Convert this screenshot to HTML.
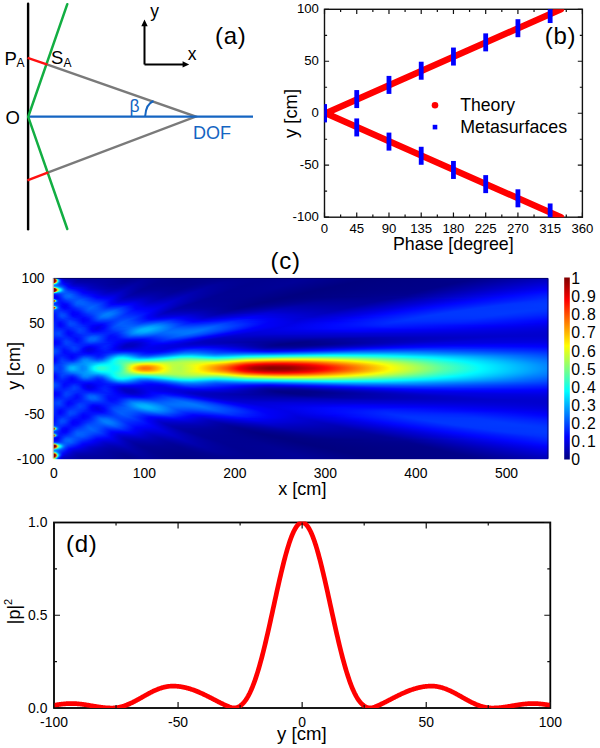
<!DOCTYPE html>
<html><head><meta charset="utf-8"><style>
html,body{margin:0;padding:0;background:#fff;}
body{width:600px;height:748px;overflow:hidden;}
svg{display:block;font-family:"Liberation Sans", sans-serif;}
</style></head><body>
<svg width="600" height="748" viewBox="0 0 600 748">
<rect width="600" height="748" fill="#fff"/>
<path d="M28.1,3.8 V229.2" stroke="#000" stroke-width="2.4" fill="none" stroke-linecap="round"/>
<path d="M47.5,64.6 L195.8,116.6 L48.3,172.3" stroke="#7a7a7a" stroke-width="2.4" fill="none" stroke-linejoin="miter"/>
<path d="M28,116.6 H253" stroke="#1565c2" stroke-width="2.2" fill="none"/>
<path d="M67.3,4.2 L28.2,116.8 L67.3,229" stroke="#12ae42" stroke-width="2.5" fill="none" stroke-linecap="round"/>
<path d="M27.6,57.8 L47.5,64.6" stroke="#ff1010" stroke-width="2.4" fill="none"/>
<path d="M27.4,180.4 L48.3,172.3" stroke="#ff1010" stroke-width="2.4" fill="none"/>
<path d="M145.2,116 Q146,104 153.5,101" stroke="#1565c2" stroke-width="2" fill="none"/>
<path d="M144.5,64.4 V25 M144.5,64.4 H183" stroke="#000" stroke-width="2" fill="none"/>
<path d="M144.5,19.6 L141.3,26.2 L147.7,26.2 Z M189.2,64.4 L182.6,61.2 L182.6,67.6 Z" fill="#000"/>
<text x="150.3" y="17" font-size="17.5">y</text>
<text x="187.8" y="59.5" font-size="17.5">x</text>
<text x="215.0" y="43.6" font-size="24" letter-spacing="0.7">(a)</text>
<text x="4.6" y="64.7" font-size="18.5">P</text>
<text x="16.4" y="66.9" font-size="12">A</text>
<text x="50.9" y="64" font-size="18.5">S</text>
<text x="63.6" y="66.7" font-size="12">A</text>
<text x="5.6" y="123.8" font-size="18.5">O</text>
<text x="129.5" y="112" font-size="17.5" fill="#1565c2">β</text>
<text x="192.9" y="139.2" font-size="18" fill="#1565c2">DOF</text>
<clipPath id="cb"><rect x="324.5" y="9.3" width="257.9" height="207.89999999999998"/></clipPath>
<path d="M324.50,217.2 v-4.6 M324.50,9.3 v4.6 M340.62,217.2 v-2.6 M340.62,9.3 v2.6 M356.74,217.2 v-4.6 M356.74,9.3 v4.6 M372.86,217.2 v-2.6 M372.86,9.3 v2.6 M388.98,217.2 v-4.6 M388.98,9.3 v4.6 M405.09,217.2 v-2.6 M405.09,9.3 v2.6 M421.21,217.2 v-4.6 M421.21,9.3 v4.6 M437.33,217.2 v-2.6 M437.33,9.3 v2.6 M453.45,217.2 v-4.6 M453.45,9.3 v4.6 M469.57,217.2 v-2.6 M469.57,9.3 v2.6 M485.69,217.2 v-4.6 M485.69,9.3 v4.6 M501.81,217.2 v-2.6 M501.81,9.3 v2.6 M517.92,217.2 v-4.6 M517.92,9.3 v4.6 M534.04,217.2 v-2.6 M534.04,9.3 v2.6 M550.16,217.2 v-4.6 M550.16,9.3 v4.6 M566.28,217.2 v-2.6 M566.28,9.3 v2.6 M582.40,217.2 v-4.6 M582.40,9.3 v4.6 M324.5,9.30 h4.6 M582.4,9.30 h-4.6 M324.5,35.29 h2.6 M582.4,35.29 h-2.6 M324.5,61.27 h4.6 M582.4,61.27 h-4.6 M324.5,87.26 h2.6 M582.4,87.26 h-2.6 M324.5,113.25 h4.6 M582.4,113.25 h-4.6 M324.5,139.24 h2.6 M582.4,139.24 h-2.6 M324.5,165.22 h4.6 M582.4,165.22 h-4.6 M324.5,191.21 h2.6 M582.4,191.21 h-2.6 M324.5,217.20 h4.6 M582.4,217.20 h-4.6" stroke="#111" stroke-width="1.2" fill="none"/>
<rect x="324.5" y="9.3" width="257.90" height="207.90" fill="none" stroke="#111" stroke-width="1.4"/>
<g clip-path="url(#cb)"><path d="M560.91,9.30 L325.70,113.25 L560.91,217.20" stroke="#ff0000" stroke-width="6.4" fill="none" stroke-linejoin="miter" stroke-miterlimit="10" stroke-linecap="round"/><rect x="322.10" y="104.25" width="4.8" height="18" fill="#0000ff"/><rect x="322.10" y="104.25" width="4.8" height="18" fill="#0000ff"/><rect x="354.34" y="90.07" width="4.8" height="18" fill="#0000ff"/><rect x="354.34" y="118.42" width="4.8" height="18" fill="#0000ff"/><rect x="386.58" y="75.90" width="4.8" height="18" fill="#0000ff"/><rect x="386.58" y="132.60" width="4.8" height="18" fill="#0000ff"/><rect x="418.81" y="61.72" width="4.8" height="18" fill="#0000ff"/><rect x="418.81" y="146.78" width="4.8" height="18" fill="#0000ff"/><rect x="451.05" y="47.55" width="4.8" height="18" fill="#0000ff"/><rect x="451.05" y="160.95" width="4.8" height="18" fill="#0000ff"/><rect x="483.29" y="33.37" width="4.8" height="18" fill="#0000ff"/><rect x="483.29" y="175.12" width="4.8" height="18" fill="#0000ff"/><rect x="515.52" y="19.20" width="4.8" height="18" fill="#0000ff"/><rect x="515.52" y="189.30" width="4.8" height="18" fill="#0000ff"/><rect x="547.76" y="5.03" width="4.8" height="18" fill="#0000ff"/><rect x="547.76" y="203.47" width="4.8" height="18" fill="#0000ff"/></g>
<text x="324.50" y="232.7" font-size="13.2" text-anchor="middle">0</text>
<text x="356.74" y="232.7" font-size="13.2" text-anchor="middle">45</text>
<text x="388.98" y="232.7" font-size="13.2" text-anchor="middle">90</text>
<text x="421.21" y="232.7" font-size="13.2" text-anchor="middle">135</text>
<text x="453.45" y="232.7" font-size="13.2" text-anchor="middle">180</text>
<text x="485.69" y="232.7" font-size="13.2" text-anchor="middle">225</text>
<text x="517.92" y="232.7" font-size="13.2" text-anchor="middle">270</text>
<text x="550.16" y="232.7" font-size="13.2" text-anchor="middle">315</text>
<text x="582.40" y="232.7" font-size="13.2" text-anchor="middle">360</text>
<text x="318.9" y="13.30" font-size="13.2" text-anchor="end">100</text>
<text x="318.9" y="65.27" font-size="13.2" text-anchor="end">50</text>
<text x="318.9" y="117.25" font-size="13.2" text-anchor="end">0</text>
<text x="318.9" y="169.22" font-size="13.2" text-anchor="end">-50</text>
<text x="318.9" y="221.20" font-size="13.2" text-anchor="end">-100</text>
<text x="393.0" y="249.6" font-size="17.8">Phase [degree]</text>
<text transform="translate(297,113.5) rotate(-90)" font-size="18.4" text-anchor="middle">y [cm]</text>
<circle cx="435" cy="105.2" r="3.3" fill="#ff0000"/>
<rect x="432.7" y="124.8" width="4.6" height="4.6" fill="#0000ff"/>
<text x="460.3" y="111.3" font-size="17.6">Theory</text>
<text x="460.3" y="132.5" font-size="17.8">Metasurfaces</text>
<text x="544.8" y="43.5" font-size="24" letter-spacing="0.7">(b)</text>
<defs><linearGradient id="h0"><stop offset="0.0010" stop-color="#ff5900"/><stop offset="0.0030" stop-color="#fff200"/><stop offset="0.0051" stop-color="#47ffb8"/><stop offset="0.0071" stop-color="#00b1ff"/><stop offset="0.0091" stop-color="#0057ff"/><stop offset="0.0111" stop-color="#0020ff"/><stop offset="0.0131" stop-color="#0000fa"/><stop offset="0.0172" stop-color="#0000ce"/><stop offset="0.0232" stop-color="#0000b9"/><stop offset="0.0576" stop-color="#00009d"/><stop offset="0.1101" stop-color="#00009b"/><stop offset="0.1505" stop-color="#00008c"/><stop offset="0.1828" stop-color="#000099"/><stop offset="0.2232" stop-color="#00008c"/><stop offset="0.2697" stop-color="#000086"/><stop offset="0.3141" stop-color="#00008b"/><stop offset="0.3667" stop-color="#000090"/><stop offset="0.4313" stop-color="#000091"/><stop offset="0.5061" stop-color="#000097"/><stop offset="0.6354" stop-color="#000080"/><stop offset="0.8535" stop-color="#00008a"/><stop offset="0.9990" stop-color="#0000bd"/></linearGradient>
<linearGradient id="h1"><stop offset="0.0010" stop-color="#800000"/><stop offset="0.0030" stop-color="#800000"/><stop offset="0.0051" stop-color="#ffaa00"/><stop offset="0.0071" stop-color="#4dffb2"/><stop offset="0.0091" stop-color="#00b5ff"/><stop offset="0.0111" stop-color="#005fff"/><stop offset="0.0131" stop-color="#0026ff"/><stop offset="0.0152" stop-color="#0000fd"/><stop offset="0.0192" stop-color="#0000d0"/><stop offset="0.0273" stop-color="#0000bb"/><stop offset="0.0556" stop-color="#00009f"/><stop offset="0.1101" stop-color="#00009c"/><stop offset="0.1485" stop-color="#00008d"/><stop offset="0.1808" stop-color="#00009a"/><stop offset="0.2212" stop-color="#00008c"/><stop offset="0.2677" stop-color="#000086"/><stop offset="0.3121" stop-color="#00008c"/><stop offset="0.3626" stop-color="#000091"/><stop offset="0.4273" stop-color="#000091"/><stop offset="0.5020" stop-color="#000097"/><stop offset="0.6313" stop-color="#000080"/><stop offset="0.8455" stop-color="#00008a"/><stop offset="0.9990" stop-color="#0000c1"/></linearGradient>
<linearGradient id="h2"><stop offset="0.0010" stop-color="#800000"/><stop offset="0.0030" stop-color="#800000"/><stop offset="0.0051" stop-color="#fb0000"/><stop offset="0.0071" stop-color="#b3ff4c"/><stop offset="0.0091" stop-color="#00f5ff"/><stop offset="0.0111" stop-color="#008cff"/><stop offset="0.0131" stop-color="#0047ff"/><stop offset="0.0152" stop-color="#0017ff"/><stop offset="0.0172" stop-color="#0000f5"/><stop offset="0.0212" stop-color="#0000d2"/><stop offset="0.0495" stop-color="#0000a3"/><stop offset="0.1061" stop-color="#00009d"/><stop offset="0.1465" stop-color="#00008e"/><stop offset="0.1788" stop-color="#00009b"/><stop offset="0.2172" stop-color="#00008c"/><stop offset="0.2636" stop-color="#000087"/><stop offset="0.3061" stop-color="#00008c"/><stop offset="0.3545" stop-color="#000093"/><stop offset="0.4192" stop-color="#000090"/><stop offset="0.4939" stop-color="#000097"/><stop offset="0.6212" stop-color="#000080"/><stop offset="0.8374" stop-color="#00008a"/><stop offset="0.9990" stop-color="#0000c6"/></linearGradient>
<linearGradient id="h3"><stop offset="0.0010" stop-color="#800000"/><stop offset="0.0030" stop-color="#800000"/><stop offset="0.0051" stop-color="#ff3600"/><stop offset="0.0071" stop-color="#9aff65"/><stop offset="0.0091" stop-color="#00efff"/><stop offset="0.0111" stop-color="#008eff"/><stop offset="0.0131" stop-color="#004fff"/><stop offset="0.0152" stop-color="#0021ff"/><stop offset="0.0172" stop-color="#0002ff"/><stop offset="0.0232" stop-color="#0000d7"/><stop offset="0.0475" stop-color="#0000aa"/><stop offset="0.1020" stop-color="#00009f"/><stop offset="0.1444" stop-color="#000090"/><stop offset="0.1747" stop-color="#00009d"/><stop offset="0.2131" stop-color="#00008d"/><stop offset="0.2596" stop-color="#000088"/><stop offset="0.3000" stop-color="#00008d"/><stop offset="0.3485" stop-color="#000095"/><stop offset="0.4131" stop-color="#000090"/><stop offset="0.4879" stop-color="#000097"/><stop offset="0.6131" stop-color="#000080"/><stop offset="0.8273" stop-color="#000089"/><stop offset="0.9990" stop-color="#0000cb"/></linearGradient>
<linearGradient id="h4"><stop offset="0.0010" stop-color="#800000"/><stop offset="0.0030" stop-color="#ff1700"/><stop offset="0.0051" stop-color="#e5ff1a"/><stop offset="0.0071" stop-color="#24ffdb"/><stop offset="0.0091" stop-color="#00b2ff"/><stop offset="0.0111" stop-color="#006fff"/><stop offset="0.0131" stop-color="#0042ff"/><stop offset="0.0172" stop-color="#0009ff"/><stop offset="0.0232" stop-color="#0000e4"/><stop offset="0.0455" stop-color="#0000b1"/><stop offset="0.0980" stop-color="#0000a1"/><stop offset="0.1424" stop-color="#000093"/><stop offset="0.1707" stop-color="#00009f"/><stop offset="0.2091" stop-color="#00008e"/><stop offset="0.2535" stop-color="#000089"/><stop offset="0.2919" stop-color="#00008c"/><stop offset="0.3384" stop-color="#000098"/><stop offset="0.4051" stop-color="#000090"/><stop offset="0.4818" stop-color="#000097"/><stop offset="0.6051" stop-color="#000080"/><stop offset="0.8172" stop-color="#000089"/><stop offset="0.9990" stop-color="#0000d1"/></linearGradient>
<linearGradient id="h5"><stop offset="0.0010" stop-color="#d3ff2c"/><stop offset="0.0030" stop-color="#7aff85"/><stop offset="0.0051" stop-color="#07fff8"/><stop offset="0.0071" stop-color="#00adff"/><stop offset="0.0091" stop-color="#0075ff"/><stop offset="0.0131" stop-color="#0035ff"/><stop offset="0.0192" stop-color="#0005ff"/><stop offset="0.0414" stop-color="#0000bd"/><stop offset="0.0939" stop-color="#0000a5"/><stop offset="0.1384" stop-color="#000095"/><stop offset="0.1667" stop-color="#0000a2"/><stop offset="0.2051" stop-color="#00008e"/><stop offset="0.2495" stop-color="#00008a"/><stop offset="0.2879" stop-color="#00008d"/><stop offset="0.3343" stop-color="#000099"/><stop offset="0.3990" stop-color="#000090"/><stop offset="0.4758" stop-color="#000097"/><stop offset="0.5949" stop-color="#000080"/><stop offset="0.8071" stop-color="#000089"/><stop offset="0.9990" stop-color="#0000d7"/></linearGradient>
<linearGradient id="h6"><stop offset="0.0010" stop-color="#00d1ff"/><stop offset="0.0071" stop-color="#006eff"/><stop offset="0.0131" stop-color="#0036ff"/><stop offset="0.0232" stop-color="#0001ff"/><stop offset="0.0394" stop-color="#0000c9"/><stop offset="0.0899" stop-color="#0000a9"/><stop offset="0.1182" stop-color="#00009b"/><stop offset="0.1404" stop-color="#00009b"/><stop offset="0.1646" stop-color="#0000a4"/><stop offset="0.2010" stop-color="#00008f"/><stop offset="0.2434" stop-color="#00008c"/><stop offset="0.2798" stop-color="#00008c"/><stop offset="0.3263" stop-color="#00009c"/><stop offset="0.3929" stop-color="#000090"/><stop offset="0.4697" stop-color="#000096"/><stop offset="0.5869" stop-color="#000080"/><stop offset="0.7990" stop-color="#000089"/><stop offset="0.9990" stop-color="#0000dd"/></linearGradient>
<linearGradient id="h7"><stop offset="0.0010" stop-color="#0084ff"/><stop offset="0.0273" stop-color="#0000fb"/><stop offset="0.0394" stop-color="#0000d4"/><stop offset="0.0859" stop-color="#0000ae"/><stop offset="0.1141" stop-color="#0000a0"/><stop offset="0.1364" stop-color="#00009e"/><stop offset="0.1606" stop-color="#0000a7"/><stop offset="0.1970" stop-color="#000090"/><stop offset="0.2394" stop-color="#00008d"/><stop offset="0.2758" stop-color="#00008e"/><stop offset="0.3202" stop-color="#00009e"/><stop offset="0.3869" stop-color="#000090"/><stop offset="0.4636" stop-color="#000096"/><stop offset="0.5768" stop-color="#000080"/><stop offset="0.7889" stop-color="#000089"/><stop offset="0.9707" stop-color="#0000d6"/><stop offset="0.9990" stop-color="#0000e3"/></linearGradient>
<linearGradient id="h8"><stop offset="0.0010" stop-color="#00b5ff"/><stop offset="0.0152" stop-color="#0052ff"/><stop offset="0.0293" stop-color="#0000fd"/><stop offset="0.0414" stop-color="#0000dd"/><stop offset="0.0838" stop-color="#0000b4"/><stop offset="0.1121" stop-color="#0000a3"/><stop offset="0.1323" stop-color="#0000a1"/><stop offset="0.1566" stop-color="#0000aa"/><stop offset="0.1929" stop-color="#000091"/><stop offset="0.2354" stop-color="#00008f"/><stop offset="0.2697" stop-color="#00008e"/><stop offset="0.3141" stop-color="#0000a0"/><stop offset="0.3808" stop-color="#000090"/><stop offset="0.4576" stop-color="#000096"/><stop offset="0.5687" stop-color="#000080"/><stop offset="0.7808" stop-color="#000089"/><stop offset="0.9606" stop-color="#0000d8"/><stop offset="0.9990" stop-color="#0000e9"/></linearGradient>
<linearGradient id="h9"><stop offset="0.0010" stop-color="#b9ff46"/><stop offset="0.0030" stop-color="#79ff86"/><stop offset="0.0051" stop-color="#29ffd6"/><stop offset="0.0071" stop-color="#00ebff"/><stop offset="0.0111" stop-color="#00a9ff"/><stop offset="0.0212" stop-color="#003dff"/><stop offset="0.0313" stop-color="#0002ff"/><stop offset="0.0778" stop-color="#0000bc"/><stop offset="0.1061" stop-color="#0000ab"/><stop offset="0.1263" stop-color="#0000a3"/><stop offset="0.1525" stop-color="#0000ae"/><stop offset="0.1889" stop-color="#000093"/><stop offset="0.2293" stop-color="#000092"/><stop offset="0.2636" stop-color="#00008f"/><stop offset="0.3101" stop-color="#0000a2"/><stop offset="0.3768" stop-color="#000091"/><stop offset="0.4515" stop-color="#000095"/><stop offset="0.5586" stop-color="#000080"/><stop offset="0.7727" stop-color="#00008a"/><stop offset="0.9505" stop-color="#0000d9"/><stop offset="0.9990" stop-color="#0000ef"/></linearGradient>
<linearGradient id="h10"><stop offset="0.0010" stop-color="#800000"/><stop offset="0.0030" stop-color="#bd0000"/><stop offset="0.0051" stop-color="#ffab00"/><stop offset="0.0071" stop-color="#a7ff58"/><stop offset="0.0091" stop-color="#46ffb9"/><stop offset="0.0111" stop-color="#0afff5"/><stop offset="0.0152" stop-color="#00b1ff"/><stop offset="0.0212" stop-color="#0054ff"/><stop offset="0.0273" stop-color="#0022ff"/><stop offset="0.0374" stop-color="#0002ff"/><stop offset="0.0758" stop-color="#0000c4"/><stop offset="0.1061" stop-color="#0000ad"/><stop offset="0.1263" stop-color="#0000a9"/><stop offset="0.1505" stop-color="#0000b1"/><stop offset="0.1828" stop-color="#000094"/><stop offset="0.2253" stop-color="#000094"/><stop offset="0.2596" stop-color="#000091"/><stop offset="0.3040" stop-color="#0000a4"/><stop offset="0.3707" stop-color="#000091"/><stop offset="0.4455" stop-color="#000095"/><stop offset="0.5485" stop-color="#000080"/><stop offset="0.7626" stop-color="#00008a"/><stop offset="0.9283" stop-color="#0000d4"/><stop offset="0.9990" stop-color="#0000f5"/></linearGradient>
<linearGradient id="h11"><stop offset="0.0010" stop-color="#800000"/><stop offset="0.0051" stop-color="#840000"/><stop offset="0.0071" stop-color="#ffa800"/><stop offset="0.0091" stop-color="#b8ff47"/><stop offset="0.0111" stop-color="#5dffa2"/><stop offset="0.0131" stop-color="#19ffe6"/><stop offset="0.0152" stop-color="#00dfff"/><stop offset="0.0192" stop-color="#0087ff"/><stop offset="0.0232" stop-color="#0050ff"/><stop offset="0.0293" stop-color="#0027ff"/><stop offset="0.0495" stop-color="#0000fc"/><stop offset="0.0717" stop-color="#0000cf"/><stop offset="0.1020" stop-color="#0000b5"/><stop offset="0.1222" stop-color="#0000ae"/><stop offset="0.1465" stop-color="#0000b6"/><stop offset="0.1788" stop-color="#000096"/><stop offset="0.2212" stop-color="#000096"/><stop offset="0.2535" stop-color="#000091"/><stop offset="0.2980" stop-color="#0000a7"/><stop offset="0.3646" stop-color="#000091"/><stop offset="0.4394" stop-color="#000094"/><stop offset="0.5404" stop-color="#000080"/><stop offset="0.7545" stop-color="#00008a"/><stop offset="0.9202" stop-color="#0000d7"/><stop offset="0.9990" stop-color="#0000fb"/></linearGradient>
<linearGradient id="h12"><stop offset="0.0010" stop-color="#800000"/><stop offset="0.0030" stop-color="#800000"/><stop offset="0.0051" stop-color="#8f0000"/><stop offset="0.0071" stop-color="#ffb100"/><stop offset="0.0091" stop-color="#b0ff4f"/><stop offset="0.0111" stop-color="#57ffa8"/><stop offset="0.0131" stop-color="#16ffe9"/><stop offset="0.0152" stop-color="#00ddff"/><stop offset="0.0192" stop-color="#008aff"/><stop offset="0.0232" stop-color="#0058ff"/><stop offset="0.0293" stop-color="#0036ff"/><stop offset="0.0535" stop-color="#0000fb"/><stop offset="0.0717" stop-color="#0000d8"/><stop offset="0.1141" stop-color="#0000b2"/><stop offset="0.1424" stop-color="#0000bb"/><stop offset="0.1747" stop-color="#000098"/><stop offset="0.2172" stop-color="#000098"/><stop offset="0.2495" stop-color="#000094"/><stop offset="0.2939" stop-color="#0000a9"/><stop offset="0.3586" stop-color="#000092"/><stop offset="0.4333" stop-color="#000094"/><stop offset="0.5303" stop-color="#000080"/><stop offset="0.7465" stop-color="#00008b"/><stop offset="0.9101" stop-color="#0000d8"/><stop offset="0.9990" stop-color="#0002ff"/></linearGradient>
<linearGradient id="h13"><stop offset="0.0010" stop-color="#800000"/><stop offset="0.0030" stop-color="#de0000"/><stop offset="0.0051" stop-color="#ffca00"/><stop offset="0.0071" stop-color="#8dff72"/><stop offset="0.0091" stop-color="#30ffcf"/><stop offset="0.0111" stop-color="#00f9ff"/><stop offset="0.0172" stop-color="#0090ff"/><stop offset="0.0232" stop-color="#0059ff"/><stop offset="0.0374" stop-color="#0035ff"/><stop offset="0.0576" stop-color="#0000f8"/><stop offset="0.0798" stop-color="#0000dc"/><stop offset="0.1101" stop-color="#0000b9"/><stop offset="0.1384" stop-color="#0000c0"/><stop offset="0.1707" stop-color="#00009b"/><stop offset="0.2111" stop-color="#00009c"/><stop offset="0.2434" stop-color="#000095"/><stop offset="0.2879" stop-color="#0000ac"/><stop offset="0.3525" stop-color="#000092"/><stop offset="0.4273" stop-color="#000093"/><stop offset="0.5202" stop-color="#000080"/><stop offset="0.7384" stop-color="#00008c"/><stop offset="0.9000" stop-color="#0000da"/><stop offset="0.9909" stop-color="#0006ff"/><stop offset="0.9990" stop-color="#0008ff"/></linearGradient>
<linearGradient id="h14"><stop offset="0.0010" stop-color="#83ff7c"/><stop offset="0.0051" stop-color="#00f8ff"/><stop offset="0.0071" stop-color="#00c1ff"/><stop offset="0.0091" stop-color="#00a3ff"/><stop offset="0.0172" stop-color="#006cff"/><stop offset="0.0293" stop-color="#0051ff"/><stop offset="0.0434" stop-color="#0032ff"/><stop offset="0.0596" stop-color="#0000fd"/><stop offset="0.1061" stop-color="#0000c1"/><stop offset="0.1343" stop-color="#0000c7"/><stop offset="0.1667" stop-color="#00009e"/><stop offset="0.2071" stop-color="#0000a0"/><stop offset="0.2394" stop-color="#000098"/><stop offset="0.2818" stop-color="#0000ae"/><stop offset="0.3485" stop-color="#000092"/><stop offset="0.4232" stop-color="#000092"/><stop offset="0.5121" stop-color="#000080"/><stop offset="0.7323" stop-color="#00008d"/><stop offset="0.9061" stop-color="#0000e4"/><stop offset="0.9768" stop-color="#0006ff"/><stop offset="0.9990" stop-color="#000eff"/></linearGradient>
<linearGradient id="h15"><stop offset="0.0010" stop-color="#006cff"/><stop offset="0.0071" stop-color="#0051ff"/><stop offset="0.0313" stop-color="#005bff"/><stop offset="0.0455" stop-color="#0034ff"/><stop offset="0.0616" stop-color="#0005ff"/><stop offset="0.0859" stop-color="#0000e2"/><stop offset="0.1040" stop-color="#0000ca"/><stop offset="0.1323" stop-color="#0000cc"/><stop offset="0.1626" stop-color="#0000a2"/><stop offset="0.2030" stop-color="#0000a4"/><stop offset="0.2354" stop-color="#00009b"/><stop offset="0.2778" stop-color="#0000b1"/><stop offset="0.3424" stop-color="#000093"/><stop offset="0.4172" stop-color="#000092"/><stop offset="0.5040" stop-color="#000080"/><stop offset="0.7242" stop-color="#00008e"/><stop offset="0.9000" stop-color="#0000e8"/><stop offset="0.9626" stop-color="#0007ff"/><stop offset="0.9990" stop-color="#0014ff"/></linearGradient>
<linearGradient id="h16"><stop offset="0.0010" stop-color="#0019ff"/><stop offset="0.0111" stop-color="#0032ff"/><stop offset="0.0253" stop-color="#0063ff"/><stop offset="0.0354" stop-color="#005eff"/><stop offset="0.0576" stop-color="#0018ff"/><stop offset="0.0778" stop-color="#0000fa"/><stop offset="0.1000" stop-color="#0000d4"/><stop offset="0.1283" stop-color="#0000d3"/><stop offset="0.1586" stop-color="#0000a6"/><stop offset="0.1990" stop-color="#0000a8"/><stop offset="0.2313" stop-color="#00009e"/><stop offset="0.2717" stop-color="#0000b4"/><stop offset="0.3364" stop-color="#000093"/><stop offset="0.4111" stop-color="#000091"/><stop offset="0.4939" stop-color="#000080"/><stop offset="0.7162" stop-color="#000090"/><stop offset="0.8939" stop-color="#0000ec"/><stop offset="0.9485" stop-color="#0008ff"/><stop offset="0.9990" stop-color="#0019ff"/></linearGradient>
<linearGradient id="h17"><stop offset="0.0010" stop-color="#0001ff"/><stop offset="0.0091" stop-color="#0018ff"/><stop offset="0.0232" stop-color="#0060ff"/><stop offset="0.0313" stop-color="#006aff"/><stop offset="0.0576" stop-color="#0024ff"/><stop offset="0.0818" stop-color="#0000f9"/><stop offset="0.1000" stop-color="#0000df"/><stop offset="0.1242" stop-color="#0000dc"/><stop offset="0.1545" stop-color="#0000aa"/><stop offset="0.1949" stop-color="#0000ad"/><stop offset="0.2253" stop-color="#0000a1"/><stop offset="0.2677" stop-color="#0000b7"/><stop offset="0.3303" stop-color="#000093"/><stop offset="0.4051" stop-color="#000091"/><stop offset="0.4859" stop-color="#000081"/><stop offset="0.7101" stop-color="#000091"/><stop offset="0.9263" stop-color="#0005ff"/><stop offset="0.9990" stop-color="#001eff"/></linearGradient>
<linearGradient id="h18"><stop offset="0.0010" stop-color="#0000f6"/><stop offset="0.0071" stop-color="#0003ff"/><stop offset="0.0232" stop-color="#005eff"/><stop offset="0.0313" stop-color="#006aff"/><stop offset="0.0576" stop-color="#0031ff"/><stop offset="0.0838" stop-color="#0000fc"/><stop offset="0.1000" stop-color="#0000eb"/><stop offset="0.1222" stop-color="#0000e3"/><stop offset="0.1485" stop-color="#0000b1"/><stop offset="0.1909" stop-color="#0000b2"/><stop offset="0.2212" stop-color="#0000a5"/><stop offset="0.2636" stop-color="#0000ba"/><stop offset="0.3242" stop-color="#000094"/><stop offset="0.3990" stop-color="#000091"/><stop offset="0.4758" stop-color="#000081"/><stop offset="0.6152" stop-color="#000089"/><stop offset="0.7162" stop-color="#000098"/><stop offset="0.9121" stop-color="#0005ff"/><stop offset="0.9990" stop-color="#0023ff"/></linearGradient>
<linearGradient id="h19"><stop offset="0.0010" stop-color="#0000f2"/><stop offset="0.0091" stop-color="#0005ff"/><stop offset="0.0232" stop-color="#0058ff"/><stop offset="0.0313" stop-color="#0065ff"/><stop offset="0.0717" stop-color="#0024ff"/><stop offset="0.0879" stop-color="#0000fe"/><stop offset="0.1182" stop-color="#0000ed"/><stop offset="0.1444" stop-color="#0000b7"/><stop offset="0.1869" stop-color="#0000b9"/><stop offset="0.2172" stop-color="#0000a9"/><stop offset="0.2576" stop-color="#0000be"/><stop offset="0.3182" stop-color="#000095"/><stop offset="0.3929" stop-color="#000090"/><stop offset="0.4677" stop-color="#000081"/><stop offset="0.5949" stop-color="#00008b"/><stop offset="0.6980" stop-color="#000096"/><stop offset="0.8980" stop-color="#0005ff"/><stop offset="0.9990" stop-color="#0027ff"/></linearGradient>
<linearGradient id="h20"><stop offset="0.0010" stop-color="#0002ff"/><stop offset="0.0091" stop-color="#0003ff"/><stop offset="0.0253" stop-color="#0055ff"/><stop offset="0.0374" stop-color="#0059ff"/><stop offset="0.0657" stop-color="#003cff"/><stop offset="0.0879" stop-color="#000aff"/><stop offset="0.1141" stop-color="#0000f8"/><stop offset="0.1404" stop-color="#0000bf"/><stop offset="0.1808" stop-color="#0000c1"/><stop offset="0.2131" stop-color="#0000ae"/><stop offset="0.2535" stop-color="#0000c1"/><stop offset="0.3121" stop-color="#000095"/><stop offset="0.3869" stop-color="#000090"/><stop offset="0.4576" stop-color="#000081"/><stop offset="0.5788" stop-color="#00008e"/><stop offset="0.6838" stop-color="#000095"/><stop offset="0.8838" stop-color="#0006ff"/><stop offset="0.9990" stop-color="#002bff"/></linearGradient>
<linearGradient id="h21"><stop offset="0.0010" stop-color="#00dfff"/><stop offset="0.0030" stop-color="#007cff"/><stop offset="0.0051" stop-color="#0038ff"/><stop offset="0.0071" stop-color="#001aff"/><stop offset="0.0111" stop-color="#000dff"/><stop offset="0.0273" stop-color="#004cff"/><stop offset="0.0576" stop-color="#0054ff"/><stop offset="0.0859" stop-color="#0018ff"/><stop offset="0.1101" stop-color="#0006ff"/><stop offset="0.1263" stop-color="#0000db"/><stop offset="0.1424" stop-color="#0000c3"/><stop offset="0.1747" stop-color="#0000cb"/><stop offset="0.2071" stop-color="#0000b3"/><stop offset="0.2495" stop-color="#0000c4"/><stop offset="0.3061" stop-color="#000096"/><stop offset="0.3808" stop-color="#000090"/><stop offset="0.4495" stop-color="#000082"/><stop offset="0.5646" stop-color="#000091"/><stop offset="0.6717" stop-color="#000096"/><stop offset="0.8091" stop-color="#0000e2"/><stop offset="0.8697" stop-color="#0006ff"/><stop offset="0.9949" stop-color="#002eff"/><stop offset="0.9990" stop-color="#002fff"/></linearGradient>
<linearGradient id="h22"><stop offset="0.0010" stop-color="#800000"/><stop offset="0.0030" stop-color="#fff700"/><stop offset="0.0051" stop-color="#00c7ff"/><stop offset="0.0071" stop-color="#0058ff"/><stop offset="0.0091" stop-color="#0027ff"/><stop offset="0.0111" stop-color="#0014ff"/><stop offset="0.0172" stop-color="#001eff"/><stop offset="0.0333" stop-color="#0048ff"/><stop offset="0.0535" stop-color="#005fff"/><stop offset="0.0717" stop-color="#003bff"/><stop offset="0.0899" stop-color="#0023ff"/><stop offset="0.1081" stop-color="#000fff"/><stop offset="0.1162" stop-color="#0000f8"/><stop offset="0.1343" stop-color="#0000ce"/><stop offset="0.1727" stop-color="#0000d2"/><stop offset="0.2030" stop-color="#0000b9"/><stop offset="0.2434" stop-color="#0000c9"/><stop offset="0.3000" stop-color="#000097"/><stop offset="0.3747" stop-color="#000090"/><stop offset="0.4414" stop-color="#000082"/><stop offset="0.5525" stop-color="#000094"/><stop offset="0.6616" stop-color="#000097"/><stop offset="0.7889" stop-color="#0000dd"/><stop offset="0.8556" stop-color="#0006ff"/><stop offset="0.9808" stop-color="#002fff"/><stop offset="0.9990" stop-color="#0032ff"/></linearGradient>
<linearGradient id="h23"><stop offset="0.0010" stop-color="#800000"/><stop offset="0.0030" stop-color="#c8ff37"/><stop offset="0.0051" stop-color="#00baff"/><stop offset="0.0071" stop-color="#0057ff"/><stop offset="0.0091" stop-color="#0029ff"/><stop offset="0.0111" stop-color="#0015ff"/><stop offset="0.0172" stop-color="#0015ff"/><stop offset="0.0495" stop-color="#0063ff"/><stop offset="0.0616" stop-color="#005aff"/><stop offset="0.0818" stop-color="#0034ff"/><stop offset="0.1040" stop-color="#001dff"/><stop offset="0.1162" stop-color="#0000f8"/><stop offset="0.1323" stop-color="#0000d7"/><stop offset="0.1667" stop-color="#0000dd"/><stop offset="0.1990" stop-color="#0000bf"/><stop offset="0.2394" stop-color="#0000cd"/><stop offset="0.2939" stop-color="#000098"/><stop offset="0.3687" stop-color="#000090"/><stop offset="0.4313" stop-color="#000082"/><stop offset="0.5404" stop-color="#000097"/><stop offset="0.6515" stop-color="#000099"/><stop offset="0.7727" stop-color="#0000db"/><stop offset="0.8414" stop-color="#0006ff"/><stop offset="0.9646" stop-color="#0030ff"/><stop offset="0.9990" stop-color="#0034ff"/></linearGradient>
<linearGradient id="h24"><stop offset="0.0010" stop-color="#00b0ff"/><stop offset="0.0030" stop-color="#0074ff"/><stop offset="0.0051" stop-color="#0046ff"/><stop offset="0.0091" stop-color="#001bff"/><stop offset="0.0172" stop-color="#000dff"/><stop offset="0.0313" stop-color="#002cff"/><stop offset="0.0475" stop-color="#0062ff"/><stop offset="0.0596" stop-color="#0060ff"/><stop offset="0.0818" stop-color="#0040ff"/><stop offset="0.1000" stop-color="#002bff"/><stop offset="0.1162" stop-color="#0000f9"/><stop offset="0.1303" stop-color="#0000e1"/><stop offset="0.1626" stop-color="#0000e8"/><stop offset="0.1949" stop-color="#0000c6"/><stop offset="0.2354" stop-color="#0000d0"/><stop offset="0.2879" stop-color="#000099"/><stop offset="0.3606" stop-color="#000092"/><stop offset="0.4232" stop-color="#000083"/><stop offset="0.5283" stop-color="#00009b"/><stop offset="0.6414" stop-color="#00009b"/><stop offset="0.7566" stop-color="#0000d9"/><stop offset="0.8273" stop-color="#0006ff"/><stop offset="0.9485" stop-color="#0031ff"/><stop offset="0.9990" stop-color="#0036ff"/></linearGradient>
<linearGradient id="h25"><stop offset="0.0010" stop-color="#0039ff"/><stop offset="0.0172" stop-color="#0007ff"/><stop offset="0.0273" stop-color="#0012ff"/><stop offset="0.0475" stop-color="#0061ff"/><stop offset="0.0596" stop-color="#0060ff"/><stop offset="0.0960" stop-color="#003aff"/><stop offset="0.1162" stop-color="#0000fc"/><stop offset="0.1303" stop-color="#0000ed"/><stop offset="0.1566" stop-color="#0000f6"/><stop offset="0.1909" stop-color="#0000cd"/><stop offset="0.2293" stop-color="#0000d5"/><stop offset="0.2818" stop-color="#00009b"/><stop offset="0.3545" stop-color="#000093"/><stop offset="0.4131" stop-color="#000084"/><stop offset="0.5182" stop-color="#00009e"/><stop offset="0.6313" stop-color="#00009d"/><stop offset="0.7404" stop-color="#0000d7"/><stop offset="0.8111" stop-color="#0005ff"/><stop offset="0.9303" stop-color="#0032ff"/><stop offset="0.9990" stop-color="#0038ff"/></linearGradient>
<linearGradient id="h26"><stop offset="0.0010" stop-color="#0042ff"/><stop offset="0.0192" stop-color="#0000fe"/><stop offset="0.0273" stop-color="#0008ff"/><stop offset="0.0455" stop-color="#0057ff"/><stop offset="0.0576" stop-color="#0060ff"/><stop offset="0.0899" stop-color="#004cff"/><stop offset="0.1182" stop-color="#0000fe"/><stop offset="0.1545" stop-color="#0001ff"/><stop offset="0.1869" stop-color="#0000d5"/><stop offset="0.2253" stop-color="#0000da"/><stop offset="0.2737" stop-color="#00009d"/><stop offset="0.3485" stop-color="#000094"/><stop offset="0.4051" stop-color="#000085"/><stop offset="0.5081" stop-color="#0000a2"/><stop offset="0.6232" stop-color="#00009f"/><stop offset="0.7303" stop-color="#0000d9"/><stop offset="0.7990" stop-color="#0006ff"/><stop offset="0.9162" stop-color="#0033ff"/><stop offset="0.9990" stop-color="#0039ff"/></linearGradient>
<linearGradient id="h27"><stop offset="0.0010" stop-color="#0067ff"/><stop offset="0.0152" stop-color="#000aff"/><stop offset="0.0232" stop-color="#0000f8"/><stop offset="0.0293" stop-color="#0009ff"/><stop offset="0.0455" stop-color="#004fff"/><stop offset="0.0636" stop-color="#005bff"/><stop offset="0.0859" stop-color="#0058ff"/><stop offset="0.1141" stop-color="#000dff"/><stop offset="0.1343" stop-color="#0012ff"/><stop offset="0.1525" stop-color="#000cff"/><stop offset="0.1646" stop-color="#0000f4"/><stop offset="0.1869" stop-color="#0000dc"/><stop offset="0.2212" stop-color="#0000de"/><stop offset="0.2677" stop-color="#00009f"/><stop offset="0.3424" stop-color="#000095"/><stop offset="0.3970" stop-color="#000087"/><stop offset="0.4980" stop-color="#0000a7"/><stop offset="0.6152" stop-color="#0000a2"/><stop offset="0.7202" stop-color="#0000db"/><stop offset="0.7848" stop-color="#0006ff"/><stop offset="0.9000" stop-color="#0034ff"/><stop offset="0.9990" stop-color="#0039ff"/></linearGradient>
<linearGradient id="h28"><stop offset="0.0010" stop-color="#b2ff4d"/><stop offset="0.0030" stop-color="#0ffff0"/><stop offset="0.0051" stop-color="#009dff"/><stop offset="0.0071" stop-color="#0065ff"/><stop offset="0.0111" stop-color="#002aff"/><stop offset="0.0172" stop-color="#0003ff"/><stop offset="0.0253" stop-color="#0000f9"/><stop offset="0.0333" stop-color="#0017ff"/><stop offset="0.0475" stop-color="#0048ff"/><stop offset="0.0798" stop-color="#0063ff"/><stop offset="0.0960" stop-color="#0040ff"/><stop offset="0.1121" stop-color="#0019ff"/><stop offset="0.1444" stop-color="#0020ff"/><stop offset="0.1646" stop-color="#0000f8"/><stop offset="0.1848" stop-color="#0000e4"/><stop offset="0.2172" stop-color="#0000e2"/><stop offset="0.2616" stop-color="#0000a2"/><stop offset="0.3364" stop-color="#000097"/><stop offset="0.3889" stop-color="#000088"/><stop offset="0.4879" stop-color="#0000ac"/><stop offset="0.6071" stop-color="#0000a5"/><stop offset="0.7101" stop-color="#0000dd"/><stop offset="0.7707" stop-color="#0006ff"/><stop offset="0.8859" stop-color="#0034ff"/><stop offset="0.9990" stop-color="#0039ff"/></linearGradient>
<linearGradient id="h29"><stop offset="0.0010" stop-color="#800000"/><stop offset="0.0030" stop-color="#ff7500"/><stop offset="0.0051" stop-color="#20ffdf"/><stop offset="0.0071" stop-color="#009cff"/><stop offset="0.0091" stop-color="#005aff"/><stop offset="0.0111" stop-color="#0035ff"/><stop offset="0.0152" stop-color="#0012ff"/><stop offset="0.0212" stop-color="#0000fb"/><stop offset="0.0293" stop-color="#0005ff"/><stop offset="0.0495" stop-color="#003fff"/><stop offset="0.0758" stop-color="#0066ff"/><stop offset="0.0899" stop-color="#0051ff"/><stop offset="0.1081" stop-color="#0028ff"/><stop offset="0.1384" stop-color="#0031ff"/><stop offset="0.1646" stop-color="#0000fb"/><stop offset="0.1848" stop-color="#0000ec"/><stop offset="0.2131" stop-color="#0000e6"/><stop offset="0.2556" stop-color="#0000a5"/><stop offset="0.3283" stop-color="#00009b"/><stop offset="0.3808" stop-color="#00008b"/><stop offset="0.4778" stop-color="#0000b1"/><stop offset="0.5970" stop-color="#0000a8"/><stop offset="0.6939" stop-color="#0000da"/><stop offset="0.7566" stop-color="#0006ff"/><stop offset="0.8697" stop-color="#0035ff"/><stop offset="0.9990" stop-color="#0038ff"/></linearGradient>
<linearGradient id="h30"><stop offset="0.0010" stop-color="#fd0000"/><stop offset="0.0030" stop-color="#afff50"/><stop offset="0.0051" stop-color="#00d7ff"/><stop offset="0.0071" stop-color="#0080ff"/><stop offset="0.0091" stop-color="#0051ff"/><stop offset="0.0131" stop-color="#0024ff"/><stop offset="0.0212" stop-color="#0004ff"/><stop offset="0.0313" stop-color="#000aff"/><stop offset="0.0737" stop-color="#0065ff"/><stop offset="0.0879" stop-color="#0055ff"/><stop offset="0.1061" stop-color="#0034ff"/><stop offset="0.1343" stop-color="#0040ff"/><stop offset="0.1667" stop-color="#0000fb"/><stop offset="0.2091" stop-color="#0000eb"/><stop offset="0.2495" stop-color="#0000a8"/><stop offset="0.3222" stop-color="#00009f"/><stop offset="0.3727" stop-color="#00008d"/><stop offset="0.4697" stop-color="#0000b6"/><stop offset="0.5889" stop-color="#0000ab"/><stop offset="0.6838" stop-color="#0000dc"/><stop offset="0.7444" stop-color="#0006ff"/><stop offset="0.8556" stop-color="#0035ff"/><stop offset="0.9909" stop-color="#0038ff"/><stop offset="0.9990" stop-color="#0037ff"/></linearGradient>
<linearGradient id="h31"><stop offset="0.0010" stop-color="#009cff"/><stop offset="0.0051" stop-color="#005eff"/><stop offset="0.0111" stop-color="#0031ff"/><stop offset="0.0232" stop-color="#000bff"/><stop offset="0.0414" stop-color="#0016ff"/><stop offset="0.0717" stop-color="#0060ff"/><stop offset="0.0859" stop-color="#0056ff"/><stop offset="0.1040" stop-color="#0041ff"/><stop offset="0.1283" stop-color="#0051ff"/><stop offset="0.1465" stop-color="#002cff"/><stop offset="0.1667" stop-color="#0001ff"/><stop offset="0.2030" stop-color="#0000f2"/><stop offset="0.2434" stop-color="#0000ac"/><stop offset="0.2838" stop-color="#0000ac"/><stop offset="0.3667" stop-color="#000091"/><stop offset="0.4596" stop-color="#0000bc"/><stop offset="0.5808" stop-color="#0000af"/><stop offset="0.6737" stop-color="#0000df"/><stop offset="0.7303" stop-color="#0006ff"/><stop offset="0.8414" stop-color="#0036ff"/><stop offset="0.9747" stop-color="#0038ff"/><stop offset="0.9990" stop-color="#0035ff"/></linearGradient>
<linearGradient id="h32"><stop offset="0.0010" stop-color="#0040ff"/><stop offset="0.0192" stop-color="#001fff"/><stop offset="0.0374" stop-color="#0009ff"/><stop offset="0.0515" stop-color="#0021ff"/><stop offset="0.0697" stop-color="#0058ff"/><stop offset="0.0859" stop-color="#0053ff"/><stop offset="0.1020" stop-color="#004dff"/><stop offset="0.1242" stop-color="#0060ff"/><stop offset="0.1404" stop-color="#003fff"/><stop offset="0.1606" stop-color="#000dff"/><stop offset="0.1970" stop-color="#0000fb"/><stop offset="0.2394" stop-color="#0000af"/><stop offset="0.3061" stop-color="#0000aa"/><stop offset="0.3566" stop-color="#000095"/><stop offset="0.4515" stop-color="#0000c3"/><stop offset="0.5727" stop-color="#0000b2"/><stop offset="0.6636" stop-color="#0000e1"/><stop offset="0.7182" stop-color="#0007ff"/><stop offset="0.8273" stop-color="#0036ff"/><stop offset="0.9586" stop-color="#0039ff"/><stop offset="0.9990" stop-color="#0032ff"/></linearGradient>
<linearGradient id="h33"><stop offset="0.0010" stop-color="#0030ff"/><stop offset="0.0152" stop-color="#0033ff"/><stop offset="0.0394" stop-color="#0003ff"/><stop offset="0.0515" stop-color="#0018ff"/><stop offset="0.0697" stop-color="#0050ff"/><stop offset="0.1000" stop-color="#0057ff"/><stop offset="0.1202" stop-color="#006dff"/><stop offset="0.1364" stop-color="#004bff"/><stop offset="0.1566" stop-color="#0017ff"/><stop offset="0.1970" stop-color="#0000fa"/><stop offset="0.2313" stop-color="#0000b6"/><stop offset="0.2616" stop-color="#0000b3"/><stop offset="0.3000" stop-color="#0000b1"/><stop offset="0.3505" stop-color="#00009a"/><stop offset="0.4434" stop-color="#0000c9"/><stop offset="0.5646" stop-color="#0000b6"/><stop offset="0.6535" stop-color="#0000e3"/><stop offset="0.7040" stop-color="#0006ff"/><stop offset="0.8131" stop-color="#0037ff"/><stop offset="0.9424" stop-color="#0039ff"/><stop offset="0.9990" stop-color="#0030ff"/></linearGradient>
<linearGradient id="h34"><stop offset="0.0010" stop-color="#0024ff"/><stop offset="0.0152" stop-color="#003dff"/><stop offset="0.0273" stop-color="#0021ff"/><stop offset="0.0394" stop-color="#0000fd"/><stop offset="0.0495" stop-color="#000aff"/><stop offset="0.0677" stop-color="#0043ff"/><stop offset="0.0960" stop-color="#005bff"/><stop offset="0.1141" stop-color="#0078ff"/><stop offset="0.1283" stop-color="#0063ff"/><stop offset="0.1525" stop-color="#0020ff"/><stop offset="0.1889" stop-color="#0008ff"/><stop offset="0.2010" stop-color="#0000ee"/><stop offset="0.2273" stop-color="#0000bb"/><stop offset="0.2576" stop-color="#0000bb"/><stop offset="0.2939" stop-color="#0000b8"/><stop offset="0.3424" stop-color="#00009f"/><stop offset="0.4354" stop-color="#0000d1"/><stop offset="0.5566" stop-color="#0000ba"/><stop offset="0.6434" stop-color="#0000e5"/><stop offset="0.6919" stop-color="#0007ff"/><stop offset="0.8010" stop-color="#0037ff"/><stop offset="0.9303" stop-color="#0039ff"/><stop offset="0.9990" stop-color="#002cff"/></linearGradient>
<linearGradient id="h35"><stop offset="0.0010" stop-color="#001aff"/><stop offset="0.0152" stop-color="#0045ff"/><stop offset="0.0232" stop-color="#0039ff"/><stop offset="0.0374" stop-color="#0000ff"/><stop offset="0.0495" stop-color="#0005ff"/><stop offset="0.0697" stop-color="#003bff"/><stop offset="0.0939" stop-color="#005fff"/><stop offset="0.1101" stop-color="#007fff"/><stop offset="0.1222" stop-color="#0071ff"/><stop offset="0.1485" stop-color="#0028ff"/><stop offset="0.1848" stop-color="#000fff"/><stop offset="0.1970" stop-color="#0000f4"/><stop offset="0.2232" stop-color="#0000c0"/><stop offset="0.2556" stop-color="#0000c4"/><stop offset="0.2899" stop-color="#0000bf"/><stop offset="0.3364" stop-color="#0000a6"/><stop offset="0.4273" stop-color="#0000d9"/><stop offset="0.5485" stop-color="#0000be"/><stop offset="0.6333" stop-color="#0000e7"/><stop offset="0.6798" stop-color="#0007ff"/><stop offset="0.7869" stop-color="#0037ff"/><stop offset="0.9141" stop-color="#0039ff"/><stop offset="0.9990" stop-color="#0028ff"/></linearGradient>
<linearGradient id="h36"><stop offset="0.0010" stop-color="#0012ff"/><stop offset="0.0152" stop-color="#004bff"/><stop offset="0.0232" stop-color="#0041ff"/><stop offset="0.0374" stop-color="#0001ff"/><stop offset="0.0475" stop-color="#0000fd"/><stop offset="0.0899" stop-color="#005aff"/><stop offset="0.1061" stop-color="#0081ff"/><stop offset="0.1182" stop-color="#0078ff"/><stop offset="0.1444" stop-color="#0030ff"/><stop offset="0.1808" stop-color="#0017ff"/><stop offset="0.1929" stop-color="#0000fa"/><stop offset="0.2172" stop-color="#0000c9"/><stop offset="0.2434" stop-color="#0000ca"/><stop offset="0.2758" stop-color="#0000ce"/><stop offset="0.3283" stop-color="#0000ad"/><stop offset="0.3889" stop-color="#0000d5"/><stop offset="0.4374" stop-color="#0000e0"/><stop offset="0.5343" stop-color="#0000c2"/><stop offset="0.6111" stop-color="#0000e1"/><stop offset="0.6677" stop-color="#0007ff"/><stop offset="0.7747" stop-color="#0037ff"/><stop offset="0.9020" stop-color="#0038ff"/><stop offset="0.9990" stop-color="#0024ff"/></linearGradient>
<linearGradient id="h37"><stop offset="0.0010" stop-color="#000dff"/><stop offset="0.0152" stop-color="#004cff"/><stop offset="0.0212" stop-color="#004bff"/><stop offset="0.0394" stop-color="#0001ff"/><stop offset="0.0535" stop-color="#0008ff"/><stop offset="0.0818" stop-color="#0042ff"/><stop offset="0.1020" stop-color="#007fff"/><stop offset="0.1141" stop-color="#007aff"/><stop offset="0.1404" stop-color="#0037ff"/><stop offset="0.1747" stop-color="#0022ff"/><stop offset="0.1909" stop-color="#0000fc"/><stop offset="0.2131" stop-color="#0000d1"/><stop offset="0.2414" stop-color="#0000d7"/><stop offset="0.2717" stop-color="#0000d8"/><stop offset="0.3202" stop-color="#0000b5"/><stop offset="0.3646" stop-color="#0000d0"/><stop offset="0.4131" stop-color="#0000ea"/><stop offset="0.5303" stop-color="#0000c7"/><stop offset="0.6091" stop-color="#0000e8"/><stop offset="0.6556" stop-color="#0008ff"/><stop offset="0.7626" stop-color="#0037ff"/><stop offset="0.8899" stop-color="#0037ff"/><stop offset="0.9990" stop-color="#0020ff"/></linearGradient>
<linearGradient id="h38"><stop offset="0.0010" stop-color="#000cff"/><stop offset="0.0152" stop-color="#004aff"/><stop offset="0.0232" stop-color="#0045ff"/><stop offset="0.0394" stop-color="#0007ff"/><stop offset="0.0556" stop-color="#0007ff"/><stop offset="0.0758" stop-color="#002aff"/><stop offset="0.0980" stop-color="#0077ff"/><stop offset="0.1101" stop-color="#0078ff"/><stop offset="0.1364" stop-color="#003cff"/><stop offset="0.1687" stop-color="#002eff"/><stop offset="0.1909" stop-color="#0000fa"/><stop offset="0.2111" stop-color="#0000d9"/><stop offset="0.2616" stop-color="#0000e7"/><stop offset="0.3141" stop-color="#0000bf"/><stop offset="0.3566" stop-color="#0000d8"/><stop offset="0.4051" stop-color="#0000f4"/><stop offset="0.5202" stop-color="#0000cb"/><stop offset="0.5949" stop-color="#0000e7"/><stop offset="0.6434" stop-color="#0008ff"/><stop offset="0.7505" stop-color="#0036ff"/><stop offset="0.8778" stop-color="#0035ff"/><stop offset="0.9990" stop-color="#001bff"/></linearGradient>
<linearGradient id="h39"><stop offset="0.0010" stop-color="#000cff"/><stop offset="0.0172" stop-color="#0046ff"/><stop offset="0.0273" stop-color="#0036ff"/><stop offset="0.0434" stop-color="#000aff"/><stop offset="0.0636" stop-color="#0008ff"/><stop offset="0.0778" stop-color="#002dff"/><stop offset="0.0960" stop-color="#006eff"/><stop offset="0.1081" stop-color="#006fff"/><stop offset="0.1343" stop-color="#003eff"/><stop offset="0.1646" stop-color="#0037ff"/><stop offset="0.1909" stop-color="#0000fa"/><stop offset="0.2111" stop-color="#0000e4"/><stop offset="0.2535" stop-color="#0000f7"/><stop offset="0.3081" stop-color="#0000c9"/><stop offset="0.3485" stop-color="#0000e1"/><stop offset="0.3949" stop-color="#0000fd"/><stop offset="0.4616" stop-color="#0000e0"/><stop offset="0.5242" stop-color="#0000d0"/><stop offset="0.6131" stop-color="#0000fb"/><stop offset="0.7384" stop-color="#0035ff"/><stop offset="0.8657" stop-color="#0034ff"/><stop offset="0.9990" stop-color="#0015ff"/></linearGradient>
<linearGradient id="h40"><stop offset="0.0010" stop-color="#000fff"/><stop offset="0.0192" stop-color="#003eff"/><stop offset="0.0374" stop-color="#0020ff"/><stop offset="0.0596" stop-color="#0000ff"/><stop offset="0.0717" stop-color="#0013ff"/><stop offset="0.0939" stop-color="#0062ff"/><stop offset="0.1061" stop-color="#0063ff"/><stop offset="0.1303" stop-color="#0040ff"/><stop offset="0.1586" stop-color="#0043ff"/><stop offset="0.1909" stop-color="#0000fd"/><stop offset="0.2111" stop-color="#0000f4"/><stop offset="0.2414" stop-color="#0009ff"/><stop offset="0.2657" stop-color="#0000f6"/><stop offset="0.3020" stop-color="#0000d5"/><stop offset="0.3404" stop-color="#0000ea"/><stop offset="0.3727" stop-color="#0005ff"/><stop offset="0.4293" stop-color="#0000f7"/><stop offset="0.5000" stop-color="#0000d4"/><stop offset="0.5687" stop-color="#0000e7"/><stop offset="0.6192" stop-color="#0007ff"/><stop offset="0.7263" stop-color="#0034ff"/><stop offset="0.8535" stop-color="#0032ff"/><stop offset="0.9990" stop-color="#0010ff"/></linearGradient>
<linearGradient id="h41"><stop offset="0.0010" stop-color="#0013ff"/><stop offset="0.0253" stop-color="#0037ff"/><stop offset="0.0434" stop-color="#001eff"/><stop offset="0.0596" stop-color="#0000fc"/><stop offset="0.0697" stop-color="#0009ff"/><stop offset="0.0919" stop-color="#0052ff"/><stop offset="0.1061" stop-color="#0051ff"/><stop offset="0.1263" stop-color="#003fff"/><stop offset="0.1525" stop-color="#004dff"/><stop offset="0.1768" stop-color="#001eff"/><stop offset="0.1970" stop-color="#0002ff"/><stop offset="0.2414" stop-color="#0019ff"/><stop offset="0.2697" stop-color="#0000f9"/><stop offset="0.3000" stop-color="#0000e1"/><stop offset="0.3505" stop-color="#0006ff"/><stop offset="0.3909" stop-color="#0012ff"/><stop offset="0.4333" stop-color="#0000f7"/><stop offset="0.4960" stop-color="#0000d8"/><stop offset="0.5667" stop-color="#0000ed"/><stop offset="0.6111" stop-color="#0009ff"/><stop offset="0.7162" stop-color="#0033ff"/><stop offset="0.8475" stop-color="#002eff"/><stop offset="0.9990" stop-color="#000bff"/></linearGradient>
<linearGradient id="h42"><stop offset="0.0010" stop-color="#0018ff"/><stop offset="0.0172" stop-color="#0024ff"/><stop offset="0.0333" stop-color="#003aff"/><stop offset="0.0475" stop-color="#001bff"/><stop offset="0.0596" stop-color="#0000fd"/><stop offset="0.0697" stop-color="#0007ff"/><stop offset="0.0899" stop-color="#0041ff"/><stop offset="0.1081" stop-color="#003dff"/><stop offset="0.1263" stop-color="#0040ff"/><stop offset="0.1485" stop-color="#0054ff"/><stop offset="0.1707" stop-color="#002eff"/><stop offset="0.1909" stop-color="#0011ff"/><stop offset="0.2354" stop-color="#002cff"/><stop offset="0.2758" stop-color="#0000f9"/><stop offset="0.3040" stop-color="#0000ef"/><stop offset="0.3323" stop-color="#0008ff"/><stop offset="0.3747" stop-color="#001eff"/><stop offset="0.4333" stop-color="#0000f8"/><stop offset="0.4919" stop-color="#0000db"/><stop offset="0.5646" stop-color="#0000f3"/><stop offset="0.6071" stop-color="#000cff"/><stop offset="0.7121" stop-color="#0032ff"/><stop offset="0.8515" stop-color="#0028ff"/><stop offset="0.9990" stop-color="#0005ff"/></linearGradient>
<linearGradient id="h43"><stop offset="0.0010" stop-color="#001dff"/><stop offset="0.0152" stop-color="#0014ff"/><stop offset="0.0333" stop-color="#0041ff"/><stop offset="0.0434" stop-color="#0031ff"/><stop offset="0.0596" stop-color="#0000ff"/><stop offset="0.0717" stop-color="#000cff"/><stop offset="0.0899" stop-color="#0031ff"/><stop offset="0.1182" stop-color="#0035ff"/><stop offset="0.1424" stop-color="#005aff"/><stop offset="0.1606" stop-color="#0046ff"/><stop offset="0.1828" stop-color="#0022ff"/><stop offset="0.2091" stop-color="#0036ff"/><stop offset="0.2313" stop-color="#003fff"/><stop offset="0.2818" stop-color="#0000fe"/><stop offset="0.3141" stop-color="#0009ff"/><stop offset="0.3606" stop-color="#0029ff"/><stop offset="0.4051" stop-color="#0013ff"/><stop offset="0.4354" stop-color="#0000f7"/><stop offset="0.4899" stop-color="#0000df"/><stop offset="0.5687" stop-color="#0000fb"/><stop offset="0.6939" stop-color="#002fff"/><stop offset="0.8293" stop-color="#0027ff"/><stop offset="0.9990" stop-color="#0000fe"/></linearGradient>
<linearGradient id="h44"><stop offset="0.0010" stop-color="#0022ff"/><stop offset="0.0131" stop-color="#0009ff"/><stop offset="0.0232" stop-color="#0025ff"/><stop offset="0.0333" stop-color="#0046ff"/><stop offset="0.0434" stop-color="#0039ff"/><stop offset="0.0596" stop-color="#0005ff"/><stop offset="0.0737" stop-color="#000fff"/><stop offset="0.0939" stop-color="#0020ff"/><stop offset="0.1121" stop-color="#0028ff"/><stop offset="0.1384" stop-color="#005dff"/><stop offset="0.1545" stop-color="#0053ff"/><stop offset="0.1788" stop-color="#0032ff"/><stop offset="0.2232" stop-color="#0054ff"/><stop offset="0.2535" stop-color="#002aff"/><stop offset="0.2818" stop-color="#000bff"/><stop offset="0.3202" stop-color="#0021ff"/><stop offset="0.3586" stop-color="#0034ff"/><stop offset="0.4091" stop-color="#000fff"/><stop offset="0.4354" stop-color="#0000f6"/><stop offset="0.4879" stop-color="#0000e2"/><stop offset="0.5768" stop-color="#0006ff"/><stop offset="0.6838" stop-color="#002cff"/><stop offset="0.8232" stop-color="#0022ff"/><stop offset="0.9990" stop-color="#0000f9"/></linearGradient>
<linearGradient id="h45"><stop offset="0.0010" stop-color="#0025ff"/><stop offset="0.0131" stop-color="#0003ff"/><stop offset="0.0212" stop-color="#0018ff"/><stop offset="0.0333" stop-color="#0049ff"/><stop offset="0.0414" stop-color="#0044ff"/><stop offset="0.0596" stop-color="#000dff"/><stop offset="0.1040" stop-color="#0014ff"/><stop offset="0.1364" stop-color="#0060ff"/><stop offset="0.1545" stop-color="#0054ff"/><stop offset="0.1747" stop-color="#0040ff"/><stop offset="0.2152" stop-color="#0069ff"/><stop offset="0.2374" stop-color="#0050ff"/><stop offset="0.2697" stop-color="#001dff"/><stop offset="0.2980" stop-color="#0020ff"/><stop offset="0.3465" stop-color="#003fff"/><stop offset="0.3889" stop-color="#0024ff"/><stop offset="0.4293" stop-color="#0000f9"/><stop offset="0.4818" stop-color="#0000e4"/><stop offset="0.5687" stop-color="#0006ff"/><stop offset="0.6758" stop-color="#0029ff"/><stop offset="0.8253" stop-color="#001bff"/><stop offset="0.9768" stop-color="#0000f8"/><stop offset="0.9990" stop-color="#0000f3"/></linearGradient>
<linearGradient id="h46"><stop offset="0.0010" stop-color="#0028ff"/><stop offset="0.0131" stop-color="#0001ff"/><stop offset="0.0212" stop-color="#0015ff"/><stop offset="0.0333" stop-color="#0048ff"/><stop offset="0.0434" stop-color="#0041ff"/><stop offset="0.0616" stop-color="#0013ff"/><stop offset="0.0980" stop-color="#0002ff"/><stop offset="0.1141" stop-color="#002bff"/><stop offset="0.1323" stop-color="#005eff"/><stop offset="0.1505" stop-color="#005aff"/><stop offset="0.1727" stop-color="#004fff"/><stop offset="0.2091" stop-color="#007dff"/><stop offset="0.2293" stop-color="#0068ff"/><stop offset="0.2636" stop-color="#002cff"/><stop offset="0.2919" stop-color="#002eff"/><stop offset="0.3384" stop-color="#004aff"/><stop offset="0.3788" stop-color="#002fff"/><stop offset="0.4253" stop-color="#0000fa"/><stop offset="0.4758" stop-color="#0000e6"/><stop offset="0.5626" stop-color="#0007ff"/><stop offset="0.6717" stop-color="#0026ff"/><stop offset="0.8394" stop-color="#0011ff"/><stop offset="0.9566" stop-color="#0000f6"/><stop offset="0.9990" stop-color="#0000ee"/></linearGradient>
<linearGradient id="h47"><stop offset="0.0010" stop-color="#0029ff"/><stop offset="0.0131" stop-color="#0002ff"/><stop offset="0.0212" stop-color="#0013ff"/><stop offset="0.0333" stop-color="#0043ff"/><stop offset="0.0434" stop-color="#0041ff"/><stop offset="0.0798" stop-color="#0000fe"/><stop offset="0.0960" stop-color="#0000f6"/><stop offset="0.1040" stop-color="#0009ff"/><stop offset="0.1283" stop-color="#0059ff"/><stop offset="0.1444" stop-color="#005fff"/><stop offset="0.1667" stop-color="#005aff"/><stop offset="0.2030" stop-color="#008fff"/><stop offset="0.2232" stop-color="#007cff"/><stop offset="0.2576" stop-color="#003bff"/><stop offset="0.2838" stop-color="#0039ff"/><stop offset="0.3303" stop-color="#0054ff"/><stop offset="0.3687" stop-color="#0039ff"/><stop offset="0.4212" stop-color="#0000fb"/><stop offset="0.4717" stop-color="#0000e7"/><stop offset="0.5586" stop-color="#0007ff"/><stop offset="0.6677" stop-color="#0021ff"/><stop offset="0.8717" stop-color="#0003ff"/><stop offset="0.9990" stop-color="#0000e9"/></linearGradient>
<linearGradient id="h48"><stop offset="0.0010" stop-color="#002aff"/><stop offset="0.0131" stop-color="#0007ff"/><stop offset="0.0212" stop-color="#0013ff"/><stop offset="0.0354" stop-color="#003fff"/><stop offset="0.0515" stop-color="#0036ff"/><stop offset="0.0778" stop-color="#0000fc"/><stop offset="0.0919" stop-color="#0000ec"/><stop offset="0.1040" stop-color="#0008ff"/><stop offset="0.1242" stop-color="#0051ff"/><stop offset="0.1404" stop-color="#005eff"/><stop offset="0.1626" stop-color="#0063ff"/><stop offset="0.1970" stop-color="#009eff"/><stop offset="0.2152" stop-color="#0091ff"/><stop offset="0.2515" stop-color="#0049ff"/><stop offset="0.2778" stop-color="#0046ff"/><stop offset="0.3242" stop-color="#005eff"/><stop offset="0.3626" stop-color="#003eff"/><stop offset="0.4152" stop-color="#0000fc"/><stop offset="0.4657" stop-color="#0000e7"/><stop offset="0.5566" stop-color="#0007ff"/><stop offset="0.6677" stop-color="#001cff"/><stop offset="0.8859" stop-color="#0000f8"/><stop offset="0.9990" stop-color="#0000e4"/></linearGradient>
<linearGradient id="h49"><stop offset="0.0010" stop-color="#002bff"/><stop offset="0.0152" stop-color="#000eff"/><stop offset="0.0434" stop-color="#003dff"/><stop offset="0.0596" stop-color="#0032ff"/><stop offset="0.0778" stop-color="#0000f9"/><stop offset="0.0899" stop-color="#0000e7"/><stop offset="0.1020" stop-color="#0003ff"/><stop offset="0.1222" stop-color="#004bff"/><stop offset="0.1444" stop-color="#005bff"/><stop offset="0.1646" stop-color="#0075ff"/><stop offset="0.1909" stop-color="#00aaff"/><stop offset="0.2091" stop-color="#00a1ff"/><stop offset="0.2475" stop-color="#0054ff"/><stop offset="0.2737" stop-color="#0052ff"/><stop offset="0.3162" stop-color="#0066ff"/><stop offset="0.3545" stop-color="#0044ff"/><stop offset="0.4071" stop-color="#0000fd"/><stop offset="0.4556" stop-color="#0000e7"/><stop offset="0.5586" stop-color="#0007ff"/><stop offset="0.6758" stop-color="#0014ff"/><stop offset="0.8535" stop-color="#0000f7"/><stop offset="0.9990" stop-color="#0000df"/></linearGradient>
<linearGradient id="h50"><stop offset="0.0010" stop-color="#002dff"/><stop offset="0.0212" stop-color="#0016ff"/><stop offset="0.0515" stop-color="#0041ff"/><stop offset="0.0636" stop-color="#002dff"/><stop offset="0.0758" stop-color="#0000fe"/><stop offset="0.0879" stop-color="#0000e7"/><stop offset="0.1000" stop-color="#0000ff"/><stop offset="0.1202" stop-color="#0043ff"/><stop offset="0.1545" stop-color="#006aff"/><stop offset="0.1848" stop-color="#00b2ff"/><stop offset="0.2010" stop-color="#00b0ff"/><stop offset="0.2414" stop-color="#005fff"/><stop offset="0.2677" stop-color="#005cff"/><stop offset="0.3101" stop-color="#006dff"/><stop offset="0.3485" stop-color="#0046ff"/><stop offset="0.4010" stop-color="#0000fc"/><stop offset="0.4495" stop-color="#0000e6"/><stop offset="0.5687" stop-color="#0008ff"/><stop offset="0.7020" stop-color="#000aff"/><stop offset="0.8495" stop-color="#0000f1"/><stop offset="0.9990" stop-color="#0000db"/></linearGradient>
<linearGradient id="h51"><stop offset="0.0010" stop-color="#002fff"/><stop offset="0.0293" stop-color="#0017ff"/><stop offset="0.0535" stop-color="#0044ff"/><stop offset="0.0636" stop-color="#0030ff"/><stop offset="0.0758" stop-color="#0000ff"/><stop offset="0.0859" stop-color="#0000eb"/><stop offset="0.1000" stop-color="#0006ff"/><stop offset="0.1202" stop-color="#003eff"/><stop offset="0.1485" stop-color="#0061ff"/><stop offset="0.1788" stop-color="#00b4ff"/><stop offset="0.1949" stop-color="#00b7ff"/><stop offset="0.2374" stop-color="#0065ff"/><stop offset="0.2636" stop-color="#0065ff"/><stop offset="0.3020" stop-color="#0073ff"/><stop offset="0.3384" stop-color="#004dff"/><stop offset="0.3909" stop-color="#0000fe"/><stop offset="0.4374" stop-color="#0000e4"/><stop offset="0.5848" stop-color="#0005ff"/><stop offset="0.7687" stop-color="#0000f6"/><stop offset="0.9990" stop-color="#0000d8"/></linearGradient>
<linearGradient id="h52"><stop offset="0.0010" stop-color="#0033ff"/><stop offset="0.0131" stop-color="#0031ff"/><stop offset="0.0293" stop-color="#000fff"/><stop offset="0.0414" stop-color="#0029ff"/><stop offset="0.0535" stop-color="#0045ff"/><stop offset="0.0636" stop-color="#0032ff"/><stop offset="0.0778" stop-color="#0000fd"/><stop offset="0.0899" stop-color="#0000f6"/><stop offset="0.1000" stop-color="#000eff"/><stop offset="0.1202" stop-color="#0036ff"/><stop offset="0.1424" stop-color="#0053ff"/><stop offset="0.1747" stop-color="#00b3ff"/><stop offset="0.1909" stop-color="#00b7ff"/><stop offset="0.2333" stop-color="#0069ff"/><stop offset="0.2636" stop-color="#006fff"/><stop offset="0.2980" stop-color="#0076ff"/><stop offset="0.3364" stop-color="#0045ff"/><stop offset="0.3828" stop-color="#0000fd"/><stop offset="0.4293" stop-color="#0000e2"/><stop offset="0.6152" stop-color="#0000fd"/><stop offset="0.9990" stop-color="#0000d5"/></linearGradient>
<linearGradient id="h53"><stop offset="0.0010" stop-color="#0036ff"/><stop offset="0.0131" stop-color="#003bff"/><stop offset="0.0293" stop-color="#0009ff"/><stop offset="0.0394" stop-color="#001bff"/><stop offset="0.0515" stop-color="#0041ff"/><stop offset="0.0616" stop-color="#0038ff"/><stop offset="0.0798" stop-color="#0003ff"/><stop offset="0.0939" stop-color="#000aff"/><stop offset="0.1202" stop-color="#002dff"/><stop offset="0.1384" stop-color="#0046ff"/><stop offset="0.1707" stop-color="#00acff"/><stop offset="0.1869" stop-color="#00b2ff"/><stop offset="0.2273" stop-color="#006bff"/><stop offset="0.2576" stop-color="#0072ff"/><stop offset="0.2899" stop-color="#0078ff"/><stop offset="0.3263" stop-color="#004aff"/><stop offset="0.3727" stop-color="#0000fd"/><stop offset="0.4172" stop-color="#0000df"/><stop offset="0.6152" stop-color="#0000f4"/><stop offset="0.9990" stop-color="#0000d2"/></linearGradient>
<linearGradient id="h54"><stop offset="0.0010" stop-color="#0039ff"/><stop offset="0.0111" stop-color="#0046ff"/><stop offset="0.0293" stop-color="#0005ff"/><stop offset="0.0374" stop-color="#000fff"/><stop offset="0.0515" stop-color="#003cff"/><stop offset="0.0616" stop-color="#0036ff"/><stop offset="0.0798" stop-color="#0011ff"/><stop offset="0.1303" stop-color="#002eff"/><stop offset="0.1505" stop-color="#006eff"/><stop offset="0.1687" stop-color="#00a4ff"/><stop offset="0.1848" stop-color="#00a6ff"/><stop offset="0.2212" stop-color="#006aff"/><stop offset="0.2515" stop-color="#0072ff"/><stop offset="0.2838" stop-color="#0078ff"/><stop offset="0.3202" stop-color="#0045ff"/><stop offset="0.3626" stop-color="#0000fc"/><stop offset="0.4071" stop-color="#0000db"/><stop offset="0.6192" stop-color="#0000e9"/><stop offset="0.9990" stop-color="#0000d0"/></linearGradient>
<linearGradient id="h55"><stop offset="0.0010" stop-color="#003aff"/><stop offset="0.0111" stop-color="#0049ff"/><stop offset="0.0212" stop-color="#0022ff"/><stop offset="0.0293" stop-color="#0005ff"/><stop offset="0.0374" stop-color="#000bff"/><stop offset="0.0535" stop-color="#0037ff"/><stop offset="0.0859" stop-color="#0023ff"/><stop offset="0.1263" stop-color="#001fff"/><stop offset="0.1444" stop-color="#0054ff"/><stop offset="0.1626" stop-color="#0090ff"/><stop offset="0.1788" stop-color="#0099ff"/><stop offset="0.2172" stop-color="#0064ff"/><stop offset="0.2737" stop-color="#0077ff"/><stop offset="0.3061" stop-color="#004eff"/><stop offset="0.3505" stop-color="#0000fd"/><stop offset="0.3929" stop-color="#0000d8"/><stop offset="0.4859" stop-color="#0000dc"/><stop offset="0.8374" stop-color="#0000d6"/><stop offset="0.9990" stop-color="#0000cf"/></linearGradient>
<linearGradient id="h56"><stop offset="0.0010" stop-color="#0039ff"/><stop offset="0.0111" stop-color="#0048ff"/><stop offset="0.0212" stop-color="#0023ff"/><stop offset="0.0313" stop-color="#0004ff"/><stop offset="0.0434" stop-color="#0019ff"/><stop offset="0.0596" stop-color="#0032ff"/><stop offset="0.0960" stop-color="#0030ff"/><stop offset="0.1202" stop-color="#0013ff"/><stop offset="0.1343" stop-color="#002cff"/><stop offset="0.1586" stop-color="#007bff"/><stop offset="0.1747" stop-color="#0085ff"/><stop offset="0.2131" stop-color="#005bff"/><stop offset="0.2657" stop-color="#0072ff"/><stop offset="0.2960" stop-color="#004eff"/><stop offset="0.3404" stop-color="#0000fb"/><stop offset="0.3828" stop-color="#0000d4"/><stop offset="0.4798" stop-color="#0000d5"/><stop offset="0.9990" stop-color="#0000ce"/></linearGradient>
<linearGradient id="h57"><stop offset="0.0010" stop-color="#0035ff"/><stop offset="0.0131" stop-color="#0040ff"/><stop offset="0.0313" stop-color="#0009ff"/><stop offset="0.0455" stop-color="#0017ff"/><stop offset="0.0818" stop-color="#0048ff"/><stop offset="0.0980" stop-color="#0033ff"/><stop offset="0.1162" stop-color="#000dff"/><stop offset="0.1303" stop-color="#001cff"/><stop offset="0.1566" stop-color="#0068ff"/><stop offset="0.1727" stop-color="#006eff"/><stop offset="0.2071" stop-color="#004fff"/><stop offset="0.2576" stop-color="#006bff"/><stop offset="0.2859" stop-color="#004cff"/><stop offset="0.3283" stop-color="#0000fb"/><stop offset="0.3687" stop-color="#0000d1"/><stop offset="0.4475" stop-color="#0000ca"/><stop offset="0.9990" stop-color="#0000ce"/></linearGradient>
<linearGradient id="h58"><stop offset="0.0010" stop-color="#002eff"/><stop offset="0.0131" stop-color="#0039ff"/><stop offset="0.0354" stop-color="#000cff"/><stop offset="0.0535" stop-color="#001fff"/><stop offset="0.0778" stop-color="#0057ff"/><stop offset="0.0899" stop-color="#004fff"/><stop offset="0.1141" stop-color="#000bff"/><stop offset="0.1263" stop-color="#000fff"/><stop offset="0.1545" stop-color="#0053ff"/><stop offset="0.1747" stop-color="#0050ff"/><stop offset="0.2030" stop-color="#0040ff"/><stop offset="0.2495" stop-color="#0062ff"/><stop offset="0.2778" stop-color="#0045ff"/><stop offset="0.3162" stop-color="#0000fb"/><stop offset="0.3566" stop-color="#0000cd"/><stop offset="0.4313" stop-color="#0000c3"/><stop offset="0.7141" stop-color="#0000c5"/><stop offset="0.9990" stop-color="#0000cf"/></linearGradient>
<linearGradient id="h59"><stop offset="0.0010" stop-color="#0025ff"/><stop offset="0.0192" stop-color="#002dff"/><stop offset="0.0434" stop-color="#000cff"/><stop offset="0.0556" stop-color="#001fff"/><stop offset="0.0758" stop-color="#0062ff"/><stop offset="0.0859" stop-color="#0060ff"/><stop offset="0.1121" stop-color="#000cff"/><stop offset="0.1242" stop-color="#000aff"/><stop offset="0.1525" stop-color="#003dff"/><stop offset="0.1970" stop-color="#002eff"/><stop offset="0.2414" stop-color="#0056ff"/><stop offset="0.2677" stop-color="#0040ff"/><stop offset="0.3040" stop-color="#0000fb"/><stop offset="0.3444" stop-color="#0000c9"/><stop offset="0.4172" stop-color="#0000bc"/><stop offset="0.6394" stop-color="#0000b7"/><stop offset="0.9485" stop-color="#0000d1"/><stop offset="0.9990" stop-color="#0000d1"/></linearGradient>
<linearGradient id="h60"><stop offset="0.0010" stop-color="#001cff"/><stop offset="0.0253" stop-color="#002cff"/><stop offset="0.0455" stop-color="#0009ff"/><stop offset="0.0556" stop-color="#001cff"/><stop offset="0.0737" stop-color="#0066ff"/><stop offset="0.0838" stop-color="#0069ff"/><stop offset="0.1121" stop-color="#000bff"/><stop offset="0.1263" stop-color="#000bff"/><stop offset="0.1525" stop-color="#0027ff"/><stop offset="0.1889" stop-color="#001aff"/><stop offset="0.2354" stop-color="#0049ff"/><stop offset="0.2616" stop-color="#0034ff"/><stop offset="0.2919" stop-color="#0000fb"/><stop offset="0.3323" stop-color="#0000c6"/><stop offset="0.4051" stop-color="#0000b6"/><stop offset="0.5929" stop-color="#0000ab"/><stop offset="0.9040" stop-color="#0000d3"/><stop offset="0.9990" stop-color="#0000d3"/></linearGradient>
<linearGradient id="h61"><stop offset="0.0010" stop-color="#0012ff"/><stop offset="0.0131" stop-color="#001fff"/><stop offset="0.0253" stop-color="#0034ff"/><stop offset="0.0475" stop-color="#0008ff"/><stop offset="0.0576" stop-color="#0023ff"/><stop offset="0.0737" stop-color="#0068ff"/><stop offset="0.0838" stop-color="#0068ff"/><stop offset="0.1101" stop-color="#000fff"/><stop offset="0.1263" stop-color="#000aff"/><stop offset="0.1525" stop-color="#0011ff"/><stop offset="0.1808" stop-color="#0004ff"/><stop offset="0.2293" stop-color="#003bff"/><stop offset="0.2556" stop-color="#0027ff"/><stop offset="0.2798" stop-color="#0000fb"/><stop offset="0.3202" stop-color="#0000c4"/><stop offset="0.3909" stop-color="#0000b3"/><stop offset="0.5586" stop-color="#00009f"/><stop offset="0.8758" stop-color="#0000d4"/><stop offset="0.9990" stop-color="#0000d6"/></linearGradient>
<linearGradient id="h62"><stop offset="0.0010" stop-color="#000aff"/><stop offset="0.0111" stop-color="#0012ff"/><stop offset="0.0253" stop-color="#003cff"/><stop offset="0.0354" stop-color="#0027ff"/><stop offset="0.0475" stop-color="#000aff"/><stop offset="0.0576" stop-color="#0023ff"/><stop offset="0.0717" stop-color="#0060ff"/><stop offset="0.0818" stop-color="#0065ff"/><stop offset="0.1101" stop-color="#0011ff"/><stop offset="0.1545" stop-color="#0000f8"/><stop offset="0.1768" stop-color="#0000f1"/><stop offset="0.1929" stop-color="#0006ff"/><stop offset="0.2232" stop-color="#002dff"/><stop offset="0.2495" stop-color="#001aff"/><stop offset="0.2697" stop-color="#0000f7"/><stop offset="0.3101" stop-color="#0000c2"/><stop offset="0.5162" stop-color="#000095"/><stop offset="0.6596" stop-color="#0000b0"/><stop offset="0.8616" stop-color="#0000d7"/><stop offset="0.9990" stop-color="#0000da"/></linearGradient>
<linearGradient id="h63"><stop offset="0.0010" stop-color="#0004ff"/><stop offset="0.0111" stop-color="#000dff"/><stop offset="0.0232" stop-color="#003eff"/><stop offset="0.0313" stop-color="#003bff"/><stop offset="0.0455" stop-color="#000fff"/><stop offset="0.0556" stop-color="#001cff"/><stop offset="0.0717" stop-color="#0057ff"/><stop offset="0.0818" stop-color="#0058ff"/><stop offset="0.1101" stop-color="#0014ff"/><stop offset="0.1384" stop-color="#0000fa"/><stop offset="0.1667" stop-color="#0000dd"/><stop offset="0.1909" stop-color="#0000fb"/><stop offset="0.2212" stop-color="#0020ff"/><stop offset="0.2495" stop-color="#0006ff"/><stop offset="0.3020" stop-color="#0000c1"/><stop offset="0.5141" stop-color="#00008c"/><stop offset="0.6535" stop-color="#0000af"/><stop offset="0.8374" stop-color="#0000da"/><stop offset="0.9990" stop-color="#0000de"/></linearGradient>
<linearGradient id="h64"><stop offset="0.0010" stop-color="#0002ff"/><stop offset="0.0111" stop-color="#000bff"/><stop offset="0.0253" stop-color="#0043ff"/><stop offset="0.0333" stop-color="#003aff"/><stop offset="0.0475" stop-color="#0014ff"/><stop offset="0.0596" stop-color="#002aff"/><stop offset="0.0737" stop-color="#004bff"/><stop offset="0.0899" stop-color="#0039ff"/><stop offset="0.1283" stop-color="#0002ff"/><stop offset="0.1586" stop-color="#0000d0"/><stop offset="0.1788" stop-color="#0000e0"/><stop offset="0.1990" stop-color="#0005ff"/><stop offset="0.2212" stop-color="#0012ff"/><stop offset="0.2455" stop-color="#0000f8"/><stop offset="0.2899" stop-color="#0000c4"/><stop offset="0.4111" stop-color="#0000a1"/><stop offset="0.5000" stop-color="#000086"/><stop offset="0.6111" stop-color="#0000a2"/><stop offset="0.7929" stop-color="#0000db"/><stop offset="0.9990" stop-color="#0000e3"/></linearGradient>
<linearGradient id="h65"><stop offset="0.0010" stop-color="#0003ff"/><stop offset="0.0111" stop-color="#000cff"/><stop offset="0.0253" stop-color="#0042ff"/><stop offset="0.0354" stop-color="#0037ff"/><stop offset="0.0495" stop-color="#001cff"/><stop offset="0.0758" stop-color="#0038ff"/><stop offset="0.1222" stop-color="#000aff"/><stop offset="0.1323" stop-color="#0000f2"/><stop offset="0.1545" stop-color="#0000c7"/><stop offset="0.1727" stop-color="#0000d1"/><stop offset="0.2010" stop-color="#0003ff"/><stop offset="0.2253" stop-color="#0001ff"/><stop offset="0.2818" stop-color="#0000c7"/><stop offset="0.3808" stop-color="#0000b1"/><stop offset="0.4758" stop-color="#000084"/><stop offset="0.5626" stop-color="#000092"/><stop offset="0.7586" stop-color="#0000dd"/><stop offset="0.9424" stop-color="#0000eb"/><stop offset="0.9990" stop-color="#0000e9"/></linearGradient>
<linearGradient id="h66"><stop offset="0.0010" stop-color="#0008ff"/><stop offset="0.0111" stop-color="#000fff"/><stop offset="0.0253" stop-color="#003eff"/><stop offset="0.0374" stop-color="#0036ff"/><stop offset="0.0556" stop-color="#0022ff"/><stop offset="0.1121" stop-color="#001cff"/><stop offset="0.1263" stop-color="#0000fc"/><stop offset="0.1485" stop-color="#0000c4"/><stop offset="0.1646" stop-color="#0000c4"/><stop offset="0.2010" stop-color="#0000fc"/><stop offset="0.2293" stop-color="#0000ee"/><stop offset="0.2737" stop-color="#0000cd"/><stop offset="0.3606" stop-color="#0000c0"/><stop offset="0.4596" stop-color="#000085"/><stop offset="0.5343" stop-color="#00008b"/><stop offset="0.7404" stop-color="#0000e3"/><stop offset="0.9101" stop-color="#0000f4"/><stop offset="0.9990" stop-color="#0000ef"/></linearGradient>
<linearGradient id="h67"><stop offset="0.0010" stop-color="#0011ff"/><stop offset="0.0131" stop-color="#0019ff"/><stop offset="0.0293" stop-color="#003cff"/><stop offset="0.0535" stop-color="#0025ff"/><stop offset="0.0778" stop-color="#0010ff"/><stop offset="0.1081" stop-color="#0022ff"/><stop offset="0.1242" stop-color="#0000fd"/><stop offset="0.1465" stop-color="#0000c1"/><stop offset="0.1626" stop-color="#0000c2"/><stop offset="0.1970" stop-color="#0000f5"/><stop offset="0.2313" stop-color="#0000e2"/><stop offset="0.2737" stop-color="#0000d5"/><stop offset="0.3384" stop-color="#0000d4"/><stop offset="0.4515" stop-color="#000088"/><stop offset="0.5202" stop-color="#00008d"/><stop offset="0.7222" stop-color="#0000eb"/><stop offset="0.8798" stop-color="#0000fd"/><stop offset="0.9990" stop-color="#0000f6"/></linearGradient>
<linearGradient id="h68"><stop offset="0.0010" stop-color="#001dff"/><stop offset="0.0192" stop-color="#0024ff"/><stop offset="0.0394" stop-color="#003dff"/><stop offset="0.0556" stop-color="#0021ff"/><stop offset="0.0717" stop-color="#0000fe"/><stop offset="0.0859" stop-color="#000aff"/><stop offset="0.1040" stop-color="#0024ff"/><stop offset="0.1182" stop-color="#000dff"/><stop offset="0.1242" stop-color="#0000f9"/><stop offset="0.1424" stop-color="#0000c4"/><stop offset="0.1586" stop-color="#0000c1"/><stop offset="0.1929" stop-color="#0000f0"/><stop offset="0.2515" stop-color="#0000db"/><stop offset="0.3141" stop-color="#0000ea"/><stop offset="0.3747" stop-color="#0000c5"/><stop offset="0.4414" stop-color="#000091"/><stop offset="0.5040" stop-color="#000092"/><stop offset="0.7061" stop-color="#0000f6"/><stop offset="0.8071" stop-color="#0008ff"/><stop offset="0.9990" stop-color="#0000fd"/></linearGradient>
<linearGradient id="h69"><stop offset="0.0010" stop-color="#002aff"/><stop offset="0.0212" stop-color="#001fff"/><stop offset="0.0414" stop-color="#0040ff"/><stop offset="0.0535" stop-color="#0026ff"/><stop offset="0.0657" stop-color="#0000f9"/><stop offset="0.0758" stop-color="#0000ef"/><stop offset="0.0879" stop-color="#0008ff"/><stop offset="0.1040" stop-color="#0023ff"/><stop offset="0.1182" stop-color="#000aff"/><stop offset="0.1263" stop-color="#0000ee"/><stop offset="0.1424" stop-color="#0000c7"/><stop offset="0.1606" stop-color="#0000cc"/><stop offset="0.1889" stop-color="#0000ee"/><stop offset="0.2394" stop-color="#0000df"/><stop offset="0.3000" stop-color="#0000ff"/><stop offset="0.3646" stop-color="#0000da"/><stop offset="0.4313" stop-color="#00009e"/><stop offset="0.4899" stop-color="#00009c"/><stop offset="0.6818" stop-color="#0001ff"/><stop offset="0.8172" stop-color="#0017ff"/><stop offset="0.9990" stop-color="#0006ff"/></linearGradient>
<linearGradient id="h70"><stop offset="0.0010" stop-color="#0038ff"/><stop offset="0.0212" stop-color="#0018ff"/><stop offset="0.0414" stop-color="#0040ff"/><stop offset="0.0515" stop-color="#002cff"/><stop offset="0.0616" stop-color="#0000fe"/><stop offset="0.0717" stop-color="#0000e5"/><stop offset="0.0838" stop-color="#0000f7"/><stop offset="0.0980" stop-color="#001dff"/><stop offset="0.1101" stop-color="#001bff"/><stop offset="0.1222" stop-color="#0000fa"/><stop offset="0.1404" stop-color="#0000d0"/><stop offset="0.1606" stop-color="#0000d8"/><stop offset="0.1889" stop-color="#0000ee"/><stop offset="0.2313" stop-color="#0000e2"/><stop offset="0.2677" stop-color="#0007ff"/><stop offset="0.3020" stop-color="#0013ff"/><stop offset="0.3465" stop-color="#0000f7"/><stop offset="0.4293" stop-color="#0000ad"/><stop offset="0.4859" stop-color="#0000ae"/><stop offset="0.6333" stop-color="#0004ff"/><stop offset="0.7525" stop-color="#0025ff"/><stop offset="0.9444" stop-color="#0017ff"/><stop offset="0.9990" stop-color="#000eff"/></linearGradient>
<linearGradient id="h71"><stop offset="0.0010" stop-color="#0044ff"/><stop offset="0.0111" stop-color="#002eff"/><stop offset="0.0212" stop-color="#0011ff"/><stop offset="0.0313" stop-color="#0024ff"/><stop offset="0.0414" stop-color="#003dff"/><stop offset="0.0495" stop-color="#0030ff"/><stop offset="0.0596" stop-color="#0001ff"/><stop offset="0.0697" stop-color="#0000e1"/><stop offset="0.0798" stop-color="#0000e9"/><stop offset="0.0899" stop-color="#0008ff"/><stop offset="0.1040" stop-color="#001eff"/><stop offset="0.1222" stop-color="#0000fc"/><stop offset="0.1404" stop-color="#0000de"/><stop offset="0.1869" stop-color="#0000f1"/><stop offset="0.2253" stop-color="#0000e7"/><stop offset="0.2495" stop-color="#0006ff"/><stop offset="0.2838" stop-color="#0028ff"/><stop offset="0.3303" stop-color="#0011ff"/><stop offset="0.3646" stop-color="#0000f8"/><stop offset="0.4253" stop-color="#0000c3"/><stop offset="0.4818" stop-color="#0000c6"/><stop offset="0.5848" stop-color="#0007ff"/><stop offset="0.6960" stop-color="#0033ff"/><stop offset="0.8434" stop-color="#0033ff"/><stop offset="0.9990" stop-color="#0016ff"/></linearGradient>
<linearGradient id="h72"><stop offset="0.0010" stop-color="#004dff"/><stop offset="0.0111" stop-color="#0031ff"/><stop offset="0.0212" stop-color="#000cff"/><stop offset="0.0293" stop-color="#0016ff"/><stop offset="0.0414" stop-color="#0037ff"/><stop offset="0.0495" stop-color="#002aff"/><stop offset="0.0596" stop-color="#0000fc"/><stop offset="0.0697" stop-color="#0000e0"/><stop offset="0.0818" stop-color="#0000ef"/><stop offset="0.0899" stop-color="#0007ff"/><stop offset="0.1040" stop-color="#001aff"/><stop offset="0.1303" stop-color="#0000f7"/><stop offset="0.1869" stop-color="#0000f4"/><stop offset="0.2192" stop-color="#0000ed"/><stop offset="0.2394" stop-color="#0008ff"/><stop offset="0.2758" stop-color="#003aff"/><stop offset="0.3061" stop-color="#0032ff"/><stop offset="0.3848" stop-color="#0000f9"/><stop offset="0.4313" stop-color="#0000db"/><stop offset="0.4939" stop-color="#0000ed"/><stop offset="0.5343" stop-color="#0008ff"/><stop offset="0.6475" stop-color="#0042ff"/><stop offset="0.7707" stop-color="#004cff"/><stop offset="0.9990" stop-color="#001eff"/></linearGradient>
<linearGradient id="h73"><stop offset="0.0010" stop-color="#0050ff"/><stop offset="0.0091" stop-color="#003cff"/><stop offset="0.0212" stop-color="#0009ff"/><stop offset="0.0293" stop-color="#0010ff"/><stop offset="0.0414" stop-color="#002eff"/><stop offset="0.0515" stop-color="#001bff"/><stop offset="0.0596" stop-color="#0000fb"/><stop offset="0.0697" stop-color="#0000e4"/><stop offset="0.0838" stop-color="#0000f8"/><stop offset="0.1040" stop-color="#0018ff"/><stop offset="0.1485" stop-color="#0010ff"/><stop offset="0.1889" stop-color="#0000f9"/><stop offset="0.2172" stop-color="#0000f8"/><stop offset="0.2333" stop-color="#000fff"/><stop offset="0.2677" stop-color="#004aff"/><stop offset="0.2939" stop-color="#004dff"/><stop offset="0.3404" stop-color="#002aff"/><stop offset="0.3929" stop-color="#000fff"/><stop offset="0.4354" stop-color="#0000fd"/><stop offset="0.5000" stop-color="#0019ff"/><stop offset="0.6212" stop-color="#005bff"/><stop offset="0.7364" stop-color="#0066ff"/><stop offset="0.9990" stop-color="#0027ff"/></linearGradient>
<linearGradient id="h74"><stop offset="0.0010" stop-color="#004eff"/><stop offset="0.0111" stop-color="#0030ff"/><stop offset="0.0212" stop-color="#0008ff"/><stop offset="0.0313" stop-color="#0010ff"/><stop offset="0.0434" stop-color="#0023ff"/><stop offset="0.0616" stop-color="#0000f9"/><stop offset="0.0758" stop-color="#0000f1"/><stop offset="0.0919" stop-color="#000aff"/><stop offset="0.1465" stop-color="#0030ff"/><stop offset="0.1970" stop-color="#0000fe"/><stop offset="0.2253" stop-color="#0016ff"/><stop offset="0.2657" stop-color="#0062ff"/><stop offset="0.2899" stop-color="#0065ff"/><stop offset="0.3323" stop-color="#003eff"/><stop offset="0.3889" stop-color="#0034ff"/><stop offset="0.4354" stop-color="#0027ff"/><stop offset="0.6111" stop-color="#007eff"/><stop offset="0.7242" stop-color="#0081ff"/><stop offset="0.9990" stop-color="#0030ff"/></linearGradient>
<linearGradient id="h75"><stop offset="0.0010" stop-color="#0046ff"/><stop offset="0.0111" stop-color="#002dff"/><stop offset="0.0232" stop-color="#0007ff"/><stop offset="0.0475" stop-color="#0017ff"/><stop offset="0.0717" stop-color="#0000fd"/><stop offset="0.1000" stop-color="#0013ff"/><stop offset="0.1384" stop-color="#0053ff"/><stop offset="0.1566" stop-color="#0045ff"/><stop offset="0.1869" stop-color="#0011ff"/><stop offset="0.2111" stop-color="#001aff"/><stop offset="0.2394" stop-color="#004fff"/><stop offset="0.2657" stop-color="#007fff"/><stop offset="0.2899" stop-color="#007eff"/><stop offset="0.3283" stop-color="#0055ff"/><stop offset="0.3909" stop-color="#005bff"/><stop offset="0.4414" stop-color="#005aff"/><stop offset="0.5869" stop-color="#00a2ff"/><stop offset="0.6919" stop-color="#00a3ff"/><stop offset="0.9990" stop-color="#0039ff"/></linearGradient>
<linearGradient id="h76"><stop offset="0.0010" stop-color="#003aff"/><stop offset="0.0152" stop-color="#001dff"/><stop offset="0.0293" stop-color="#0006ff"/><stop offset="0.0657" stop-color="#0012ff"/><stop offset="0.0939" stop-color="#000dff"/><stop offset="0.1121" stop-color="#0037ff"/><stop offset="0.1323" stop-color="#0074ff"/><stop offset="0.1465" stop-color="#0078ff"/><stop offset="0.1808" stop-color="#0029ff"/><stop offset="0.1990" stop-color="#0026ff"/><stop offset="0.2313" stop-color="#005bff"/><stop offset="0.2596" stop-color="#009bff"/><stop offset="0.2818" stop-color="#00a4ff"/><stop offset="0.3283" stop-color="#0070ff"/><stop offset="0.3909" stop-color="#0089ff"/><stop offset="0.4495" stop-color="#0095ff"/><stop offset="0.5667" stop-color="#00cdff"/><stop offset="0.6677" stop-color="#00c9ff"/><stop offset="0.9990" stop-color="#0041ff"/></linearGradient>
<linearGradient id="h77"><stop offset="0.0010" stop-color="#002cff"/><stop offset="0.0212" stop-color="#0014ff"/><stop offset="0.0374" stop-color="#0003ff"/><stop offset="0.0657" stop-color="#0028ff"/><stop offset="0.0919" stop-color="#0010ff"/><stop offset="0.1040" stop-color="#0028ff"/><stop offset="0.1303" stop-color="#0098ff"/><stop offset="0.1424" stop-color="#00a3ff"/><stop offset="0.1586" stop-color="#007bff"/><stop offset="0.1788" stop-color="#0042ff"/><stop offset="0.1949" stop-color="#003eff"/><stop offset="0.2293" stop-color="#007dff"/><stop offset="0.2576" stop-color="#00c1ff"/><stop offset="0.2798" stop-color="#00cbff"/><stop offset="0.3263" stop-color="#0093ff"/><stop offset="0.3566" stop-color="#00a4ff"/><stop offset="0.3909" stop-color="#00bdff"/><stop offset="0.4717" stop-color="#00e0ff"/><stop offset="0.5586" stop-color="#01fffe"/><stop offset="0.6535" stop-color="#00f2ff"/><stop offset="0.9990" stop-color="#004aff"/></linearGradient>
<linearGradient id="h78"><stop offset="0.0010" stop-color="#001eff"/><stop offset="0.0192" stop-color="#001fff"/><stop offset="0.0354" stop-color="#0000fe"/><stop offset="0.0455" stop-color="#000dff"/><stop offset="0.0616" stop-color="#003dff"/><stop offset="0.0737" stop-color="#0035ff"/><stop offset="0.0899" stop-color="#0017ff"/><stop offset="0.1000" stop-color="#0026ff"/><stop offset="0.1162" stop-color="#007aff"/><stop offset="0.1303" stop-color="#00beff"/><stop offset="0.1404" stop-color="#00caff"/><stop offset="0.1545" stop-color="#00a9ff"/><stop offset="0.1747" stop-color="#0066ff"/><stop offset="0.1909" stop-color="#005cff"/><stop offset="0.2212" stop-color="#0095ff"/><stop offset="0.2556" stop-color="#00eaff"/><stop offset="0.2778" stop-color="#00f7ff"/><stop offset="0.3263" stop-color="#00bbff"/><stop offset="0.3525" stop-color="#00ccff"/><stop offset="0.3889" stop-color="#00f6ff"/><stop offset="0.4313" stop-color="#0bfff4"/><stop offset="0.5263" stop-color="#36ffc9"/><stop offset="0.6131" stop-color="#2affd5"/><stop offset="0.7061" stop-color="#00f9ff"/><stop offset="0.9707" stop-color="#005eff"/><stop offset="0.9990" stop-color="#0052ff"/></linearGradient>
<linearGradient id="h79"><stop offset="0.0010" stop-color="#0011ff"/><stop offset="0.0172" stop-color="#0029ff"/><stop offset="0.0374" stop-color="#0000fe"/><stop offset="0.0455" stop-color="#0012ff"/><stop offset="0.0616" stop-color="#0053ff"/><stop offset="0.0717" stop-color="#004fff"/><stop offset="0.0899" stop-color="#0022ff"/><stop offset="0.1000" stop-color="#0034ff"/><stop offset="0.1141" stop-color="#0088ff"/><stop offset="0.1283" stop-color="#00daff"/><stop offset="0.1384" stop-color="#00eeff"/><stop offset="0.1505" stop-color="#00d8ff"/><stop offset="0.1727" stop-color="#008bff"/><stop offset="0.1889" stop-color="#0082ff"/><stop offset="0.2172" stop-color="#00baff"/><stop offset="0.2434" stop-color="#02fffd"/><stop offset="0.2677" stop-color="#25ffda"/><stop offset="0.2919" stop-color="#17ffe8"/><stop offset="0.3101" stop-color="#00f9ff"/><stop offset="0.3323" stop-color="#00eaff"/><stop offset="0.3566" stop-color="#06fff9"/><stop offset="0.3909" stop-color="#35ffca"/><stop offset="0.4939" stop-color="#6fff90"/><stop offset="0.5707" stop-color="#6aff95"/><stop offset="0.6919" stop-color="#22ffdd"/><stop offset="0.7465" stop-color="#00f8ff"/><stop offset="0.9525" stop-color="#0071ff"/><stop offset="0.9990" stop-color="#005aff"/></linearGradient>
<linearGradient id="h80"><stop offset="0.0010" stop-color="#0007ff"/><stop offset="0.0172" stop-color="#0030ff"/><stop offset="0.0273" stop-color="#001aff"/><stop offset="0.0374" stop-color="#0004ff"/><stop offset="0.0455" stop-color="#001bff"/><stop offset="0.0596" stop-color="#0063ff"/><stop offset="0.0677" stop-color="#006bff"/><stop offset="0.0879" stop-color="#0033ff"/><stop offset="0.0980" stop-color="#003fff"/><stop offset="0.1101" stop-color="#0085ff"/><stop offset="0.1263" stop-color="#00efff"/><stop offset="0.1323" stop-color="#05fffa"/><stop offset="0.1424" stop-color="#0afff5"/><stop offset="0.1505" stop-color="#00f7ff"/><stop offset="0.1727" stop-color="#00b3ff"/><stop offset="0.1889" stop-color="#00b0ff"/><stop offset="0.2273" stop-color="#06fff9"/><stop offset="0.2556" stop-color="#44ffbb"/><stop offset="0.2778" stop-color="#4fffb0"/><stop offset="0.3263" stop-color="#1dffe2"/><stop offset="0.3505" stop-color="#31ffce"/><stop offset="0.3889" stop-color="#73ff8c"/><stop offset="0.4697" stop-color="#acff53"/><stop offset="0.5384" stop-color="#adff52"/><stop offset="0.6354" stop-color="#71ff8e"/><stop offset="0.7727" stop-color="#00f9ff"/><stop offset="0.9505" stop-color="#007bff"/><stop offset="0.9990" stop-color="#0061ff"/></linearGradient>
<linearGradient id="h81"><stop offset="0.0010" stop-color="#0002ff"/><stop offset="0.0172" stop-color="#0037ff"/><stop offset="0.0253" stop-color="#002bff"/><stop offset="0.0354" stop-color="#000fff"/><stop offset="0.0434" stop-color="#001eff"/><stop offset="0.0596" stop-color="#0075ff"/><stop offset="0.0677" stop-color="#007eff"/><stop offset="0.0879" stop-color="#0047ff"/><stop offset="0.0980" stop-color="#0056ff"/><stop offset="0.1101" stop-color="#009cff"/><stop offset="0.1242" stop-color="#00fbff"/><stop offset="0.1364" stop-color="#23ffdc"/><stop offset="0.1485" stop-color="#1affe5"/><stop offset="0.1606" stop-color="#00f9ff"/><stop offset="0.1768" stop-color="#00dfff"/><stop offset="0.1970" stop-color="#00f2ff"/><stop offset="0.2071" stop-color="#08fff7"/><stop offset="0.2535" stop-color="#67ff98"/><stop offset="0.2798" stop-color="#75ff8a"/><stop offset="0.3283" stop-color="#51ffae"/><stop offset="0.3525" stop-color="#6dff92"/><stop offset="0.3909" stop-color="#b7ff48"/><stop offset="0.4535" stop-color="#edff12"/><stop offset="0.5141" stop-color="#f0ff0f"/><stop offset="0.5949" stop-color="#bdff42"/><stop offset="0.7929" stop-color="#00fbff"/><stop offset="0.9545" stop-color="#0081ff"/><stop offset="0.9990" stop-color="#0068ff"/></linearGradient>
<linearGradient id="h82"><stop offset="0.0010" stop-color="#0001ff"/><stop offset="0.0172" stop-color="#003dff"/><stop offset="0.0273" stop-color="#002eff"/><stop offset="0.0374" stop-color="#001eff"/><stop offset="0.0455" stop-color="#0039ff"/><stop offset="0.0596" stop-color="#0083ff"/><stop offset="0.0677" stop-color="#008cff"/><stop offset="0.0879" stop-color="#0060ff"/><stop offset="0.0980" stop-color="#0070ff"/><stop offset="0.1121" stop-color="#00c1ff"/><stop offset="0.1222" stop-color="#01fffe"/><stop offset="0.1343" stop-color="#2fffd0"/><stop offset="0.1485" stop-color="#34ffcb"/><stop offset="0.1747" stop-color="#17ffe8"/><stop offset="0.2030" stop-color="#38ffc7"/><stop offset="0.2596" stop-color="#8bff74"/><stop offset="0.2899" stop-color="#93ff6c"/><stop offset="0.3283" stop-color="#85ff7a"/><stop offset="0.3525" stop-color="#a6ff59"/><stop offset="0.3909" stop-color="#f9ff06"/><stop offset="0.4535" stop-color="#ffcb00"/><stop offset="0.5101" stop-color="#ffcf00"/><stop offset="0.5788" stop-color="#faff05"/><stop offset="0.8051" stop-color="#01fffe"/><stop offset="0.9606" stop-color="#0085ff"/><stop offset="0.9990" stop-color="#006fff"/></linearGradient>
<linearGradient id="h83"><stop offset="0.0010" stop-color="#0006ff"/><stop offset="0.0172" stop-color="#0042ff"/><stop offset="0.0293" stop-color="#0037ff"/><stop offset="0.0394" stop-color="#0036ff"/><stop offset="0.0616" stop-color="#0091ff"/><stop offset="0.0737" stop-color="#008fff"/><stop offset="0.0899" stop-color="#007dff"/><stop offset="0.1020" stop-color="#009eff"/><stop offset="0.1202" stop-color="#01fffe"/><stop offset="0.1343" stop-color="#38ffc7"/><stop offset="0.1525" stop-color="#4cffb3"/><stop offset="0.1828" stop-color="#59ffa6"/><stop offset="0.2778" stop-color="#afff50"/><stop offset="0.3323" stop-color="#baff45"/><stop offset="0.3566" stop-color="#e8ff17"/><stop offset="0.3667" stop-color="#fffa00"/><stop offset="0.4010" stop-color="#ffb500"/><stop offset="0.4455" stop-color="#ff8b00"/><stop offset="0.4960" stop-color="#ff8d00"/><stop offset="0.5646" stop-color="#ffc800"/><stop offset="0.6131" stop-color="#faff05"/><stop offset="0.7848" stop-color="#24ffdb"/><stop offset="0.8253" stop-color="#00faff"/><stop offset="0.9707" stop-color="#0085ff"/><stop offset="0.9990" stop-color="#0074ff"/></linearGradient>
<linearGradient id="h84"><stop offset="0.0010" stop-color="#000eff"/><stop offset="0.0192" stop-color="#0048ff"/><stop offset="0.0394" stop-color="#004eff"/><stop offset="0.0636" stop-color="#0098ff"/><stop offset="0.0919" stop-color="#00a0ff"/><stop offset="0.1101" stop-color="#00dbff"/><stop offset="0.1202" stop-color="#07fff8"/><stop offset="0.1444" stop-color="#56ffa9"/><stop offset="0.1869" stop-color="#9eff61"/><stop offset="0.2192" stop-color="#a7ff58"/><stop offset="0.2576" stop-color="#acff53"/><stop offset="0.3384" stop-color="#f2ff0d"/><stop offset="0.3485" stop-color="#fff700"/><stop offset="0.3889" stop-color="#ff8c00"/><stop offset="0.4293" stop-color="#ff5500"/><stop offset="0.4737" stop-color="#ff4b00"/><stop offset="0.5303" stop-color="#ff7400"/><stop offset="0.6354" stop-color="#fbff04"/><stop offset="0.7768" stop-color="#3cffc3"/><stop offset="0.8374" stop-color="#00f9ff"/><stop offset="0.9788" stop-color="#0086ff"/><stop offset="0.9990" stop-color="#007aff"/></linearGradient>
<linearGradient id="h85"><stop offset="0.0010" stop-color="#001aff"/><stop offset="0.0273" stop-color="#0058ff"/><stop offset="0.0576" stop-color="#008dff"/><stop offset="0.1040" stop-color="#00ddff"/><stop offset="0.1182" stop-color="#03fffc"/><stop offset="0.1485" stop-color="#72ff8d"/><stop offset="0.1727" stop-color="#c5ff3a"/><stop offset="0.1909" stop-color="#e0ff1f"/><stop offset="0.2152" stop-color="#ceff31"/><stop offset="0.2455" stop-color="#afff50"/><stop offset="0.2697" stop-color="#c2ff3d"/><stop offset="0.3222" stop-color="#fffa00"/><stop offset="0.3505" stop-color="#ffc400"/><stop offset="0.3889" stop-color="#ff5600"/><stop offset="0.4253" stop-color="#ff1f00"/><stop offset="0.4657" stop-color="#ff1300"/><stop offset="0.5182" stop-color="#ff3900"/><stop offset="0.6172" stop-color="#ffcb00"/><stop offset="0.6535" stop-color="#f8ff07"/><stop offset="0.7788" stop-color="#46ffb9"/><stop offset="0.8455" stop-color="#00faff"/><stop offset="0.9828" stop-color="#0088ff"/><stop offset="0.9990" stop-color="#007eff"/></linearGradient>
<linearGradient id="h86"><stop offset="0.0010" stop-color="#0028ff"/><stop offset="0.0172" stop-color="#0047ff"/><stop offset="0.0374" stop-color="#007fff"/><stop offset="0.0636" stop-color="#0096ff"/><stop offset="0.0960" stop-color="#00ebff"/><stop offset="0.1182" stop-color="#05fffa"/><stop offset="0.1323" stop-color="#2cffd3"/><stop offset="0.1545" stop-color="#a7ff58"/><stop offset="0.1707" stop-color="#f5ff0a"/><stop offset="0.1808" stop-color="#ffed00"/><stop offset="0.1970" stop-color="#ffea00"/><stop offset="0.2111" stop-color="#f9ff06"/><stop offset="0.2394" stop-color="#baff45"/><stop offset="0.2596" stop-color="#b7ff48"/><stop offset="0.3020" stop-color="#fffb00"/><stop offset="0.3444" stop-color="#ffad00"/><stop offset="0.3869" stop-color="#ff2b00"/><stop offset="0.4111" stop-color="#fd0000"/><stop offset="0.4475" stop-color="#e10000"/><stop offset="0.4919" stop-color="#f40000"/><stop offset="0.5141" stop-color="#ff0d00"/><stop offset="0.6091" stop-color="#ffa400"/><stop offset="0.6636" stop-color="#fcff03"/><stop offset="0.7808" stop-color="#4effb1"/><stop offset="0.8535" stop-color="#00faff"/><stop offset="0.9889" stop-color="#0088ff"/><stop offset="0.9990" stop-color="#0082ff"/></linearGradient>
<linearGradient id="h87"><stop offset="0.0010" stop-color="#0036ff"/><stop offset="0.0152" stop-color="#0040ff"/><stop offset="0.0354" stop-color="#0094ff"/><stop offset="0.0475" stop-color="#0093ff"/><stop offset="0.0596" stop-color="#008bff"/><stop offset="0.0717" stop-color="#00b1ff"/><stop offset="0.0899" stop-color="#00fdff"/><stop offset="0.1061" stop-color="#09fff6"/><stop offset="0.1222" stop-color="#08fff7"/><stop offset="0.1343" stop-color="#2fffd0"/><stop offset="0.1505" stop-color="#9fff60"/><stop offset="0.1626" stop-color="#f8ff07"/><stop offset="0.1788" stop-color="#ffbf00"/><stop offset="0.1909" stop-color="#ffb500"/><stop offset="0.2071" stop-color="#ffd900"/><stop offset="0.2192" stop-color="#faff05"/><stop offset="0.2394" stop-color="#bfff40"/><stop offset="0.2576" stop-color="#b5ff4a"/><stop offset="0.2879" stop-color="#f2ff0d"/><stop offset="0.2980" stop-color="#fff400"/><stop offset="0.3485" stop-color="#ff8200"/><stop offset="0.3848" stop-color="#ff0a00"/><stop offset="0.3949" stop-color="#f10000"/><stop offset="0.4273" stop-color="#c30000"/><stop offset="0.4657" stop-color="#be0000"/><stop offset="0.5141" stop-color="#ec0000"/><stop offset="0.5323" stop-color="#ff0800"/><stop offset="0.6737" stop-color="#f9ff06"/><stop offset="0.7848" stop-color="#51ffae"/><stop offset="0.8576" stop-color="#00fbff"/><stop offset="0.9909" stop-color="#008aff"/><stop offset="0.9990" stop-color="#0085ff"/></linearGradient>
<linearGradient id="h88"><stop offset="0.0010" stop-color="#0042ff"/><stop offset="0.0131" stop-color="#003bff"/><stop offset="0.0212" stop-color="#005aff"/><stop offset="0.0333" stop-color="#00a1ff"/><stop offset="0.0414" stop-color="#00abff"/><stop offset="0.0576" stop-color="#0087ff"/><stop offset="0.0657" stop-color="#0095ff"/><stop offset="0.0838" stop-color="#00fcff"/><stop offset="0.0960" stop-color="#1fffe0"/><stop offset="0.1222" stop-color="#03fffc"/><stop offset="0.1323" stop-color="#1fffe0"/><stop offset="0.1444" stop-color="#75ff8a"/><stop offset="0.1586" stop-color="#f5ff0a"/><stop offset="0.1626" stop-color="#ffe900"/><stop offset="0.1747" stop-color="#ffa500"/><stop offset="0.1869" stop-color="#ff8e00"/><stop offset="0.2010" stop-color="#ffa800"/><stop offset="0.2212" stop-color="#fffd00"/><stop offset="0.2414" stop-color="#bdff42"/><stop offset="0.2576" stop-color="#b4ff4b"/><stop offset="0.2818" stop-color="#e7ff18"/><stop offset="0.2919" stop-color="#fffb00"/><stop offset="0.3505" stop-color="#ff6400"/><stop offset="0.3788" stop-color="#fe0000"/><stop offset="0.4091" stop-color="#ba0000"/><stop offset="0.4434" stop-color="#9e0000"/><stop offset="0.4838" stop-color="#af0000"/><stop offset="0.5424" stop-color="#ff0400"/><stop offset="0.6778" stop-color="#fdff02"/><stop offset="0.7848" stop-color="#57ffa8"/><stop offset="0.8616" stop-color="#00fbff"/><stop offset="0.9929" stop-color="#008aff"/><stop offset="0.9990" stop-color="#0087ff"/></linearGradient>
<linearGradient id="h89"><stop offset="0.0010" stop-color="#004aff"/><stop offset="0.0131" stop-color="#003bff"/><stop offset="0.0192" stop-color="#004fff"/><stop offset="0.0333" stop-color="#00adff"/><stop offset="0.0394" stop-color="#00b9ff"/><stop offset="0.0576" stop-color="#0085ff"/><stop offset="0.0657" stop-color="#0094ff"/><stop offset="0.0818" stop-color="#00fdff"/><stop offset="0.0919" stop-color="#29ffd6"/><stop offset="0.1020" stop-color="#29ffd6"/><stop offset="0.1202" stop-color="#01fffe"/><stop offset="0.1303" stop-color="#12ffed"/><stop offset="0.1404" stop-color="#53ffac"/><stop offset="0.1586" stop-color="#fff900"/><stop offset="0.1707" stop-color="#ffa000"/><stop offset="0.1808" stop-color="#ff7b00"/><stop offset="0.1929" stop-color="#ff7d00"/><stop offset="0.2091" stop-color="#ffb900"/><stop offset="0.2232" stop-color="#fffe00"/><stop offset="0.2414" stop-color="#beff41"/><stop offset="0.2556" stop-color="#b2ff4d"/><stop offset="0.2758" stop-color="#d7ff28"/><stop offset="0.2899" stop-color="#fffd00"/><stop offset="0.3525" stop-color="#ff4e00"/><stop offset="0.3747" stop-color="#fa0000"/><stop offset="0.4051" stop-color="#ae0000"/><stop offset="0.4374" stop-color="#8d0000"/><stop offset="0.4758" stop-color="#980000"/><stop offset="0.5303" stop-color="#e10000"/><stop offset="0.5505" stop-color="#ff0600"/><stop offset="0.6818" stop-color="#fcff03"/><stop offset="0.7869" stop-color="#58ffa7"/><stop offset="0.8636" stop-color="#00fbff"/><stop offset="0.9949" stop-color="#008aff"/><stop offset="0.9990" stop-color="#0088ff"/></linearGradient>
<linearGradient id="h90"><stop offset="0.0010" stop-color="#004dff"/><stop offset="0.0131" stop-color="#003aff"/><stop offset="0.0192" stop-color="#004fff"/><stop offset="0.0333" stop-color="#00b1ff"/><stop offset="0.0394" stop-color="#00bdff"/><stop offset="0.0576" stop-color="#0084ff"/><stop offset="0.0657" stop-color="#0093ff"/><stop offset="0.0818" stop-color="#02fffd"/><stop offset="0.0919" stop-color="#2effd1"/><stop offset="0.1020" stop-color="#2dffd2"/><stop offset="0.1202" stop-color="#00ffff"/><stop offset="0.1283" stop-color="#09fff6"/><stop offset="0.1384" stop-color="#42ffbd"/><stop offset="0.1566" stop-color="#f6ff09"/><stop offset="0.1626" stop-color="#ffd000"/><stop offset="0.1727" stop-color="#ff8d00"/><stop offset="0.1828" stop-color="#ff6f00"/><stop offset="0.1949" stop-color="#ff7a00"/><stop offset="0.2131" stop-color="#ffc800"/><stop offset="0.2253" stop-color="#f9ff06"/><stop offset="0.2414" stop-color="#bfff40"/><stop offset="0.2556" stop-color="#b1ff4e"/><stop offset="0.2737" stop-color="#d2ff2d"/><stop offset="0.2899" stop-color="#fffb00"/><stop offset="0.3525" stop-color="#ff4900"/><stop offset="0.3727" stop-color="#fb0000"/><stop offset="0.4030" stop-color="#ac0000"/><stop offset="0.4354" stop-color="#880000"/><stop offset="0.4737" stop-color="#910000"/><stop offset="0.5263" stop-color="#d50000"/><stop offset="0.5525" stop-color="#ff0600"/><stop offset="0.6818" stop-color="#feff01"/><stop offset="0.7869" stop-color="#59ffa6"/><stop offset="0.8636" stop-color="#00fcff"/><stop offset="0.9929" stop-color="#008cff"/><stop offset="0.9990" stop-color="#0089ff"/></linearGradient>
<linearGradient id="h91"><stop offset="0.0010" stop-color="#004aff"/><stop offset="0.0131" stop-color="#003bff"/><stop offset="0.0192" stop-color="#004fff"/><stop offset="0.0333" stop-color="#00adff"/><stop offset="0.0394" stop-color="#00b9ff"/><stop offset="0.0576" stop-color="#0085ff"/><stop offset="0.0657" stop-color="#0094ff"/><stop offset="0.0818" stop-color="#00fdff"/><stop offset="0.0919" stop-color="#29ffd6"/><stop offset="0.1020" stop-color="#29ffd6"/><stop offset="0.1202" stop-color="#01fffe"/><stop offset="0.1303" stop-color="#12ffed"/><stop offset="0.1404" stop-color="#53ffac"/><stop offset="0.1586" stop-color="#fff900"/><stop offset="0.1707" stop-color="#ffa000"/><stop offset="0.1808" stop-color="#ff7b00"/><stop offset="0.1929" stop-color="#ff7d00"/><stop offset="0.2091" stop-color="#ffb900"/><stop offset="0.2232" stop-color="#fffe00"/><stop offset="0.2414" stop-color="#beff41"/><stop offset="0.2556" stop-color="#b2ff4d"/><stop offset="0.2758" stop-color="#d7ff28"/><stop offset="0.2899" stop-color="#fffd00"/><stop offset="0.3525" stop-color="#ff4e00"/><stop offset="0.3747" stop-color="#fa0000"/><stop offset="0.4051" stop-color="#ae0000"/><stop offset="0.4374" stop-color="#8d0000"/><stop offset="0.4758" stop-color="#980000"/><stop offset="0.5303" stop-color="#e10000"/><stop offset="0.5505" stop-color="#ff0600"/><stop offset="0.6818" stop-color="#fcff03"/><stop offset="0.7869" stop-color="#58ffa7"/><stop offset="0.8636" stop-color="#00fbff"/><stop offset="0.9949" stop-color="#008aff"/><stop offset="0.9990" stop-color="#0088ff"/></linearGradient>
<linearGradient id="h92"><stop offset="0.0010" stop-color="#0042ff"/><stop offset="0.0131" stop-color="#003bff"/><stop offset="0.0212" stop-color="#005aff"/><stop offset="0.0333" stop-color="#00a1ff"/><stop offset="0.0414" stop-color="#00abff"/><stop offset="0.0576" stop-color="#0087ff"/><stop offset="0.0657" stop-color="#0095ff"/><stop offset="0.0838" stop-color="#00fcff"/><stop offset="0.0960" stop-color="#1fffe0"/><stop offset="0.1222" stop-color="#03fffc"/><stop offset="0.1323" stop-color="#1fffe0"/><stop offset="0.1444" stop-color="#75ff8a"/><stop offset="0.1586" stop-color="#f5ff0a"/><stop offset="0.1626" stop-color="#ffe900"/><stop offset="0.1747" stop-color="#ffa500"/><stop offset="0.1869" stop-color="#ff8e00"/><stop offset="0.2010" stop-color="#ffa800"/><stop offset="0.2212" stop-color="#fffd00"/><stop offset="0.2414" stop-color="#bdff42"/><stop offset="0.2576" stop-color="#b4ff4b"/><stop offset="0.2818" stop-color="#e7ff18"/><stop offset="0.2919" stop-color="#fffb00"/><stop offset="0.3505" stop-color="#ff6400"/><stop offset="0.3788" stop-color="#fe0000"/><stop offset="0.4091" stop-color="#ba0000"/><stop offset="0.4434" stop-color="#9e0000"/><stop offset="0.4838" stop-color="#af0000"/><stop offset="0.5424" stop-color="#ff0400"/><stop offset="0.6778" stop-color="#fdff02"/><stop offset="0.7848" stop-color="#57ffa8"/><stop offset="0.8616" stop-color="#00fbff"/><stop offset="0.9929" stop-color="#008aff"/><stop offset="0.9990" stop-color="#0087ff"/></linearGradient>
<linearGradient id="h93"><stop offset="0.0010" stop-color="#0036ff"/><stop offset="0.0152" stop-color="#0040ff"/><stop offset="0.0354" stop-color="#0094ff"/><stop offset="0.0475" stop-color="#0093ff"/><stop offset="0.0596" stop-color="#008bff"/><stop offset="0.0717" stop-color="#00b1ff"/><stop offset="0.0899" stop-color="#00fdff"/><stop offset="0.1061" stop-color="#09fff6"/><stop offset="0.1222" stop-color="#08fff7"/><stop offset="0.1343" stop-color="#2fffd0"/><stop offset="0.1505" stop-color="#9fff60"/><stop offset="0.1626" stop-color="#f8ff07"/><stop offset="0.1788" stop-color="#ffbf00"/><stop offset="0.1909" stop-color="#ffb500"/><stop offset="0.2071" stop-color="#ffd900"/><stop offset="0.2192" stop-color="#faff05"/><stop offset="0.2394" stop-color="#bfff40"/><stop offset="0.2576" stop-color="#b5ff4a"/><stop offset="0.2879" stop-color="#f2ff0d"/><stop offset="0.2980" stop-color="#fff400"/><stop offset="0.3485" stop-color="#ff8200"/><stop offset="0.3848" stop-color="#ff0a00"/><stop offset="0.3949" stop-color="#f10000"/><stop offset="0.4273" stop-color="#c30000"/><stop offset="0.4657" stop-color="#be0000"/><stop offset="0.5141" stop-color="#ec0000"/><stop offset="0.5323" stop-color="#ff0800"/><stop offset="0.6737" stop-color="#f9ff06"/><stop offset="0.7848" stop-color="#51ffae"/><stop offset="0.8576" stop-color="#00fbff"/><stop offset="0.9909" stop-color="#008aff"/><stop offset="0.9990" stop-color="#0085ff"/></linearGradient>
<linearGradient id="h94"><stop offset="0.0010" stop-color="#0028ff"/><stop offset="0.0172" stop-color="#0047ff"/><stop offset="0.0374" stop-color="#007fff"/><stop offset="0.0636" stop-color="#0096ff"/><stop offset="0.0960" stop-color="#00ebff"/><stop offset="0.1182" stop-color="#05fffa"/><stop offset="0.1323" stop-color="#2cffd3"/><stop offset="0.1545" stop-color="#a7ff58"/><stop offset="0.1707" stop-color="#f5ff0a"/><stop offset="0.1808" stop-color="#ffed00"/><stop offset="0.1970" stop-color="#ffea00"/><stop offset="0.2111" stop-color="#f9ff06"/><stop offset="0.2394" stop-color="#baff45"/><stop offset="0.2596" stop-color="#b7ff48"/><stop offset="0.3020" stop-color="#fffb00"/><stop offset="0.3444" stop-color="#ffad00"/><stop offset="0.3869" stop-color="#ff2b00"/><stop offset="0.4111" stop-color="#fd0000"/><stop offset="0.4475" stop-color="#e10000"/><stop offset="0.4919" stop-color="#f40000"/><stop offset="0.5141" stop-color="#ff0d00"/><stop offset="0.6091" stop-color="#ffa400"/><stop offset="0.6636" stop-color="#fcff03"/><stop offset="0.7808" stop-color="#4effb1"/><stop offset="0.8535" stop-color="#00faff"/><stop offset="0.9889" stop-color="#0088ff"/><stop offset="0.9990" stop-color="#0082ff"/></linearGradient>
<linearGradient id="h95"><stop offset="0.0010" stop-color="#001aff"/><stop offset="0.0273" stop-color="#0058ff"/><stop offset="0.0576" stop-color="#008dff"/><stop offset="0.1040" stop-color="#00ddff"/><stop offset="0.1182" stop-color="#03fffc"/><stop offset="0.1485" stop-color="#72ff8d"/><stop offset="0.1727" stop-color="#c5ff3a"/><stop offset="0.1909" stop-color="#e0ff1f"/><stop offset="0.2152" stop-color="#ceff31"/><stop offset="0.2455" stop-color="#afff50"/><stop offset="0.2697" stop-color="#c2ff3d"/><stop offset="0.3222" stop-color="#fffa00"/><stop offset="0.3505" stop-color="#ffc400"/><stop offset="0.3889" stop-color="#ff5600"/><stop offset="0.4253" stop-color="#ff1f00"/><stop offset="0.4657" stop-color="#ff1300"/><stop offset="0.5182" stop-color="#ff3900"/><stop offset="0.6172" stop-color="#ffcb00"/><stop offset="0.6535" stop-color="#f8ff07"/><stop offset="0.7788" stop-color="#46ffb9"/><stop offset="0.8455" stop-color="#00faff"/><stop offset="0.9828" stop-color="#0088ff"/><stop offset="0.9990" stop-color="#007eff"/></linearGradient>
<linearGradient id="h96"><stop offset="0.0010" stop-color="#000eff"/><stop offset="0.0192" stop-color="#0048ff"/><stop offset="0.0394" stop-color="#004eff"/><stop offset="0.0636" stop-color="#0098ff"/><stop offset="0.0919" stop-color="#00a0ff"/><stop offset="0.1101" stop-color="#00dbff"/><stop offset="0.1202" stop-color="#07fff8"/><stop offset="0.1444" stop-color="#56ffa9"/><stop offset="0.1869" stop-color="#9eff61"/><stop offset="0.2192" stop-color="#a7ff58"/><stop offset="0.2576" stop-color="#acff53"/><stop offset="0.3384" stop-color="#f2ff0d"/><stop offset="0.3485" stop-color="#fff700"/><stop offset="0.3889" stop-color="#ff8c00"/><stop offset="0.4293" stop-color="#ff5500"/><stop offset="0.4737" stop-color="#ff4b00"/><stop offset="0.5303" stop-color="#ff7400"/><stop offset="0.6354" stop-color="#fbff04"/><stop offset="0.7768" stop-color="#3cffc3"/><stop offset="0.8374" stop-color="#00f9ff"/><stop offset="0.9788" stop-color="#0086ff"/><stop offset="0.9990" stop-color="#007aff"/></linearGradient>
<linearGradient id="h97"><stop offset="0.0010" stop-color="#0006ff"/><stop offset="0.0172" stop-color="#0042ff"/><stop offset="0.0293" stop-color="#0037ff"/><stop offset="0.0394" stop-color="#0036ff"/><stop offset="0.0616" stop-color="#0091ff"/><stop offset="0.0737" stop-color="#008fff"/><stop offset="0.0899" stop-color="#007dff"/><stop offset="0.1020" stop-color="#009eff"/><stop offset="0.1202" stop-color="#01fffe"/><stop offset="0.1343" stop-color="#38ffc7"/><stop offset="0.1525" stop-color="#4cffb3"/><stop offset="0.1828" stop-color="#59ffa6"/><stop offset="0.2778" stop-color="#afff50"/><stop offset="0.3323" stop-color="#baff45"/><stop offset="0.3566" stop-color="#e8ff17"/><stop offset="0.3667" stop-color="#fffa00"/><stop offset="0.4010" stop-color="#ffb500"/><stop offset="0.4455" stop-color="#ff8b00"/><stop offset="0.4960" stop-color="#ff8d00"/><stop offset="0.5646" stop-color="#ffc800"/><stop offset="0.6131" stop-color="#faff05"/><stop offset="0.7848" stop-color="#24ffdb"/><stop offset="0.8253" stop-color="#00faff"/><stop offset="0.9707" stop-color="#0085ff"/><stop offset="0.9990" stop-color="#0074ff"/></linearGradient>
<linearGradient id="h98"><stop offset="0.0010" stop-color="#0001ff"/><stop offset="0.0172" stop-color="#003dff"/><stop offset="0.0273" stop-color="#002eff"/><stop offset="0.0374" stop-color="#001eff"/><stop offset="0.0455" stop-color="#0039ff"/><stop offset="0.0596" stop-color="#0083ff"/><stop offset="0.0677" stop-color="#008cff"/><stop offset="0.0879" stop-color="#0060ff"/><stop offset="0.0980" stop-color="#0070ff"/><stop offset="0.1121" stop-color="#00c1ff"/><stop offset="0.1222" stop-color="#01fffe"/><stop offset="0.1343" stop-color="#2fffd0"/><stop offset="0.1485" stop-color="#34ffcb"/><stop offset="0.1747" stop-color="#17ffe8"/><stop offset="0.2030" stop-color="#38ffc7"/><stop offset="0.2596" stop-color="#8bff74"/><stop offset="0.2899" stop-color="#93ff6c"/><stop offset="0.3283" stop-color="#85ff7a"/><stop offset="0.3525" stop-color="#a6ff59"/><stop offset="0.3909" stop-color="#f9ff06"/><stop offset="0.4535" stop-color="#ffcb00"/><stop offset="0.5101" stop-color="#ffcf00"/><stop offset="0.5788" stop-color="#faff05"/><stop offset="0.8051" stop-color="#01fffe"/><stop offset="0.9606" stop-color="#0085ff"/><stop offset="0.9990" stop-color="#006fff"/></linearGradient>
<linearGradient id="h99"><stop offset="0.0010" stop-color="#0002ff"/><stop offset="0.0172" stop-color="#0037ff"/><stop offset="0.0253" stop-color="#002bff"/><stop offset="0.0354" stop-color="#000fff"/><stop offset="0.0434" stop-color="#001eff"/><stop offset="0.0596" stop-color="#0075ff"/><stop offset="0.0677" stop-color="#007eff"/><stop offset="0.0879" stop-color="#0047ff"/><stop offset="0.0980" stop-color="#0056ff"/><stop offset="0.1101" stop-color="#009cff"/><stop offset="0.1242" stop-color="#00fbff"/><stop offset="0.1364" stop-color="#23ffdc"/><stop offset="0.1485" stop-color="#1affe5"/><stop offset="0.1606" stop-color="#00f9ff"/><stop offset="0.1768" stop-color="#00dfff"/><stop offset="0.1970" stop-color="#00f2ff"/><stop offset="0.2071" stop-color="#08fff7"/><stop offset="0.2535" stop-color="#67ff98"/><stop offset="0.2798" stop-color="#75ff8a"/><stop offset="0.3283" stop-color="#51ffae"/><stop offset="0.3525" stop-color="#6dff92"/><stop offset="0.3909" stop-color="#b7ff48"/><stop offset="0.4535" stop-color="#edff12"/><stop offset="0.5141" stop-color="#f0ff0f"/><stop offset="0.5949" stop-color="#bdff42"/><stop offset="0.7929" stop-color="#00fbff"/><stop offset="0.9545" stop-color="#0081ff"/><stop offset="0.9990" stop-color="#0068ff"/></linearGradient>
<linearGradient id="h100"><stop offset="0.0010" stop-color="#0007ff"/><stop offset="0.0172" stop-color="#0030ff"/><stop offset="0.0273" stop-color="#001aff"/><stop offset="0.0374" stop-color="#0004ff"/><stop offset="0.0455" stop-color="#001bff"/><stop offset="0.0596" stop-color="#0063ff"/><stop offset="0.0677" stop-color="#006bff"/><stop offset="0.0879" stop-color="#0033ff"/><stop offset="0.0980" stop-color="#003fff"/><stop offset="0.1101" stop-color="#0085ff"/><stop offset="0.1263" stop-color="#00efff"/><stop offset="0.1323" stop-color="#05fffa"/><stop offset="0.1424" stop-color="#0afff5"/><stop offset="0.1505" stop-color="#00f7ff"/><stop offset="0.1727" stop-color="#00b3ff"/><stop offset="0.1889" stop-color="#00b0ff"/><stop offset="0.2273" stop-color="#06fff9"/><stop offset="0.2556" stop-color="#44ffbb"/><stop offset="0.2778" stop-color="#4fffb0"/><stop offset="0.3263" stop-color="#1dffe2"/><stop offset="0.3505" stop-color="#31ffce"/><stop offset="0.3889" stop-color="#73ff8c"/><stop offset="0.4697" stop-color="#acff53"/><stop offset="0.5384" stop-color="#adff52"/><stop offset="0.6354" stop-color="#71ff8e"/><stop offset="0.7727" stop-color="#00f9ff"/><stop offset="0.9505" stop-color="#007bff"/><stop offset="0.9990" stop-color="#0061ff"/></linearGradient>
<linearGradient id="h101"><stop offset="0.0010" stop-color="#0011ff"/><stop offset="0.0172" stop-color="#0029ff"/><stop offset="0.0374" stop-color="#0000fe"/><stop offset="0.0455" stop-color="#0012ff"/><stop offset="0.0616" stop-color="#0053ff"/><stop offset="0.0717" stop-color="#004fff"/><stop offset="0.0899" stop-color="#0022ff"/><stop offset="0.1000" stop-color="#0034ff"/><stop offset="0.1141" stop-color="#0088ff"/><stop offset="0.1283" stop-color="#00daff"/><stop offset="0.1384" stop-color="#00eeff"/><stop offset="0.1505" stop-color="#00d8ff"/><stop offset="0.1727" stop-color="#008bff"/><stop offset="0.1889" stop-color="#0082ff"/><stop offset="0.2172" stop-color="#00baff"/><stop offset="0.2434" stop-color="#02fffd"/><stop offset="0.2677" stop-color="#25ffda"/><stop offset="0.2919" stop-color="#17ffe8"/><stop offset="0.3101" stop-color="#00f9ff"/><stop offset="0.3323" stop-color="#00eaff"/><stop offset="0.3566" stop-color="#06fff9"/><stop offset="0.3909" stop-color="#35ffca"/><stop offset="0.4939" stop-color="#6fff90"/><stop offset="0.5707" stop-color="#6aff95"/><stop offset="0.6919" stop-color="#22ffdd"/><stop offset="0.7465" stop-color="#00f8ff"/><stop offset="0.9525" stop-color="#0071ff"/><stop offset="0.9990" stop-color="#005aff"/></linearGradient>
<linearGradient id="h102"><stop offset="0.0010" stop-color="#001eff"/><stop offset="0.0192" stop-color="#001fff"/><stop offset="0.0354" stop-color="#0000fe"/><stop offset="0.0455" stop-color="#000dff"/><stop offset="0.0616" stop-color="#003dff"/><stop offset="0.0737" stop-color="#0035ff"/><stop offset="0.0899" stop-color="#0017ff"/><stop offset="0.1000" stop-color="#0026ff"/><stop offset="0.1162" stop-color="#007aff"/><stop offset="0.1303" stop-color="#00beff"/><stop offset="0.1404" stop-color="#00caff"/><stop offset="0.1545" stop-color="#00a9ff"/><stop offset="0.1747" stop-color="#0066ff"/><stop offset="0.1909" stop-color="#005cff"/><stop offset="0.2212" stop-color="#0095ff"/><stop offset="0.2556" stop-color="#00eaff"/><stop offset="0.2778" stop-color="#00f7ff"/><stop offset="0.3263" stop-color="#00bbff"/><stop offset="0.3525" stop-color="#00ccff"/><stop offset="0.3889" stop-color="#00f6ff"/><stop offset="0.4313" stop-color="#0bfff4"/><stop offset="0.5263" stop-color="#36ffc9"/><stop offset="0.6131" stop-color="#2affd5"/><stop offset="0.7061" stop-color="#00f9ff"/><stop offset="0.9707" stop-color="#005eff"/><stop offset="0.9990" stop-color="#0052ff"/></linearGradient>
<linearGradient id="h103"><stop offset="0.0010" stop-color="#002cff"/><stop offset="0.0212" stop-color="#0014ff"/><stop offset="0.0374" stop-color="#0003ff"/><stop offset="0.0657" stop-color="#0028ff"/><stop offset="0.0919" stop-color="#0010ff"/><stop offset="0.1040" stop-color="#0028ff"/><stop offset="0.1303" stop-color="#0098ff"/><stop offset="0.1424" stop-color="#00a3ff"/><stop offset="0.1586" stop-color="#007bff"/><stop offset="0.1788" stop-color="#0042ff"/><stop offset="0.1949" stop-color="#003eff"/><stop offset="0.2293" stop-color="#007dff"/><stop offset="0.2576" stop-color="#00c1ff"/><stop offset="0.2798" stop-color="#00cbff"/><stop offset="0.3263" stop-color="#0093ff"/><stop offset="0.3566" stop-color="#00a4ff"/><stop offset="0.3909" stop-color="#00bdff"/><stop offset="0.4717" stop-color="#00e0ff"/><stop offset="0.5586" stop-color="#01fffe"/><stop offset="0.6535" stop-color="#00f2ff"/><stop offset="0.9990" stop-color="#004aff"/></linearGradient>
<linearGradient id="h104"><stop offset="0.0010" stop-color="#003aff"/><stop offset="0.0152" stop-color="#001dff"/><stop offset="0.0293" stop-color="#0006ff"/><stop offset="0.0657" stop-color="#0012ff"/><stop offset="0.0939" stop-color="#000dff"/><stop offset="0.1121" stop-color="#0037ff"/><stop offset="0.1323" stop-color="#0074ff"/><stop offset="0.1465" stop-color="#0078ff"/><stop offset="0.1808" stop-color="#0029ff"/><stop offset="0.1990" stop-color="#0026ff"/><stop offset="0.2313" stop-color="#005bff"/><stop offset="0.2596" stop-color="#009bff"/><stop offset="0.2818" stop-color="#00a4ff"/><stop offset="0.3283" stop-color="#0070ff"/><stop offset="0.3909" stop-color="#0089ff"/><stop offset="0.4495" stop-color="#0095ff"/><stop offset="0.5667" stop-color="#00cdff"/><stop offset="0.6677" stop-color="#00c9ff"/><stop offset="0.9990" stop-color="#0041ff"/></linearGradient>
<linearGradient id="h105"><stop offset="0.0010" stop-color="#0046ff"/><stop offset="0.0111" stop-color="#002dff"/><stop offset="0.0232" stop-color="#0007ff"/><stop offset="0.0475" stop-color="#0017ff"/><stop offset="0.0717" stop-color="#0000fd"/><stop offset="0.1000" stop-color="#0013ff"/><stop offset="0.1384" stop-color="#0053ff"/><stop offset="0.1566" stop-color="#0045ff"/><stop offset="0.1869" stop-color="#0011ff"/><stop offset="0.2111" stop-color="#001aff"/><stop offset="0.2394" stop-color="#004fff"/><stop offset="0.2657" stop-color="#007fff"/><stop offset="0.2899" stop-color="#007eff"/><stop offset="0.3283" stop-color="#0055ff"/><stop offset="0.3909" stop-color="#005bff"/><stop offset="0.4414" stop-color="#005aff"/><stop offset="0.5869" stop-color="#00a2ff"/><stop offset="0.6919" stop-color="#00a3ff"/><stop offset="0.9990" stop-color="#0039ff"/></linearGradient>
<linearGradient id="h106"><stop offset="0.0010" stop-color="#004eff"/><stop offset="0.0111" stop-color="#0030ff"/><stop offset="0.0212" stop-color="#0008ff"/><stop offset="0.0313" stop-color="#0010ff"/><stop offset="0.0434" stop-color="#0023ff"/><stop offset="0.0616" stop-color="#0000f9"/><stop offset="0.0758" stop-color="#0000f1"/><stop offset="0.0919" stop-color="#000aff"/><stop offset="0.1465" stop-color="#0030ff"/><stop offset="0.1970" stop-color="#0000fe"/><stop offset="0.2253" stop-color="#0016ff"/><stop offset="0.2657" stop-color="#0062ff"/><stop offset="0.2899" stop-color="#0065ff"/><stop offset="0.3323" stop-color="#003eff"/><stop offset="0.3889" stop-color="#0034ff"/><stop offset="0.4354" stop-color="#0027ff"/><stop offset="0.6111" stop-color="#007eff"/><stop offset="0.7242" stop-color="#0081ff"/><stop offset="0.9990" stop-color="#0030ff"/></linearGradient>
<linearGradient id="h107"><stop offset="0.0010" stop-color="#0050ff"/><stop offset="0.0091" stop-color="#003cff"/><stop offset="0.0212" stop-color="#0009ff"/><stop offset="0.0293" stop-color="#0010ff"/><stop offset="0.0414" stop-color="#002eff"/><stop offset="0.0515" stop-color="#001bff"/><stop offset="0.0596" stop-color="#0000fb"/><stop offset="0.0697" stop-color="#0000e4"/><stop offset="0.0838" stop-color="#0000f8"/><stop offset="0.1040" stop-color="#0018ff"/><stop offset="0.1485" stop-color="#0010ff"/><stop offset="0.1889" stop-color="#0000f9"/><stop offset="0.2172" stop-color="#0000f8"/><stop offset="0.2333" stop-color="#000fff"/><stop offset="0.2677" stop-color="#004aff"/><stop offset="0.2939" stop-color="#004dff"/><stop offset="0.3404" stop-color="#002aff"/><stop offset="0.3929" stop-color="#000fff"/><stop offset="0.4354" stop-color="#0000fd"/><stop offset="0.5000" stop-color="#0019ff"/><stop offset="0.6212" stop-color="#005bff"/><stop offset="0.7364" stop-color="#0066ff"/><stop offset="0.9990" stop-color="#0027ff"/></linearGradient>
<linearGradient id="h108"><stop offset="0.0010" stop-color="#004dff"/><stop offset="0.0111" stop-color="#0031ff"/><stop offset="0.0212" stop-color="#000cff"/><stop offset="0.0293" stop-color="#0016ff"/><stop offset="0.0414" stop-color="#0037ff"/><stop offset="0.0495" stop-color="#002aff"/><stop offset="0.0596" stop-color="#0000fc"/><stop offset="0.0697" stop-color="#0000e0"/><stop offset="0.0818" stop-color="#0000ef"/><stop offset="0.0899" stop-color="#0007ff"/><stop offset="0.1040" stop-color="#001aff"/><stop offset="0.1303" stop-color="#0000f7"/><stop offset="0.1869" stop-color="#0000f4"/><stop offset="0.2192" stop-color="#0000ed"/><stop offset="0.2394" stop-color="#0008ff"/><stop offset="0.2758" stop-color="#003aff"/><stop offset="0.3061" stop-color="#0032ff"/><stop offset="0.3848" stop-color="#0000f9"/><stop offset="0.4313" stop-color="#0000db"/><stop offset="0.4939" stop-color="#0000ed"/><stop offset="0.5343" stop-color="#0008ff"/><stop offset="0.6475" stop-color="#0042ff"/><stop offset="0.7707" stop-color="#004cff"/><stop offset="0.9990" stop-color="#001eff"/></linearGradient>
<linearGradient id="h109"><stop offset="0.0010" stop-color="#0044ff"/><stop offset="0.0111" stop-color="#002eff"/><stop offset="0.0212" stop-color="#0011ff"/><stop offset="0.0313" stop-color="#0024ff"/><stop offset="0.0414" stop-color="#003dff"/><stop offset="0.0495" stop-color="#0030ff"/><stop offset="0.0596" stop-color="#0001ff"/><stop offset="0.0697" stop-color="#0000e1"/><stop offset="0.0798" stop-color="#0000e9"/><stop offset="0.0899" stop-color="#0008ff"/><stop offset="0.1040" stop-color="#001eff"/><stop offset="0.1222" stop-color="#0000fc"/><stop offset="0.1404" stop-color="#0000de"/><stop offset="0.1869" stop-color="#0000f1"/><stop offset="0.2253" stop-color="#0000e7"/><stop offset="0.2495" stop-color="#0006ff"/><stop offset="0.2838" stop-color="#0028ff"/><stop offset="0.3303" stop-color="#0011ff"/><stop offset="0.3646" stop-color="#0000f8"/><stop offset="0.4253" stop-color="#0000c3"/><stop offset="0.4818" stop-color="#0000c6"/><stop offset="0.5848" stop-color="#0007ff"/><stop offset="0.6960" stop-color="#0033ff"/><stop offset="0.8434" stop-color="#0033ff"/><stop offset="0.9990" stop-color="#0016ff"/></linearGradient>
<linearGradient id="h110"><stop offset="0.0010" stop-color="#0038ff"/><stop offset="0.0212" stop-color="#0018ff"/><stop offset="0.0414" stop-color="#0040ff"/><stop offset="0.0515" stop-color="#002cff"/><stop offset="0.0616" stop-color="#0000fe"/><stop offset="0.0717" stop-color="#0000e5"/><stop offset="0.0838" stop-color="#0000f7"/><stop offset="0.0980" stop-color="#001dff"/><stop offset="0.1101" stop-color="#001bff"/><stop offset="0.1222" stop-color="#0000fa"/><stop offset="0.1404" stop-color="#0000d0"/><stop offset="0.1606" stop-color="#0000d8"/><stop offset="0.1889" stop-color="#0000ee"/><stop offset="0.2313" stop-color="#0000e2"/><stop offset="0.2677" stop-color="#0007ff"/><stop offset="0.3020" stop-color="#0013ff"/><stop offset="0.3465" stop-color="#0000f7"/><stop offset="0.4293" stop-color="#0000ad"/><stop offset="0.4859" stop-color="#0000ae"/><stop offset="0.6333" stop-color="#0004ff"/><stop offset="0.7525" stop-color="#0025ff"/><stop offset="0.9444" stop-color="#0017ff"/><stop offset="0.9990" stop-color="#000eff"/></linearGradient>
<linearGradient id="h111"><stop offset="0.0010" stop-color="#002aff"/><stop offset="0.0212" stop-color="#001fff"/><stop offset="0.0414" stop-color="#0040ff"/><stop offset="0.0535" stop-color="#0026ff"/><stop offset="0.0657" stop-color="#0000f9"/><stop offset="0.0758" stop-color="#0000ef"/><stop offset="0.0879" stop-color="#0008ff"/><stop offset="0.1040" stop-color="#0023ff"/><stop offset="0.1182" stop-color="#000aff"/><stop offset="0.1263" stop-color="#0000ee"/><stop offset="0.1424" stop-color="#0000c7"/><stop offset="0.1606" stop-color="#0000cc"/><stop offset="0.1889" stop-color="#0000ee"/><stop offset="0.2394" stop-color="#0000df"/><stop offset="0.3000" stop-color="#0000ff"/><stop offset="0.3646" stop-color="#0000da"/><stop offset="0.4313" stop-color="#00009e"/><stop offset="0.4899" stop-color="#00009c"/><stop offset="0.6818" stop-color="#0001ff"/><stop offset="0.8172" stop-color="#0017ff"/><stop offset="0.9990" stop-color="#0006ff"/></linearGradient>
<linearGradient id="h112"><stop offset="0.0010" stop-color="#001dff"/><stop offset="0.0192" stop-color="#0024ff"/><stop offset="0.0394" stop-color="#003dff"/><stop offset="0.0556" stop-color="#0021ff"/><stop offset="0.0717" stop-color="#0000fe"/><stop offset="0.0859" stop-color="#000aff"/><stop offset="0.1040" stop-color="#0024ff"/><stop offset="0.1182" stop-color="#000dff"/><stop offset="0.1242" stop-color="#0000f9"/><stop offset="0.1424" stop-color="#0000c4"/><stop offset="0.1586" stop-color="#0000c1"/><stop offset="0.1929" stop-color="#0000f0"/><stop offset="0.2515" stop-color="#0000db"/><stop offset="0.3141" stop-color="#0000ea"/><stop offset="0.3747" stop-color="#0000c5"/><stop offset="0.4414" stop-color="#000091"/><stop offset="0.5040" stop-color="#000092"/><stop offset="0.7061" stop-color="#0000f6"/><stop offset="0.8071" stop-color="#0008ff"/><stop offset="0.9990" stop-color="#0000fd"/></linearGradient>
<linearGradient id="h113"><stop offset="0.0010" stop-color="#0011ff"/><stop offset="0.0131" stop-color="#0019ff"/><stop offset="0.0293" stop-color="#003cff"/><stop offset="0.0535" stop-color="#0025ff"/><stop offset="0.0778" stop-color="#0010ff"/><stop offset="0.1081" stop-color="#0022ff"/><stop offset="0.1242" stop-color="#0000fd"/><stop offset="0.1465" stop-color="#0000c1"/><stop offset="0.1626" stop-color="#0000c2"/><stop offset="0.1970" stop-color="#0000f5"/><stop offset="0.2313" stop-color="#0000e2"/><stop offset="0.2737" stop-color="#0000d5"/><stop offset="0.3384" stop-color="#0000d4"/><stop offset="0.4515" stop-color="#000088"/><stop offset="0.5202" stop-color="#00008d"/><stop offset="0.7222" stop-color="#0000eb"/><stop offset="0.8798" stop-color="#0000fd"/><stop offset="0.9990" stop-color="#0000f6"/></linearGradient>
<linearGradient id="h114"><stop offset="0.0010" stop-color="#0008ff"/><stop offset="0.0111" stop-color="#000fff"/><stop offset="0.0253" stop-color="#003eff"/><stop offset="0.0374" stop-color="#0036ff"/><stop offset="0.0556" stop-color="#0022ff"/><stop offset="0.1121" stop-color="#001cff"/><stop offset="0.1263" stop-color="#0000fc"/><stop offset="0.1485" stop-color="#0000c4"/><stop offset="0.1646" stop-color="#0000c4"/><stop offset="0.2010" stop-color="#0000fc"/><stop offset="0.2293" stop-color="#0000ee"/><stop offset="0.2737" stop-color="#0000cd"/><stop offset="0.3606" stop-color="#0000c0"/><stop offset="0.4596" stop-color="#000085"/><stop offset="0.5343" stop-color="#00008b"/><stop offset="0.7404" stop-color="#0000e3"/><stop offset="0.9101" stop-color="#0000f4"/><stop offset="0.9990" stop-color="#0000ef"/></linearGradient>
<linearGradient id="h115"><stop offset="0.0010" stop-color="#0003ff"/><stop offset="0.0111" stop-color="#000cff"/><stop offset="0.0253" stop-color="#0042ff"/><stop offset="0.0354" stop-color="#0037ff"/><stop offset="0.0495" stop-color="#001cff"/><stop offset="0.0758" stop-color="#0038ff"/><stop offset="0.1222" stop-color="#000aff"/><stop offset="0.1323" stop-color="#0000f2"/><stop offset="0.1545" stop-color="#0000c7"/><stop offset="0.1727" stop-color="#0000d1"/><stop offset="0.2010" stop-color="#0003ff"/><stop offset="0.2253" stop-color="#0001ff"/><stop offset="0.2818" stop-color="#0000c7"/><stop offset="0.3808" stop-color="#0000b1"/><stop offset="0.4758" stop-color="#000084"/><stop offset="0.5626" stop-color="#000092"/><stop offset="0.7586" stop-color="#0000dd"/><stop offset="0.9424" stop-color="#0000eb"/><stop offset="0.9990" stop-color="#0000e9"/></linearGradient>
<linearGradient id="h116"><stop offset="0.0010" stop-color="#0002ff"/><stop offset="0.0111" stop-color="#000bff"/><stop offset="0.0253" stop-color="#0043ff"/><stop offset="0.0333" stop-color="#003aff"/><stop offset="0.0475" stop-color="#0014ff"/><stop offset="0.0596" stop-color="#002aff"/><stop offset="0.0737" stop-color="#004bff"/><stop offset="0.0899" stop-color="#0039ff"/><stop offset="0.1283" stop-color="#0002ff"/><stop offset="0.1586" stop-color="#0000d0"/><stop offset="0.1788" stop-color="#0000e0"/><stop offset="0.1990" stop-color="#0005ff"/><stop offset="0.2212" stop-color="#0012ff"/><stop offset="0.2455" stop-color="#0000f8"/><stop offset="0.2899" stop-color="#0000c4"/><stop offset="0.4111" stop-color="#0000a1"/><stop offset="0.5000" stop-color="#000086"/><stop offset="0.6111" stop-color="#0000a2"/><stop offset="0.7929" stop-color="#0000db"/><stop offset="0.9990" stop-color="#0000e3"/></linearGradient>
<linearGradient id="h117"><stop offset="0.0010" stop-color="#0004ff"/><stop offset="0.0111" stop-color="#000dff"/><stop offset="0.0232" stop-color="#003eff"/><stop offset="0.0313" stop-color="#003bff"/><stop offset="0.0455" stop-color="#000fff"/><stop offset="0.0556" stop-color="#001cff"/><stop offset="0.0717" stop-color="#0057ff"/><stop offset="0.0818" stop-color="#0058ff"/><stop offset="0.1101" stop-color="#0014ff"/><stop offset="0.1384" stop-color="#0000fa"/><stop offset="0.1667" stop-color="#0000dd"/><stop offset="0.1909" stop-color="#0000fb"/><stop offset="0.2212" stop-color="#0020ff"/><stop offset="0.2495" stop-color="#0006ff"/><stop offset="0.3020" stop-color="#0000c1"/><stop offset="0.5141" stop-color="#00008c"/><stop offset="0.6535" stop-color="#0000af"/><stop offset="0.8374" stop-color="#0000da"/><stop offset="0.9990" stop-color="#0000de"/></linearGradient>
<linearGradient id="h118"><stop offset="0.0010" stop-color="#000aff"/><stop offset="0.0111" stop-color="#0012ff"/><stop offset="0.0253" stop-color="#003cff"/><stop offset="0.0354" stop-color="#0027ff"/><stop offset="0.0475" stop-color="#000aff"/><stop offset="0.0576" stop-color="#0023ff"/><stop offset="0.0717" stop-color="#0060ff"/><stop offset="0.0818" stop-color="#0065ff"/><stop offset="0.1101" stop-color="#0011ff"/><stop offset="0.1545" stop-color="#0000f8"/><stop offset="0.1768" stop-color="#0000f1"/><stop offset="0.1929" stop-color="#0006ff"/><stop offset="0.2232" stop-color="#002dff"/><stop offset="0.2495" stop-color="#001aff"/><stop offset="0.2697" stop-color="#0000f7"/><stop offset="0.3101" stop-color="#0000c2"/><stop offset="0.5162" stop-color="#000095"/><stop offset="0.6596" stop-color="#0000b0"/><stop offset="0.8616" stop-color="#0000d7"/><stop offset="0.9990" stop-color="#0000da"/></linearGradient>
<linearGradient id="h119"><stop offset="0.0010" stop-color="#0012ff"/><stop offset="0.0131" stop-color="#001fff"/><stop offset="0.0253" stop-color="#0034ff"/><stop offset="0.0475" stop-color="#0008ff"/><stop offset="0.0576" stop-color="#0023ff"/><stop offset="0.0737" stop-color="#0068ff"/><stop offset="0.0838" stop-color="#0068ff"/><stop offset="0.1101" stop-color="#000fff"/><stop offset="0.1263" stop-color="#000aff"/><stop offset="0.1525" stop-color="#0011ff"/><stop offset="0.1808" stop-color="#0004ff"/><stop offset="0.2293" stop-color="#003bff"/><stop offset="0.2556" stop-color="#0027ff"/><stop offset="0.2798" stop-color="#0000fb"/><stop offset="0.3202" stop-color="#0000c4"/><stop offset="0.3909" stop-color="#0000b3"/><stop offset="0.5586" stop-color="#00009f"/><stop offset="0.8758" stop-color="#0000d4"/><stop offset="0.9990" stop-color="#0000d6"/></linearGradient>
<linearGradient id="h120"><stop offset="0.0010" stop-color="#001cff"/><stop offset="0.0253" stop-color="#002cff"/><stop offset="0.0455" stop-color="#0009ff"/><stop offset="0.0556" stop-color="#001cff"/><stop offset="0.0737" stop-color="#0066ff"/><stop offset="0.0838" stop-color="#0069ff"/><stop offset="0.1121" stop-color="#000bff"/><stop offset="0.1263" stop-color="#000bff"/><stop offset="0.1525" stop-color="#0027ff"/><stop offset="0.1889" stop-color="#001aff"/><stop offset="0.2354" stop-color="#0049ff"/><stop offset="0.2616" stop-color="#0034ff"/><stop offset="0.2919" stop-color="#0000fb"/><stop offset="0.3323" stop-color="#0000c6"/><stop offset="0.4051" stop-color="#0000b6"/><stop offset="0.5929" stop-color="#0000ab"/><stop offset="0.9040" stop-color="#0000d3"/><stop offset="0.9990" stop-color="#0000d3"/></linearGradient>
<linearGradient id="h121"><stop offset="0.0010" stop-color="#0025ff"/><stop offset="0.0192" stop-color="#002dff"/><stop offset="0.0434" stop-color="#000cff"/><stop offset="0.0556" stop-color="#001fff"/><stop offset="0.0758" stop-color="#0062ff"/><stop offset="0.0859" stop-color="#0060ff"/><stop offset="0.1121" stop-color="#000cff"/><stop offset="0.1242" stop-color="#000aff"/><stop offset="0.1525" stop-color="#003dff"/><stop offset="0.1970" stop-color="#002eff"/><stop offset="0.2414" stop-color="#0056ff"/><stop offset="0.2677" stop-color="#0040ff"/><stop offset="0.3040" stop-color="#0000fb"/><stop offset="0.3444" stop-color="#0000c9"/><stop offset="0.4172" stop-color="#0000bc"/><stop offset="0.6394" stop-color="#0000b7"/><stop offset="0.9485" stop-color="#0000d1"/><stop offset="0.9990" stop-color="#0000d1"/></linearGradient>
<linearGradient id="h122"><stop offset="0.0010" stop-color="#002eff"/><stop offset="0.0131" stop-color="#0039ff"/><stop offset="0.0354" stop-color="#000cff"/><stop offset="0.0535" stop-color="#001fff"/><stop offset="0.0778" stop-color="#0057ff"/><stop offset="0.0899" stop-color="#004fff"/><stop offset="0.1141" stop-color="#000bff"/><stop offset="0.1263" stop-color="#000fff"/><stop offset="0.1545" stop-color="#0053ff"/><stop offset="0.1747" stop-color="#0050ff"/><stop offset="0.2030" stop-color="#0040ff"/><stop offset="0.2495" stop-color="#0062ff"/><stop offset="0.2778" stop-color="#0045ff"/><stop offset="0.3162" stop-color="#0000fb"/><stop offset="0.3566" stop-color="#0000cd"/><stop offset="0.4313" stop-color="#0000c3"/><stop offset="0.7141" stop-color="#0000c5"/><stop offset="0.9990" stop-color="#0000cf"/></linearGradient>
<linearGradient id="h123"><stop offset="0.0010" stop-color="#0035ff"/><stop offset="0.0131" stop-color="#0040ff"/><stop offset="0.0313" stop-color="#0009ff"/><stop offset="0.0455" stop-color="#0017ff"/><stop offset="0.0818" stop-color="#0048ff"/><stop offset="0.0980" stop-color="#0033ff"/><stop offset="0.1162" stop-color="#000dff"/><stop offset="0.1303" stop-color="#001cff"/><stop offset="0.1566" stop-color="#0068ff"/><stop offset="0.1727" stop-color="#006eff"/><stop offset="0.2071" stop-color="#004fff"/><stop offset="0.2576" stop-color="#006bff"/><stop offset="0.2859" stop-color="#004cff"/><stop offset="0.3283" stop-color="#0000fb"/><stop offset="0.3687" stop-color="#0000d1"/><stop offset="0.4475" stop-color="#0000ca"/><stop offset="0.9990" stop-color="#0000ce"/></linearGradient>
<linearGradient id="h124"><stop offset="0.0010" stop-color="#0039ff"/><stop offset="0.0111" stop-color="#0048ff"/><stop offset="0.0212" stop-color="#0023ff"/><stop offset="0.0313" stop-color="#0004ff"/><stop offset="0.0434" stop-color="#0019ff"/><stop offset="0.0596" stop-color="#0032ff"/><stop offset="0.0960" stop-color="#0030ff"/><stop offset="0.1202" stop-color="#0013ff"/><stop offset="0.1343" stop-color="#002cff"/><stop offset="0.1586" stop-color="#007bff"/><stop offset="0.1747" stop-color="#0085ff"/><stop offset="0.2131" stop-color="#005bff"/><stop offset="0.2657" stop-color="#0072ff"/><stop offset="0.2960" stop-color="#004eff"/><stop offset="0.3404" stop-color="#0000fb"/><stop offset="0.3828" stop-color="#0000d4"/><stop offset="0.4798" stop-color="#0000d5"/><stop offset="0.9990" stop-color="#0000ce"/></linearGradient>
<linearGradient id="h125"><stop offset="0.0010" stop-color="#003aff"/><stop offset="0.0111" stop-color="#0049ff"/><stop offset="0.0212" stop-color="#0022ff"/><stop offset="0.0293" stop-color="#0005ff"/><stop offset="0.0374" stop-color="#000bff"/><stop offset="0.0535" stop-color="#0037ff"/><stop offset="0.0859" stop-color="#0023ff"/><stop offset="0.1263" stop-color="#001fff"/><stop offset="0.1444" stop-color="#0054ff"/><stop offset="0.1626" stop-color="#0090ff"/><stop offset="0.1788" stop-color="#0099ff"/><stop offset="0.2172" stop-color="#0064ff"/><stop offset="0.2737" stop-color="#0077ff"/><stop offset="0.3061" stop-color="#004eff"/><stop offset="0.3505" stop-color="#0000fd"/><stop offset="0.3929" stop-color="#0000d8"/><stop offset="0.4859" stop-color="#0000dc"/><stop offset="0.8374" stop-color="#0000d6"/><stop offset="0.9990" stop-color="#0000cf"/></linearGradient>
<linearGradient id="h126"><stop offset="0.0010" stop-color="#0039ff"/><stop offset="0.0111" stop-color="#0046ff"/><stop offset="0.0293" stop-color="#0005ff"/><stop offset="0.0374" stop-color="#000fff"/><stop offset="0.0515" stop-color="#003cff"/><stop offset="0.0616" stop-color="#0036ff"/><stop offset="0.0798" stop-color="#0011ff"/><stop offset="0.1303" stop-color="#002eff"/><stop offset="0.1505" stop-color="#006eff"/><stop offset="0.1687" stop-color="#00a4ff"/><stop offset="0.1848" stop-color="#00a6ff"/><stop offset="0.2212" stop-color="#006aff"/><stop offset="0.2515" stop-color="#0072ff"/><stop offset="0.2838" stop-color="#0078ff"/><stop offset="0.3202" stop-color="#0045ff"/><stop offset="0.3626" stop-color="#0000fc"/><stop offset="0.4071" stop-color="#0000db"/><stop offset="0.6192" stop-color="#0000e9"/><stop offset="0.9990" stop-color="#0000d0"/></linearGradient>
<linearGradient id="h127"><stop offset="0.0010" stop-color="#0036ff"/><stop offset="0.0131" stop-color="#003bff"/><stop offset="0.0293" stop-color="#0009ff"/><stop offset="0.0394" stop-color="#001bff"/><stop offset="0.0515" stop-color="#0041ff"/><stop offset="0.0616" stop-color="#0038ff"/><stop offset="0.0798" stop-color="#0003ff"/><stop offset="0.0939" stop-color="#000aff"/><stop offset="0.1202" stop-color="#002dff"/><stop offset="0.1384" stop-color="#0046ff"/><stop offset="0.1707" stop-color="#00acff"/><stop offset="0.1869" stop-color="#00b2ff"/><stop offset="0.2273" stop-color="#006bff"/><stop offset="0.2576" stop-color="#0072ff"/><stop offset="0.2899" stop-color="#0078ff"/><stop offset="0.3263" stop-color="#004aff"/><stop offset="0.3727" stop-color="#0000fd"/><stop offset="0.4172" stop-color="#0000df"/><stop offset="0.6152" stop-color="#0000f4"/><stop offset="0.9990" stop-color="#0000d2"/></linearGradient>
<linearGradient id="h128"><stop offset="0.0010" stop-color="#0033ff"/><stop offset="0.0131" stop-color="#0031ff"/><stop offset="0.0293" stop-color="#000fff"/><stop offset="0.0414" stop-color="#0029ff"/><stop offset="0.0535" stop-color="#0045ff"/><stop offset="0.0636" stop-color="#0032ff"/><stop offset="0.0778" stop-color="#0000fd"/><stop offset="0.0899" stop-color="#0000f6"/><stop offset="0.1000" stop-color="#000eff"/><stop offset="0.1202" stop-color="#0036ff"/><stop offset="0.1424" stop-color="#0053ff"/><stop offset="0.1747" stop-color="#00b3ff"/><stop offset="0.1909" stop-color="#00b7ff"/><stop offset="0.2333" stop-color="#0069ff"/><stop offset="0.2636" stop-color="#006fff"/><stop offset="0.2980" stop-color="#0076ff"/><stop offset="0.3364" stop-color="#0045ff"/><stop offset="0.3828" stop-color="#0000fd"/><stop offset="0.4293" stop-color="#0000e2"/><stop offset="0.6152" stop-color="#0000fd"/><stop offset="0.9990" stop-color="#0000d5"/></linearGradient>
<linearGradient id="h129"><stop offset="0.0010" stop-color="#002fff"/><stop offset="0.0293" stop-color="#0017ff"/><stop offset="0.0535" stop-color="#0044ff"/><stop offset="0.0636" stop-color="#0030ff"/><stop offset="0.0758" stop-color="#0000ff"/><stop offset="0.0859" stop-color="#0000eb"/><stop offset="0.1000" stop-color="#0006ff"/><stop offset="0.1202" stop-color="#003eff"/><stop offset="0.1485" stop-color="#0061ff"/><stop offset="0.1788" stop-color="#00b4ff"/><stop offset="0.1949" stop-color="#00b7ff"/><stop offset="0.2374" stop-color="#0065ff"/><stop offset="0.2636" stop-color="#0065ff"/><stop offset="0.3020" stop-color="#0073ff"/><stop offset="0.3384" stop-color="#004dff"/><stop offset="0.3909" stop-color="#0000fe"/><stop offset="0.4374" stop-color="#0000e4"/><stop offset="0.5848" stop-color="#0005ff"/><stop offset="0.7687" stop-color="#0000f6"/><stop offset="0.9990" stop-color="#0000d8"/></linearGradient>
<linearGradient id="h130"><stop offset="0.0010" stop-color="#002dff"/><stop offset="0.0212" stop-color="#0016ff"/><stop offset="0.0515" stop-color="#0041ff"/><stop offset="0.0636" stop-color="#002dff"/><stop offset="0.0758" stop-color="#0000fe"/><stop offset="0.0879" stop-color="#0000e7"/><stop offset="0.1000" stop-color="#0000ff"/><stop offset="0.1202" stop-color="#0043ff"/><stop offset="0.1545" stop-color="#006aff"/><stop offset="0.1848" stop-color="#00b2ff"/><stop offset="0.2010" stop-color="#00b0ff"/><stop offset="0.2414" stop-color="#005fff"/><stop offset="0.2677" stop-color="#005cff"/><stop offset="0.3101" stop-color="#006dff"/><stop offset="0.3485" stop-color="#0046ff"/><stop offset="0.4010" stop-color="#0000fc"/><stop offset="0.4495" stop-color="#0000e6"/><stop offset="0.5687" stop-color="#0008ff"/><stop offset="0.7020" stop-color="#000aff"/><stop offset="0.8495" stop-color="#0000f1"/><stop offset="0.9990" stop-color="#0000db"/></linearGradient>
<linearGradient id="h131"><stop offset="0.0010" stop-color="#002bff"/><stop offset="0.0152" stop-color="#000eff"/><stop offset="0.0434" stop-color="#003dff"/><stop offset="0.0596" stop-color="#0032ff"/><stop offset="0.0778" stop-color="#0000f9"/><stop offset="0.0899" stop-color="#0000e7"/><stop offset="0.1020" stop-color="#0003ff"/><stop offset="0.1222" stop-color="#004bff"/><stop offset="0.1444" stop-color="#005bff"/><stop offset="0.1646" stop-color="#0075ff"/><stop offset="0.1909" stop-color="#00aaff"/><stop offset="0.2091" stop-color="#00a1ff"/><stop offset="0.2475" stop-color="#0054ff"/><stop offset="0.2737" stop-color="#0052ff"/><stop offset="0.3162" stop-color="#0066ff"/><stop offset="0.3545" stop-color="#0044ff"/><stop offset="0.4071" stop-color="#0000fd"/><stop offset="0.4556" stop-color="#0000e7"/><stop offset="0.5586" stop-color="#0007ff"/><stop offset="0.6758" stop-color="#0014ff"/><stop offset="0.8535" stop-color="#0000f7"/><stop offset="0.9990" stop-color="#0000df"/></linearGradient>
<linearGradient id="h132"><stop offset="0.0010" stop-color="#002aff"/><stop offset="0.0131" stop-color="#0007ff"/><stop offset="0.0212" stop-color="#0013ff"/><stop offset="0.0354" stop-color="#003fff"/><stop offset="0.0515" stop-color="#0036ff"/><stop offset="0.0778" stop-color="#0000fc"/><stop offset="0.0919" stop-color="#0000ec"/><stop offset="0.1040" stop-color="#0008ff"/><stop offset="0.1242" stop-color="#0051ff"/><stop offset="0.1404" stop-color="#005eff"/><stop offset="0.1626" stop-color="#0063ff"/><stop offset="0.1970" stop-color="#009eff"/><stop offset="0.2152" stop-color="#0091ff"/><stop offset="0.2515" stop-color="#0049ff"/><stop offset="0.2778" stop-color="#0046ff"/><stop offset="0.3242" stop-color="#005eff"/><stop offset="0.3626" stop-color="#003eff"/><stop offset="0.4152" stop-color="#0000fc"/><stop offset="0.4657" stop-color="#0000e7"/><stop offset="0.5566" stop-color="#0007ff"/><stop offset="0.6677" stop-color="#001cff"/><stop offset="0.8859" stop-color="#0000f8"/><stop offset="0.9990" stop-color="#0000e4"/></linearGradient>
<linearGradient id="h133"><stop offset="0.0010" stop-color="#0029ff"/><stop offset="0.0131" stop-color="#0002ff"/><stop offset="0.0212" stop-color="#0013ff"/><stop offset="0.0333" stop-color="#0043ff"/><stop offset="0.0434" stop-color="#0041ff"/><stop offset="0.0798" stop-color="#0000fe"/><stop offset="0.0960" stop-color="#0000f6"/><stop offset="0.1040" stop-color="#0009ff"/><stop offset="0.1283" stop-color="#0059ff"/><stop offset="0.1444" stop-color="#005fff"/><stop offset="0.1667" stop-color="#005aff"/><stop offset="0.2030" stop-color="#008fff"/><stop offset="0.2232" stop-color="#007cff"/><stop offset="0.2576" stop-color="#003bff"/><stop offset="0.2838" stop-color="#0039ff"/><stop offset="0.3303" stop-color="#0054ff"/><stop offset="0.3687" stop-color="#0039ff"/><stop offset="0.4212" stop-color="#0000fb"/><stop offset="0.4717" stop-color="#0000e7"/><stop offset="0.5586" stop-color="#0007ff"/><stop offset="0.6677" stop-color="#0021ff"/><stop offset="0.8717" stop-color="#0003ff"/><stop offset="0.9990" stop-color="#0000e9"/></linearGradient>
<linearGradient id="h134"><stop offset="0.0010" stop-color="#0028ff"/><stop offset="0.0131" stop-color="#0001ff"/><stop offset="0.0212" stop-color="#0015ff"/><stop offset="0.0333" stop-color="#0048ff"/><stop offset="0.0434" stop-color="#0041ff"/><stop offset="0.0616" stop-color="#0013ff"/><stop offset="0.0980" stop-color="#0002ff"/><stop offset="0.1141" stop-color="#002bff"/><stop offset="0.1323" stop-color="#005eff"/><stop offset="0.1505" stop-color="#005aff"/><stop offset="0.1727" stop-color="#004fff"/><stop offset="0.2091" stop-color="#007dff"/><stop offset="0.2293" stop-color="#0068ff"/><stop offset="0.2636" stop-color="#002cff"/><stop offset="0.2919" stop-color="#002eff"/><stop offset="0.3384" stop-color="#004aff"/><stop offset="0.3788" stop-color="#002fff"/><stop offset="0.4253" stop-color="#0000fa"/><stop offset="0.4758" stop-color="#0000e6"/><stop offset="0.5626" stop-color="#0007ff"/><stop offset="0.6717" stop-color="#0026ff"/><stop offset="0.8394" stop-color="#0011ff"/><stop offset="0.9566" stop-color="#0000f6"/><stop offset="0.9990" stop-color="#0000ee"/></linearGradient>
<linearGradient id="h135"><stop offset="0.0010" stop-color="#0025ff"/><stop offset="0.0131" stop-color="#0003ff"/><stop offset="0.0212" stop-color="#0018ff"/><stop offset="0.0333" stop-color="#0049ff"/><stop offset="0.0414" stop-color="#0044ff"/><stop offset="0.0596" stop-color="#000dff"/><stop offset="0.1040" stop-color="#0014ff"/><stop offset="0.1364" stop-color="#0060ff"/><stop offset="0.1545" stop-color="#0054ff"/><stop offset="0.1747" stop-color="#0040ff"/><stop offset="0.2152" stop-color="#0069ff"/><stop offset="0.2374" stop-color="#0050ff"/><stop offset="0.2697" stop-color="#001dff"/><stop offset="0.2980" stop-color="#0020ff"/><stop offset="0.3465" stop-color="#003fff"/><stop offset="0.3889" stop-color="#0024ff"/><stop offset="0.4293" stop-color="#0000f9"/><stop offset="0.4818" stop-color="#0000e4"/><stop offset="0.5687" stop-color="#0006ff"/><stop offset="0.6758" stop-color="#0029ff"/><stop offset="0.8253" stop-color="#001bff"/><stop offset="0.9768" stop-color="#0000f8"/><stop offset="0.9990" stop-color="#0000f3"/></linearGradient>
<linearGradient id="h136"><stop offset="0.0010" stop-color="#0022ff"/><stop offset="0.0131" stop-color="#0009ff"/><stop offset="0.0232" stop-color="#0025ff"/><stop offset="0.0333" stop-color="#0046ff"/><stop offset="0.0434" stop-color="#0039ff"/><stop offset="0.0596" stop-color="#0005ff"/><stop offset="0.0737" stop-color="#000fff"/><stop offset="0.0939" stop-color="#0020ff"/><stop offset="0.1121" stop-color="#0028ff"/><stop offset="0.1384" stop-color="#005dff"/><stop offset="0.1545" stop-color="#0053ff"/><stop offset="0.1788" stop-color="#0032ff"/><stop offset="0.2232" stop-color="#0054ff"/><stop offset="0.2535" stop-color="#002aff"/><stop offset="0.2818" stop-color="#000bff"/><stop offset="0.3202" stop-color="#0021ff"/><stop offset="0.3586" stop-color="#0034ff"/><stop offset="0.4091" stop-color="#000fff"/><stop offset="0.4354" stop-color="#0000f6"/><stop offset="0.4879" stop-color="#0000e2"/><stop offset="0.5768" stop-color="#0006ff"/><stop offset="0.6838" stop-color="#002cff"/><stop offset="0.8232" stop-color="#0022ff"/><stop offset="0.9990" stop-color="#0000f9"/></linearGradient>
<linearGradient id="h137"><stop offset="0.0010" stop-color="#001dff"/><stop offset="0.0152" stop-color="#0014ff"/><stop offset="0.0333" stop-color="#0041ff"/><stop offset="0.0434" stop-color="#0031ff"/><stop offset="0.0596" stop-color="#0000ff"/><stop offset="0.0717" stop-color="#000cff"/><stop offset="0.0899" stop-color="#0031ff"/><stop offset="0.1182" stop-color="#0035ff"/><stop offset="0.1424" stop-color="#005aff"/><stop offset="0.1606" stop-color="#0046ff"/><stop offset="0.1828" stop-color="#0022ff"/><stop offset="0.2091" stop-color="#0036ff"/><stop offset="0.2313" stop-color="#003fff"/><stop offset="0.2818" stop-color="#0000fe"/><stop offset="0.3141" stop-color="#0009ff"/><stop offset="0.3606" stop-color="#0029ff"/><stop offset="0.4051" stop-color="#0013ff"/><stop offset="0.4354" stop-color="#0000f7"/><stop offset="0.4899" stop-color="#0000df"/><stop offset="0.5687" stop-color="#0000fb"/><stop offset="0.6939" stop-color="#002fff"/><stop offset="0.8293" stop-color="#0027ff"/><stop offset="0.9990" stop-color="#0000fe"/></linearGradient>
<linearGradient id="h138"><stop offset="0.0010" stop-color="#0018ff"/><stop offset="0.0172" stop-color="#0024ff"/><stop offset="0.0333" stop-color="#003aff"/><stop offset="0.0475" stop-color="#001bff"/><stop offset="0.0596" stop-color="#0000fd"/><stop offset="0.0697" stop-color="#0007ff"/><stop offset="0.0899" stop-color="#0041ff"/><stop offset="0.1081" stop-color="#003dff"/><stop offset="0.1263" stop-color="#0040ff"/><stop offset="0.1485" stop-color="#0054ff"/><stop offset="0.1707" stop-color="#002eff"/><stop offset="0.1909" stop-color="#0011ff"/><stop offset="0.2354" stop-color="#002cff"/><stop offset="0.2758" stop-color="#0000f9"/><stop offset="0.3040" stop-color="#0000ef"/><stop offset="0.3323" stop-color="#0008ff"/><stop offset="0.3747" stop-color="#001eff"/><stop offset="0.4333" stop-color="#0000f8"/><stop offset="0.4919" stop-color="#0000db"/><stop offset="0.5646" stop-color="#0000f3"/><stop offset="0.6071" stop-color="#000cff"/><stop offset="0.7121" stop-color="#0032ff"/><stop offset="0.8515" stop-color="#0028ff"/><stop offset="0.9990" stop-color="#0005ff"/></linearGradient>
<linearGradient id="h139"><stop offset="0.0010" stop-color="#0013ff"/><stop offset="0.0253" stop-color="#0037ff"/><stop offset="0.0434" stop-color="#001eff"/><stop offset="0.0596" stop-color="#0000fc"/><stop offset="0.0697" stop-color="#0009ff"/><stop offset="0.0919" stop-color="#0052ff"/><stop offset="0.1061" stop-color="#0051ff"/><stop offset="0.1263" stop-color="#003fff"/><stop offset="0.1525" stop-color="#004dff"/><stop offset="0.1768" stop-color="#001eff"/><stop offset="0.1970" stop-color="#0002ff"/><stop offset="0.2414" stop-color="#0019ff"/><stop offset="0.2697" stop-color="#0000f9"/><stop offset="0.3000" stop-color="#0000e1"/><stop offset="0.3505" stop-color="#0006ff"/><stop offset="0.3909" stop-color="#0012ff"/><stop offset="0.4333" stop-color="#0000f7"/><stop offset="0.4960" stop-color="#0000d8"/><stop offset="0.5667" stop-color="#0000ed"/><stop offset="0.6111" stop-color="#0009ff"/><stop offset="0.7162" stop-color="#0033ff"/><stop offset="0.8475" stop-color="#002eff"/><stop offset="0.9990" stop-color="#000bff"/></linearGradient>
<linearGradient id="h140"><stop offset="0.0010" stop-color="#000fff"/><stop offset="0.0192" stop-color="#003eff"/><stop offset="0.0374" stop-color="#0020ff"/><stop offset="0.0596" stop-color="#0000ff"/><stop offset="0.0717" stop-color="#0013ff"/><stop offset="0.0939" stop-color="#0062ff"/><stop offset="0.1061" stop-color="#0063ff"/><stop offset="0.1303" stop-color="#0040ff"/><stop offset="0.1586" stop-color="#0043ff"/><stop offset="0.1909" stop-color="#0000fd"/><stop offset="0.2111" stop-color="#0000f4"/><stop offset="0.2414" stop-color="#0009ff"/><stop offset="0.2657" stop-color="#0000f6"/><stop offset="0.3020" stop-color="#0000d5"/><stop offset="0.3404" stop-color="#0000ea"/><stop offset="0.3727" stop-color="#0005ff"/><stop offset="0.4293" stop-color="#0000f7"/><stop offset="0.5000" stop-color="#0000d4"/><stop offset="0.5687" stop-color="#0000e7"/><stop offset="0.6192" stop-color="#0007ff"/><stop offset="0.7263" stop-color="#0034ff"/><stop offset="0.8535" stop-color="#0032ff"/><stop offset="0.9990" stop-color="#0010ff"/></linearGradient>
<linearGradient id="h141"><stop offset="0.0010" stop-color="#000cff"/><stop offset="0.0172" stop-color="#0046ff"/><stop offset="0.0273" stop-color="#0036ff"/><stop offset="0.0434" stop-color="#000aff"/><stop offset="0.0636" stop-color="#0008ff"/><stop offset="0.0778" stop-color="#002dff"/><stop offset="0.0960" stop-color="#006eff"/><stop offset="0.1081" stop-color="#006fff"/><stop offset="0.1343" stop-color="#003eff"/><stop offset="0.1646" stop-color="#0037ff"/><stop offset="0.1909" stop-color="#0000fa"/><stop offset="0.2111" stop-color="#0000e4"/><stop offset="0.2535" stop-color="#0000f7"/><stop offset="0.3081" stop-color="#0000c9"/><stop offset="0.3485" stop-color="#0000e1"/><stop offset="0.3949" stop-color="#0000fd"/><stop offset="0.4616" stop-color="#0000e0"/><stop offset="0.5242" stop-color="#0000d0"/><stop offset="0.6131" stop-color="#0000fb"/><stop offset="0.7384" stop-color="#0035ff"/><stop offset="0.8657" stop-color="#0034ff"/><stop offset="0.9990" stop-color="#0015ff"/></linearGradient>
<linearGradient id="h142"><stop offset="0.0010" stop-color="#000cff"/><stop offset="0.0152" stop-color="#004aff"/><stop offset="0.0232" stop-color="#0045ff"/><stop offset="0.0394" stop-color="#0007ff"/><stop offset="0.0556" stop-color="#0007ff"/><stop offset="0.0758" stop-color="#002aff"/><stop offset="0.0980" stop-color="#0077ff"/><stop offset="0.1101" stop-color="#0078ff"/><stop offset="0.1364" stop-color="#003cff"/><stop offset="0.1687" stop-color="#002eff"/><stop offset="0.1909" stop-color="#0000fa"/><stop offset="0.2111" stop-color="#0000d9"/><stop offset="0.2616" stop-color="#0000e7"/><stop offset="0.3141" stop-color="#0000bf"/><stop offset="0.3566" stop-color="#0000d8"/><stop offset="0.4051" stop-color="#0000f4"/><stop offset="0.5202" stop-color="#0000cb"/><stop offset="0.5949" stop-color="#0000e7"/><stop offset="0.6434" stop-color="#0008ff"/><stop offset="0.7505" stop-color="#0036ff"/><stop offset="0.8778" stop-color="#0035ff"/><stop offset="0.9990" stop-color="#001bff"/></linearGradient>
<linearGradient id="h143"><stop offset="0.0010" stop-color="#000dff"/><stop offset="0.0152" stop-color="#004cff"/><stop offset="0.0212" stop-color="#004bff"/><stop offset="0.0394" stop-color="#0001ff"/><stop offset="0.0535" stop-color="#0008ff"/><stop offset="0.0818" stop-color="#0042ff"/><stop offset="0.1020" stop-color="#007fff"/><stop offset="0.1141" stop-color="#007aff"/><stop offset="0.1404" stop-color="#0037ff"/><stop offset="0.1747" stop-color="#0022ff"/><stop offset="0.1909" stop-color="#0000fc"/><stop offset="0.2131" stop-color="#0000d1"/><stop offset="0.2414" stop-color="#0000d7"/><stop offset="0.2717" stop-color="#0000d8"/><stop offset="0.3202" stop-color="#0000b5"/><stop offset="0.3646" stop-color="#0000d0"/><stop offset="0.4131" stop-color="#0000ea"/><stop offset="0.5303" stop-color="#0000c7"/><stop offset="0.6091" stop-color="#0000e8"/><stop offset="0.6556" stop-color="#0008ff"/><stop offset="0.7626" stop-color="#0037ff"/><stop offset="0.8899" stop-color="#0037ff"/><stop offset="0.9990" stop-color="#0020ff"/></linearGradient>
<linearGradient id="h144"><stop offset="0.0010" stop-color="#0012ff"/><stop offset="0.0152" stop-color="#004bff"/><stop offset="0.0232" stop-color="#0041ff"/><stop offset="0.0374" stop-color="#0001ff"/><stop offset="0.0475" stop-color="#0000fd"/><stop offset="0.0899" stop-color="#005aff"/><stop offset="0.1061" stop-color="#0081ff"/><stop offset="0.1182" stop-color="#0078ff"/><stop offset="0.1444" stop-color="#0030ff"/><stop offset="0.1808" stop-color="#0017ff"/><stop offset="0.1929" stop-color="#0000fa"/><stop offset="0.2172" stop-color="#0000c9"/><stop offset="0.2434" stop-color="#0000ca"/><stop offset="0.2758" stop-color="#0000ce"/><stop offset="0.3283" stop-color="#0000ad"/><stop offset="0.3889" stop-color="#0000d5"/><stop offset="0.4374" stop-color="#0000e0"/><stop offset="0.5343" stop-color="#0000c2"/><stop offset="0.6111" stop-color="#0000e1"/><stop offset="0.6677" stop-color="#0007ff"/><stop offset="0.7747" stop-color="#0037ff"/><stop offset="0.9020" stop-color="#0038ff"/><stop offset="0.9990" stop-color="#0024ff"/></linearGradient>
<linearGradient id="h145"><stop offset="0.0010" stop-color="#001aff"/><stop offset="0.0152" stop-color="#0045ff"/><stop offset="0.0232" stop-color="#0039ff"/><stop offset="0.0374" stop-color="#0000ff"/><stop offset="0.0495" stop-color="#0005ff"/><stop offset="0.0697" stop-color="#003bff"/><stop offset="0.0939" stop-color="#005fff"/><stop offset="0.1101" stop-color="#007fff"/><stop offset="0.1222" stop-color="#0071ff"/><stop offset="0.1485" stop-color="#0028ff"/><stop offset="0.1848" stop-color="#000fff"/><stop offset="0.1970" stop-color="#0000f4"/><stop offset="0.2232" stop-color="#0000c0"/><stop offset="0.2556" stop-color="#0000c4"/><stop offset="0.2899" stop-color="#0000bf"/><stop offset="0.3364" stop-color="#0000a6"/><stop offset="0.4273" stop-color="#0000d9"/><stop offset="0.5485" stop-color="#0000be"/><stop offset="0.6333" stop-color="#0000e7"/><stop offset="0.6798" stop-color="#0007ff"/><stop offset="0.7869" stop-color="#0037ff"/><stop offset="0.9141" stop-color="#0039ff"/><stop offset="0.9990" stop-color="#0028ff"/></linearGradient>
<linearGradient id="h146"><stop offset="0.0010" stop-color="#0024ff"/><stop offset="0.0152" stop-color="#003dff"/><stop offset="0.0273" stop-color="#0021ff"/><stop offset="0.0394" stop-color="#0000fd"/><stop offset="0.0495" stop-color="#000aff"/><stop offset="0.0677" stop-color="#0043ff"/><stop offset="0.0960" stop-color="#005bff"/><stop offset="0.1141" stop-color="#0078ff"/><stop offset="0.1283" stop-color="#0063ff"/><stop offset="0.1525" stop-color="#0020ff"/><stop offset="0.1889" stop-color="#0008ff"/><stop offset="0.2010" stop-color="#0000ee"/><stop offset="0.2273" stop-color="#0000bb"/><stop offset="0.2576" stop-color="#0000bb"/><stop offset="0.2939" stop-color="#0000b8"/><stop offset="0.3424" stop-color="#00009f"/><stop offset="0.4354" stop-color="#0000d1"/><stop offset="0.5566" stop-color="#0000ba"/><stop offset="0.6434" stop-color="#0000e5"/><stop offset="0.6919" stop-color="#0007ff"/><stop offset="0.8010" stop-color="#0037ff"/><stop offset="0.9303" stop-color="#0039ff"/><stop offset="0.9990" stop-color="#002cff"/></linearGradient>
<linearGradient id="h147"><stop offset="0.0010" stop-color="#0030ff"/><stop offset="0.0172" stop-color="#0030ff"/><stop offset="0.0394" stop-color="#0003ff"/><stop offset="0.0515" stop-color="#0018ff"/><stop offset="0.0697" stop-color="#0050ff"/><stop offset="0.1000" stop-color="#0057ff"/><stop offset="0.1202" stop-color="#006dff"/><stop offset="0.1364" stop-color="#004bff"/><stop offset="0.1566" stop-color="#0017ff"/><stop offset="0.1970" stop-color="#0000fa"/><stop offset="0.2313" stop-color="#0000b6"/><stop offset="0.2616" stop-color="#0000b3"/><stop offset="0.3000" stop-color="#0000b1"/><stop offset="0.3505" stop-color="#00009a"/><stop offset="0.4434" stop-color="#0000c9"/><stop offset="0.5646" stop-color="#0000b6"/><stop offset="0.6535" stop-color="#0000e3"/><stop offset="0.7040" stop-color="#0006ff"/><stop offset="0.8131" stop-color="#0037ff"/><stop offset="0.9424" stop-color="#0039ff"/><stop offset="0.9990" stop-color="#0030ff"/></linearGradient>
<linearGradient id="h148"><stop offset="0.0010" stop-color="#004aff"/><stop offset="0.0293" stop-color="#000eff"/><stop offset="0.0455" stop-color="#0011ff"/><stop offset="0.0697" stop-color="#0058ff"/><stop offset="0.0859" stop-color="#0053ff"/><stop offset="0.1020" stop-color="#004dff"/><stop offset="0.1242" stop-color="#0060ff"/><stop offset="0.1404" stop-color="#003fff"/><stop offset="0.1606" stop-color="#000dff"/><stop offset="0.1970" stop-color="#0000fb"/><stop offset="0.2394" stop-color="#0000af"/><stop offset="0.3061" stop-color="#0000aa"/><stop offset="0.3566" stop-color="#000095"/><stop offset="0.4515" stop-color="#0000c3"/><stop offset="0.5727" stop-color="#0000b2"/><stop offset="0.6636" stop-color="#0000e1"/><stop offset="0.7182" stop-color="#0007ff"/><stop offset="0.8273" stop-color="#0036ff"/><stop offset="0.9586" stop-color="#0039ff"/><stop offset="0.9990" stop-color="#0032ff"/></linearGradient>
<linearGradient id="h149"><stop offset="0.0010" stop-color="#2dffd2"/><stop offset="0.0030" stop-color="#00c8ff"/><stop offset="0.0051" stop-color="#0080ff"/><stop offset="0.0071" stop-color="#005bff"/><stop offset="0.0111" stop-color="#0033ff"/><stop offset="0.0212" stop-color="#000eff"/><stop offset="0.0354" stop-color="#000eff"/><stop offset="0.0556" stop-color="#0037ff"/><stop offset="0.0717" stop-color="#0060ff"/><stop offset="0.0859" stop-color="#0056ff"/><stop offset="0.1040" stop-color="#0041ff"/><stop offset="0.1283" stop-color="#0051ff"/><stop offset="0.1465" stop-color="#002cff"/><stop offset="0.1667" stop-color="#0001ff"/><stop offset="0.2030" stop-color="#0000f2"/><stop offset="0.2434" stop-color="#0000ac"/><stop offset="0.2838" stop-color="#0000ac"/><stop offset="0.3667" stop-color="#000091"/><stop offset="0.4596" stop-color="#0000bc"/><stop offset="0.5808" stop-color="#0000af"/><stop offset="0.6737" stop-color="#0000df"/><stop offset="0.7303" stop-color="#0006ff"/><stop offset="0.8414" stop-color="#0036ff"/><stop offset="0.9747" stop-color="#0038ff"/><stop offset="0.9990" stop-color="#0035ff"/></linearGradient>
<linearGradient id="h150"><stop offset="0.0010" stop-color="#800000"/><stop offset="0.0030" stop-color="#ffad00"/><stop offset="0.0051" stop-color="#0dfff2"/><stop offset="0.0071" stop-color="#0095ff"/><stop offset="0.0091" stop-color="#0059ff"/><stop offset="0.0111" stop-color="#0038ff"/><stop offset="0.0172" stop-color="#000fff"/><stop offset="0.0253" stop-color="#0001ff"/><stop offset="0.0737" stop-color="#0065ff"/><stop offset="0.0879" stop-color="#0055ff"/><stop offset="0.1061" stop-color="#0034ff"/><stop offset="0.1343" stop-color="#0040ff"/><stop offset="0.1667" stop-color="#0000fb"/><stop offset="0.2091" stop-color="#0000eb"/><stop offset="0.2495" stop-color="#0000a8"/><stop offset="0.3222" stop-color="#00009f"/><stop offset="0.3727" stop-color="#00008d"/><stop offset="0.4697" stop-color="#0000b6"/><stop offset="0.5889" stop-color="#0000ab"/><stop offset="0.6838" stop-color="#0000dc"/><stop offset="0.7444" stop-color="#0006ff"/><stop offset="0.8556" stop-color="#0035ff"/><stop offset="0.9909" stop-color="#0038ff"/><stop offset="0.9990" stop-color="#0037ff"/></linearGradient>
<linearGradient id="h151"><stop offset="0.0010" stop-color="#800000"/><stop offset="0.0030" stop-color="#fff500"/><stop offset="0.0051" stop-color="#00f6ff"/><stop offset="0.0071" stop-color="#008cff"/><stop offset="0.0091" stop-color="#0054ff"/><stop offset="0.0111" stop-color="#0033ff"/><stop offset="0.0172" stop-color="#0008ff"/><stop offset="0.0273" stop-color="#0000fe"/><stop offset="0.0495" stop-color="#003fff"/><stop offset="0.0758" stop-color="#0066ff"/><stop offset="0.0899" stop-color="#0051ff"/><stop offset="0.1081" stop-color="#0028ff"/><stop offset="0.1384" stop-color="#0031ff"/><stop offset="0.1646" stop-color="#0000fb"/><stop offset="0.1848" stop-color="#0000ec"/><stop offset="0.2131" stop-color="#0000e6"/><stop offset="0.2556" stop-color="#0000a5"/><stop offset="0.3283" stop-color="#00009b"/><stop offset="0.3808" stop-color="#00008b"/><stop offset="0.4778" stop-color="#0000b1"/><stop offset="0.5970" stop-color="#0000a8"/><stop offset="0.6939" stop-color="#0000da"/><stop offset="0.7566" stop-color="#0006ff"/><stop offset="0.8697" stop-color="#0035ff"/><stop offset="0.9990" stop-color="#0038ff"/></linearGradient>
<linearGradient id="h152"><stop offset="0.0010" stop-color="#00e1ff"/><stop offset="0.0051" stop-color="#0072ff"/><stop offset="0.0091" stop-color="#003aff"/><stop offset="0.0172" stop-color="#0003ff"/><stop offset="0.0253" stop-color="#0000f9"/><stop offset="0.0333" stop-color="#0017ff"/><stop offset="0.0475" stop-color="#0048ff"/><stop offset="0.0798" stop-color="#0063ff"/><stop offset="0.0960" stop-color="#0040ff"/><stop offset="0.1121" stop-color="#0019ff"/><stop offset="0.1444" stop-color="#0020ff"/><stop offset="0.1646" stop-color="#0000f8"/><stop offset="0.1848" stop-color="#0000e4"/><stop offset="0.2172" stop-color="#0000e2"/><stop offset="0.2616" stop-color="#0000a2"/><stop offset="0.3364" stop-color="#000097"/><stop offset="0.3889" stop-color="#000088"/><stop offset="0.4879" stop-color="#0000ac"/><stop offset="0.6071" stop-color="#0000a5"/><stop offset="0.7101" stop-color="#0000dd"/><stop offset="0.7707" stop-color="#0006ff"/><stop offset="0.8859" stop-color="#0034ff"/><stop offset="0.9990" stop-color="#0039ff"/></linearGradient>
<linearGradient id="h153"><stop offset="0.0010" stop-color="#0054ff"/><stop offset="0.0111" stop-color="#0020ff"/><stop offset="0.0172" stop-color="#0002ff"/><stop offset="0.0253" stop-color="#0000fb"/><stop offset="0.0354" stop-color="#0026ff"/><stop offset="0.0475" stop-color="#0053ff"/><stop offset="0.0838" stop-color="#005bff"/><stop offset="0.1020" stop-color="#002bff"/><stop offset="0.1162" stop-color="#000bff"/><stop offset="0.1485" stop-color="#0011ff"/><stop offset="0.1626" stop-color="#0000f8"/><stop offset="0.1848" stop-color="#0000dc"/><stop offset="0.2212" stop-color="#0000de"/><stop offset="0.2677" stop-color="#00009f"/><stop offset="0.3424" stop-color="#000095"/><stop offset="0.3970" stop-color="#000087"/><stop offset="0.4980" stop-color="#0000a7"/><stop offset="0.6152" stop-color="#0000a2"/><stop offset="0.7202" stop-color="#0000db"/><stop offset="0.7848" stop-color="#0006ff"/><stop offset="0.9000" stop-color="#0034ff"/><stop offset="0.9990" stop-color="#0039ff"/></linearGradient>
<linearGradient id="h154"><stop offset="0.0010" stop-color="#0042ff"/><stop offset="0.0192" stop-color="#0000fe"/><stop offset="0.0273" stop-color="#0008ff"/><stop offset="0.0455" stop-color="#0057ff"/><stop offset="0.0576" stop-color="#0060ff"/><stop offset="0.0899" stop-color="#004cff"/><stop offset="0.1182" stop-color="#0000fe"/><stop offset="0.1545" stop-color="#0001ff"/><stop offset="0.1869" stop-color="#0000d5"/><stop offset="0.2253" stop-color="#0000da"/><stop offset="0.2737" stop-color="#00009d"/><stop offset="0.3485" stop-color="#000094"/><stop offset="0.4051" stop-color="#000085"/><stop offset="0.5081" stop-color="#0000a2"/><stop offset="0.6232" stop-color="#00009f"/><stop offset="0.7303" stop-color="#0000d9"/><stop offset="0.7990" stop-color="#0006ff"/><stop offset="0.9162" stop-color="#0033ff"/><stop offset="0.9990" stop-color="#0039ff"/></linearGradient>
<linearGradient id="h155"><stop offset="0.0010" stop-color="#004cff"/><stop offset="0.0131" stop-color="#000fff"/><stop offset="0.0232" stop-color="#0008ff"/><stop offset="0.0374" stop-color="#003dff"/><stop offset="0.0495" stop-color="#0064ff"/><stop offset="0.0677" stop-color="#0055ff"/><stop offset="0.0960" stop-color="#003aff"/><stop offset="0.1162" stop-color="#0000fc"/><stop offset="0.1303" stop-color="#0000ed"/><stop offset="0.1566" stop-color="#0000f6"/><stop offset="0.1909" stop-color="#0000cd"/><stop offset="0.2293" stop-color="#0000d5"/><stop offset="0.2818" stop-color="#00009b"/><stop offset="0.3545" stop-color="#000093"/><stop offset="0.4131" stop-color="#000084"/><stop offset="0.5182" stop-color="#00009e"/><stop offset="0.6313" stop-color="#00009d"/><stop offset="0.7404" stop-color="#0000d7"/><stop offset="0.8111" stop-color="#0005ff"/><stop offset="0.9303" stop-color="#0032ff"/><stop offset="0.9990" stop-color="#0038ff"/></linearGradient>
<linearGradient id="h156"><stop offset="0.0010" stop-color="#81ff7e"/><stop offset="0.0030" stop-color="#00dfff"/><stop offset="0.0051" stop-color="#0071ff"/><stop offset="0.0071" stop-color="#003fff"/><stop offset="0.0091" stop-color="#0023ff"/><stop offset="0.0131" stop-color="#000fff"/><stop offset="0.0253" stop-color="#0019ff"/><stop offset="0.0475" stop-color="#0062ff"/><stop offset="0.0596" stop-color="#0060ff"/><stop offset="0.0818" stop-color="#0040ff"/><stop offset="0.1000" stop-color="#002bff"/><stop offset="0.1162" stop-color="#0000f9"/><stop offset="0.1303" stop-color="#0000e1"/><stop offset="0.1626" stop-color="#0000e8"/><stop offset="0.1949" stop-color="#0000c6"/><stop offset="0.2354" stop-color="#0000d0"/><stop offset="0.2879" stop-color="#000099"/><stop offset="0.3606" stop-color="#000092"/><stop offset="0.4232" stop-color="#000083"/><stop offset="0.5283" stop-color="#00009b"/><stop offset="0.6414" stop-color="#00009b"/><stop offset="0.7566" stop-color="#0000d9"/><stop offset="0.8273" stop-color="#0006ff"/><stop offset="0.9485" stop-color="#0031ff"/><stop offset="0.9990" stop-color="#0036ff"/></linearGradient>
<linearGradient id="h157"><stop offset="0.0010" stop-color="#800000"/><stop offset="0.0030" stop-color="#ffb600"/><stop offset="0.0051" stop-color="#00e2ff"/><stop offset="0.0071" stop-color="#0067ff"/><stop offset="0.0091" stop-color="#0030ff"/><stop offset="0.0111" stop-color="#0018ff"/><stop offset="0.0172" stop-color="#0015ff"/><stop offset="0.0495" stop-color="#0063ff"/><stop offset="0.0616" stop-color="#005aff"/><stop offset="0.0818" stop-color="#0034ff"/><stop offset="0.1040" stop-color="#001dff"/><stop offset="0.1162" stop-color="#0000f8"/><stop offset="0.1323" stop-color="#0000d7"/><stop offset="0.1667" stop-color="#0000dd"/><stop offset="0.1990" stop-color="#0000bf"/><stop offset="0.2394" stop-color="#0000cd"/><stop offset="0.2939" stop-color="#000098"/><stop offset="0.3687" stop-color="#000090"/><stop offset="0.4313" stop-color="#000082"/><stop offset="0.5404" stop-color="#000097"/><stop offset="0.6515" stop-color="#000099"/><stop offset="0.7727" stop-color="#0000db"/><stop offset="0.8414" stop-color="#0006ff"/><stop offset="0.9646" stop-color="#0030ff"/><stop offset="0.9990" stop-color="#0034ff"/></linearGradient>
<linearGradient id="h158"><stop offset="0.0010" stop-color="#ff4a00"/><stop offset="0.0030" stop-color="#65ff9a"/><stop offset="0.0051" stop-color="#0092ff"/><stop offset="0.0071" stop-color="#0042ff"/><stop offset="0.0091" stop-color="#001fff"/><stop offset="0.0111" stop-color="#0011ff"/><stop offset="0.0212" stop-color="#002cff"/><stop offset="0.0475" stop-color="#005dff"/><stop offset="0.0616" stop-color="#0055ff"/><stop offset="0.0838" stop-color="#0026ff"/><stop offset="0.1061" stop-color="#0013ff"/><stop offset="0.1162" stop-color="#0000f8"/><stop offset="0.1343" stop-color="#0000ce"/><stop offset="0.1727" stop-color="#0000d2"/><stop offset="0.2030" stop-color="#0000b9"/><stop offset="0.2434" stop-color="#0000c9"/><stop offset="0.3000" stop-color="#000097"/><stop offset="0.3747" stop-color="#000090"/><stop offset="0.4414" stop-color="#000082"/><stop offset="0.5525" stop-color="#000094"/><stop offset="0.6616" stop-color="#000097"/><stop offset="0.7889" stop-color="#0000dd"/><stop offset="0.8556" stop-color="#0006ff"/><stop offset="0.9808" stop-color="#002fff"/><stop offset="0.9990" stop-color="#0032ff"/></linearGradient>
<linearGradient id="h159"><stop offset="0.0010" stop-color="#004eff"/><stop offset="0.0051" stop-color="#0016ff"/><stop offset="0.0091" stop-color="#0007ff"/><stop offset="0.0273" stop-color="#004cff"/><stop offset="0.0576" stop-color="#0054ff"/><stop offset="0.0859" stop-color="#0018ff"/><stop offset="0.1101" stop-color="#0006ff"/><stop offset="0.1263" stop-color="#0000db"/><stop offset="0.1424" stop-color="#0000c3"/><stop offset="0.1747" stop-color="#0000cb"/><stop offset="0.2071" stop-color="#0000b3"/><stop offset="0.2495" stop-color="#0000c4"/><stop offset="0.3061" stop-color="#000096"/><stop offset="0.3808" stop-color="#000090"/><stop offset="0.4495" stop-color="#000082"/><stop offset="0.5646" stop-color="#000091"/><stop offset="0.6717" stop-color="#000096"/><stop offset="0.8091" stop-color="#0000e2"/><stop offset="0.8697" stop-color="#0006ff"/><stop offset="0.9949" stop-color="#002eff"/><stop offset="0.9990" stop-color="#002fff"/></linearGradient>
<linearGradient id="h160"><stop offset="0.0010" stop-color="#0000f6"/><stop offset="0.0091" stop-color="#0002ff"/><stop offset="0.0253" stop-color="#0055ff"/><stop offset="0.0374" stop-color="#0059ff"/><stop offset="0.0657" stop-color="#003cff"/><stop offset="0.0879" stop-color="#000aff"/><stop offset="0.1141" stop-color="#0000f8"/><stop offset="0.1404" stop-color="#0000bf"/><stop offset="0.1808" stop-color="#0000c1"/><stop offset="0.2131" stop-color="#0000ae"/><stop offset="0.2535" stop-color="#0000c1"/><stop offset="0.3121" stop-color="#000095"/><stop offset="0.3869" stop-color="#000090"/><stop offset="0.4576" stop-color="#000081"/><stop offset="0.5788" stop-color="#00008e"/><stop offset="0.6838" stop-color="#000095"/><stop offset="0.8838" stop-color="#0006ff"/><stop offset="0.9990" stop-color="#002bff"/></linearGradient>
<linearGradient id="h161"><stop offset="0.0010" stop-color="#0000f2"/><stop offset="0.0091" stop-color="#0005ff"/><stop offset="0.0232" stop-color="#0058ff"/><stop offset="0.0313" stop-color="#0065ff"/><stop offset="0.0717" stop-color="#0024ff"/><stop offset="0.0879" stop-color="#0000fe"/><stop offset="0.1182" stop-color="#0000ed"/><stop offset="0.1444" stop-color="#0000b7"/><stop offset="0.1869" stop-color="#0000b9"/><stop offset="0.2172" stop-color="#0000a9"/><stop offset="0.2576" stop-color="#0000be"/><stop offset="0.3182" stop-color="#000095"/><stop offset="0.3929" stop-color="#000090"/><stop offset="0.4677" stop-color="#000081"/><stop offset="0.5949" stop-color="#00008b"/><stop offset="0.6980" stop-color="#000096"/><stop offset="0.8980" stop-color="#0005ff"/><stop offset="0.9990" stop-color="#0027ff"/></linearGradient>
<linearGradient id="h162"><stop offset="0.0010" stop-color="#0000f6"/><stop offset="0.0071" stop-color="#0003ff"/><stop offset="0.0232" stop-color="#005eff"/><stop offset="0.0313" stop-color="#006aff"/><stop offset="0.0576" stop-color="#0031ff"/><stop offset="0.0838" stop-color="#0000fc"/><stop offset="0.1000" stop-color="#0000eb"/><stop offset="0.1222" stop-color="#0000e3"/><stop offset="0.1485" stop-color="#0000b1"/><stop offset="0.1909" stop-color="#0000b2"/><stop offset="0.2212" stop-color="#0000a5"/><stop offset="0.2636" stop-color="#0000ba"/><stop offset="0.3242" stop-color="#000094"/><stop offset="0.3990" stop-color="#000091"/><stop offset="0.4758" stop-color="#000081"/><stop offset="0.6152" stop-color="#000089"/><stop offset="0.7162" stop-color="#000098"/><stop offset="0.9121" stop-color="#0005ff"/><stop offset="0.9990" stop-color="#0023ff"/></linearGradient>
<linearGradient id="h163"><stop offset="0.0010" stop-color="#0003ff"/><stop offset="0.0091" stop-color="#0019ff"/><stop offset="0.0232" stop-color="#0060ff"/><stop offset="0.0313" stop-color="#006aff"/><stop offset="0.0576" stop-color="#0024ff"/><stop offset="0.0818" stop-color="#0000f9"/><stop offset="0.1000" stop-color="#0000df"/><stop offset="0.1242" stop-color="#0000dc"/><stop offset="0.1545" stop-color="#0000aa"/><stop offset="0.1949" stop-color="#0000ad"/><stop offset="0.2253" stop-color="#0000a1"/><stop offset="0.2677" stop-color="#0000b7"/><stop offset="0.3303" stop-color="#000093"/><stop offset="0.4051" stop-color="#000091"/><stop offset="0.4859" stop-color="#000081"/><stop offset="0.7101" stop-color="#000091"/><stop offset="0.9263" stop-color="#0005ff"/><stop offset="0.9990" stop-color="#001eff"/></linearGradient>
<linearGradient id="h164"><stop offset="0.0010" stop-color="#0028ff"/><stop offset="0.0091" stop-color="#002fff"/><stop offset="0.0253" stop-color="#0063ff"/><stop offset="0.0354" stop-color="#005eff"/><stop offset="0.0576" stop-color="#0018ff"/><stop offset="0.0778" stop-color="#0000fa"/><stop offset="0.1000" stop-color="#0000d4"/><stop offset="0.1283" stop-color="#0000d3"/><stop offset="0.1586" stop-color="#0000a6"/><stop offset="0.1990" stop-color="#0000a8"/><stop offset="0.2313" stop-color="#00009e"/><stop offset="0.2717" stop-color="#0000b4"/><stop offset="0.3364" stop-color="#000093"/><stop offset="0.4111" stop-color="#000091"/><stop offset="0.4939" stop-color="#000080"/><stop offset="0.7162" stop-color="#000090"/><stop offset="0.8939" stop-color="#0000ec"/><stop offset="0.9485" stop-color="#0008ff"/><stop offset="0.9990" stop-color="#0019ff"/></linearGradient>
<linearGradient id="h165"><stop offset="0.0010" stop-color="#00b2ff"/><stop offset="0.0071" stop-color="#006cff"/><stop offset="0.0172" stop-color="#005bff"/><stop offset="0.0354" stop-color="#0055ff"/><stop offset="0.0596" stop-color="#0009ff"/><stop offset="0.0798" stop-color="#0000ee"/><stop offset="0.1040" stop-color="#0000ca"/><stop offset="0.1323" stop-color="#0000cc"/><stop offset="0.1626" stop-color="#0000a2"/><stop offset="0.2030" stop-color="#0000a4"/><stop offset="0.2354" stop-color="#00009b"/><stop offset="0.2778" stop-color="#0000b1"/><stop offset="0.3424" stop-color="#000093"/><stop offset="0.4172" stop-color="#000092"/><stop offset="0.5040" stop-color="#000080"/><stop offset="0.7242" stop-color="#00008e"/><stop offset="0.9000" stop-color="#0000e8"/><stop offset="0.9626" stop-color="#0007ff"/><stop offset="0.9990" stop-color="#0014ff"/></linearGradient>
<linearGradient id="h166"><stop offset="0.0010" stop-color="#ffb700"/><stop offset="0.0030" stop-color="#e0ff1f"/><stop offset="0.0051" stop-color="#60ff9f"/><stop offset="0.0071" stop-color="#03fffc"/><stop offset="0.0091" stop-color="#00cfff"/><stop offset="0.0131" stop-color="#009bff"/><stop offset="0.0192" stop-color="#006bff"/><stop offset="0.0293" stop-color="#0051ff"/><stop offset="0.0455" stop-color="#002bff"/><stop offset="0.0596" stop-color="#0000fd"/><stop offset="0.1061" stop-color="#0000c1"/><stop offset="0.1343" stop-color="#0000c7"/><stop offset="0.1667" stop-color="#00009e"/><stop offset="0.2071" stop-color="#0000a0"/><stop offset="0.2394" stop-color="#000098"/><stop offset="0.2818" stop-color="#0000ae"/><stop offset="0.3485" stop-color="#000092"/><stop offset="0.4232" stop-color="#000092"/><stop offset="0.5121" stop-color="#000080"/><stop offset="0.7323" stop-color="#00008d"/><stop offset="0.9061" stop-color="#0000e4"/><stop offset="0.9768" stop-color="#0006ff"/><stop offset="0.9990" stop-color="#000eff"/></linearGradient>
<linearGradient id="h167"><stop offset="0.0010" stop-color="#800000"/><stop offset="0.0030" stop-color="#800000"/><stop offset="0.0051" stop-color="#ff4000"/><stop offset="0.0071" stop-color="#dfff20"/><stop offset="0.0091" stop-color="#66ff99"/><stop offset="0.0111" stop-color="#20ffdf"/><stop offset="0.0131" stop-color="#00ecff"/><stop offset="0.0172" stop-color="#009eff"/><stop offset="0.0212" stop-color="#006cff"/><stop offset="0.0273" stop-color="#004aff"/><stop offset="0.0495" stop-color="#0013ff"/><stop offset="0.0576" stop-color="#0000f8"/><stop offset="0.0798" stop-color="#0000dc"/><stop offset="0.1101" stop-color="#0000b9"/><stop offset="0.1384" stop-color="#0000c0"/><stop offset="0.1707" stop-color="#00009b"/><stop offset="0.2111" stop-color="#00009c"/><stop offset="0.2434" stop-color="#000095"/><stop offset="0.2879" stop-color="#0000ac"/><stop offset="0.3525" stop-color="#000092"/><stop offset="0.4273" stop-color="#000093"/><stop offset="0.5202" stop-color="#000080"/><stop offset="0.7384" stop-color="#00008c"/><stop offset="0.9000" stop-color="#0000da"/><stop offset="0.9909" stop-color="#0006ff"/><stop offset="0.9990" stop-color="#0008ff"/></linearGradient>
<linearGradient id="h168"><stop offset="0.0010" stop-color="#800000"/><stop offset="0.0051" stop-color="#800000"/><stop offset="0.0071" stop-color="#ff9600"/><stop offset="0.0091" stop-color="#c2ff3d"/><stop offset="0.0111" stop-color="#63ff9c"/><stop offset="0.0131" stop-color="#1fffe0"/><stop offset="0.0152" stop-color="#00e4ff"/><stop offset="0.0192" stop-color="#008dff"/><stop offset="0.0232" stop-color="#0059ff"/><stop offset="0.0293" stop-color="#0036ff"/><stop offset="0.0535" stop-color="#0000fb"/><stop offset="0.0717" stop-color="#0000d8"/><stop offset="0.1141" stop-color="#0000b2"/><stop offset="0.1424" stop-color="#0000bb"/><stop offset="0.1747" stop-color="#000098"/><stop offset="0.2172" stop-color="#000098"/><stop offset="0.2495" stop-color="#000094"/><stop offset="0.2939" stop-color="#0000a9"/><stop offset="0.3586" stop-color="#000092"/><stop offset="0.4333" stop-color="#000094"/><stop offset="0.5303" stop-color="#000080"/><stop offset="0.7465" stop-color="#00008b"/><stop offset="0.9101" stop-color="#0000d8"/><stop offset="0.9990" stop-color="#0002ff"/></linearGradient>
<linearGradient id="h169"><stop offset="0.0010" stop-color="#800000"/><stop offset="0.0030" stop-color="#800000"/><stop offset="0.0051" stop-color="#e70000"/><stop offset="0.0071" stop-color="#ffe200"/><stop offset="0.0091" stop-color="#92ff6d"/><stop offset="0.0111" stop-color="#42ffbd"/><stop offset="0.0131" stop-color="#06fff9"/><stop offset="0.0192" stop-color="#0080ff"/><stop offset="0.0232" stop-color="#004dff"/><stop offset="0.0293" stop-color="#0027ff"/><stop offset="0.0495" stop-color="#0000fc"/><stop offset="0.0717" stop-color="#0000cf"/><stop offset="0.1020" stop-color="#0000b5"/><stop offset="0.1222" stop-color="#0000ae"/><stop offset="0.1465" stop-color="#0000b6"/><stop offset="0.1788" stop-color="#000096"/><stop offset="0.2212" stop-color="#000096"/><stop offset="0.2535" stop-color="#000091"/><stop offset="0.2980" stop-color="#0000a7"/><stop offset="0.3646" stop-color="#000091"/><stop offset="0.4394" stop-color="#000094"/><stop offset="0.5404" stop-color="#000080"/><stop offset="0.7545" stop-color="#00008a"/><stop offset="0.9202" stop-color="#0000d7"/><stop offset="0.9990" stop-color="#0000fb"/></linearGradient>
<linearGradient id="h170"><stop offset="0.0010" stop-color="#ff0c00"/><stop offset="0.0030" stop-color="#ff8e00"/><stop offset="0.0051" stop-color="#cdff32"/><stop offset="0.0071" stop-color="#55ffaa"/><stop offset="0.0091" stop-color="#10ffef"/><stop offset="0.0111" stop-color="#00e2ff"/><stop offset="0.0172" stop-color="#007eff"/><stop offset="0.0232" stop-color="#003cff"/><stop offset="0.0313" stop-color="#0010ff"/><stop offset="0.0414" stop-color="#0000fb"/><stop offset="0.0758" stop-color="#0000c4"/><stop offset="0.1061" stop-color="#0000ad"/><stop offset="0.1263" stop-color="#0000a9"/><stop offset="0.1505" stop-color="#0000b1"/><stop offset="0.1828" stop-color="#000094"/><stop offset="0.2253" stop-color="#000094"/><stop offset="0.2596" stop-color="#000091"/><stop offset="0.3040" stop-color="#0000a4"/><stop offset="0.3707" stop-color="#000091"/><stop offset="0.4455" stop-color="#000095"/><stop offset="0.5485" stop-color="#000080"/><stop offset="0.7626" stop-color="#00008a"/><stop offset="0.9283" stop-color="#0000d4"/><stop offset="0.9990" stop-color="#0000f5"/></linearGradient>
<linearGradient id="h171"><stop offset="0.0010" stop-color="#2effd1"/><stop offset="0.0030" stop-color="#0bfff4"/><stop offset="0.0071" stop-color="#00baff"/><stop offset="0.0212" stop-color="#003aff"/><stop offset="0.0313" stop-color="#0002ff"/><stop offset="0.0778" stop-color="#0000bc"/><stop offset="0.1061" stop-color="#0000ab"/><stop offset="0.1263" stop-color="#0000a3"/><stop offset="0.1525" stop-color="#0000ae"/><stop offset="0.1889" stop-color="#000093"/><stop offset="0.2293" stop-color="#000092"/><stop offset="0.2636" stop-color="#00008f"/><stop offset="0.3101" stop-color="#0000a2"/><stop offset="0.3768" stop-color="#000091"/><stop offset="0.4515" stop-color="#000095"/><stop offset="0.5586" stop-color="#000080"/><stop offset="0.7727" stop-color="#00008a"/><stop offset="0.9505" stop-color="#0000d9"/><stop offset="0.9990" stop-color="#0000ef"/></linearGradient>
<linearGradient id="h172"><stop offset="0.0010" stop-color="#0093ff"/><stop offset="0.0212" stop-color="#0029ff"/><stop offset="0.0293" stop-color="#0000fd"/><stop offset="0.0414" stop-color="#0000dd"/><stop offset="0.0838" stop-color="#0000b4"/><stop offset="0.1121" stop-color="#0000a3"/><stop offset="0.1323" stop-color="#0000a1"/><stop offset="0.1566" stop-color="#0000aa"/><stop offset="0.1929" stop-color="#000091"/><stop offset="0.2354" stop-color="#00008f"/><stop offset="0.2697" stop-color="#00008e"/><stop offset="0.3141" stop-color="#0000a0"/><stop offset="0.3808" stop-color="#000090"/><stop offset="0.4576" stop-color="#000096"/><stop offset="0.5687" stop-color="#000080"/><stop offset="0.7808" stop-color="#000089"/><stop offset="0.9606" stop-color="#0000d8"/><stop offset="0.9990" stop-color="#0000e9"/></linearGradient>
<linearGradient id="h173"><stop offset="0.0010" stop-color="#0097ff"/><stop offset="0.0152" stop-color="#003aff"/><stop offset="0.0273" stop-color="#0000fb"/><stop offset="0.0394" stop-color="#0000d4"/><stop offset="0.0859" stop-color="#0000ae"/><stop offset="0.1141" stop-color="#0000a0"/><stop offset="0.1364" stop-color="#00009e"/><stop offset="0.1606" stop-color="#0000a7"/><stop offset="0.1970" stop-color="#000090"/><stop offset="0.2394" stop-color="#00008d"/><stop offset="0.2758" stop-color="#00008e"/><stop offset="0.3202" stop-color="#00009e"/><stop offset="0.3869" stop-color="#000090"/><stop offset="0.4636" stop-color="#000096"/><stop offset="0.5768" stop-color="#000080"/><stop offset="0.7889" stop-color="#000089"/><stop offset="0.9707" stop-color="#0000d6"/><stop offset="0.9990" stop-color="#0000e3"/></linearGradient>
<linearGradient id="h174"><stop offset="0.0010" stop-color="#23ffdc"/><stop offset="0.0030" stop-color="#00f4ff"/><stop offset="0.0071" stop-color="#0088ff"/><stop offset="0.0111" stop-color="#004fff"/><stop offset="0.0192" stop-color="#0015ff"/><stop offset="0.0253" stop-color="#0000f8"/><stop offset="0.0394" stop-color="#0000c9"/><stop offset="0.0899" stop-color="#0000a9"/><stop offset="0.1182" stop-color="#00009b"/><stop offset="0.1404" stop-color="#00009b"/><stop offset="0.1646" stop-color="#0000a4"/><stop offset="0.2010" stop-color="#00008f"/><stop offset="0.2434" stop-color="#00008c"/><stop offset="0.2798" stop-color="#00008c"/><stop offset="0.3263" stop-color="#00009c"/><stop offset="0.3929" stop-color="#000090"/><stop offset="0.4697" stop-color="#000096"/><stop offset="0.5869" stop-color="#000080"/><stop offset="0.7990" stop-color="#000089"/><stop offset="0.9990" stop-color="#0000dd"/></linearGradient>
<linearGradient id="h175"><stop offset="0.0010" stop-color="#ff7d00"/><stop offset="0.0030" stop-color="#fffd00"/><stop offset="0.0051" stop-color="#5dffa2"/><stop offset="0.0071" stop-color="#00dfff"/><stop offset="0.0091" stop-color="#0093ff"/><stop offset="0.0111" stop-color="#0064ff"/><stop offset="0.0152" stop-color="#0029ff"/><stop offset="0.0192" stop-color="#0007ff"/><stop offset="0.0293" stop-color="#0000dd"/><stop offset="0.0455" stop-color="#0000b9"/><stop offset="0.0960" stop-color="#0000a5"/><stop offset="0.1384" stop-color="#000095"/><stop offset="0.1667" stop-color="#0000a2"/><stop offset="0.2051" stop-color="#00008e"/><stop offset="0.2495" stop-color="#00008a"/><stop offset="0.2879" stop-color="#00008d"/><stop offset="0.3343" stop-color="#000099"/><stop offset="0.3990" stop-color="#000090"/><stop offset="0.4758" stop-color="#000097"/><stop offset="0.5949" stop-color="#000080"/><stop offset="0.8071" stop-color="#000089"/><stop offset="0.9990" stop-color="#0000d7"/></linearGradient>
<linearGradient id="h176"><stop offset="0.0010" stop-color="#800000"/><stop offset="0.0030" stop-color="#800000"/><stop offset="0.0051" stop-color="#ffae00"/><stop offset="0.0071" stop-color="#60ff9f"/><stop offset="0.0091" stop-color="#00d6ff"/><stop offset="0.0111" stop-color="#0086ff"/><stop offset="0.0131" stop-color="#0051ff"/><stop offset="0.0172" stop-color="#000eff"/><stop offset="0.0192" stop-color="#0000fa"/><stop offset="0.0293" stop-color="#0000d3"/><stop offset="0.0475" stop-color="#0000b0"/><stop offset="0.1000" stop-color="#0000a2"/><stop offset="0.1404" stop-color="#000092"/><stop offset="0.1707" stop-color="#00009f"/><stop offset="0.2091" stop-color="#00008e"/><stop offset="0.2535" stop-color="#000089"/><stop offset="0.2919" stop-color="#00008c"/><stop offset="0.3384" stop-color="#000098"/><stop offset="0.4051" stop-color="#000090"/><stop offset="0.4818" stop-color="#000097"/><stop offset="0.6051" stop-color="#000080"/><stop offset="0.8172" stop-color="#000089"/><stop offset="0.9990" stop-color="#0000d1"/></linearGradient>
<linearGradient id="h177"><stop offset="0.0010" stop-color="#800000"/><stop offset="0.0030" stop-color="#800000"/><stop offset="0.0051" stop-color="#fb0000"/><stop offset="0.0071" stop-color="#bbff44"/><stop offset="0.0091" stop-color="#02fffd"/><stop offset="0.0111" stop-color="#009aff"/><stop offset="0.0131" stop-color="#0056ff"/><stop offset="0.0152" stop-color="#0026ff"/><stop offset="0.0172" stop-color="#0005ff"/><stop offset="0.0232" stop-color="#0000d7"/><stop offset="0.0475" stop-color="#0000aa"/><stop offset="0.1020" stop-color="#00009f"/><stop offset="0.1444" stop-color="#000090"/><stop offset="0.1747" stop-color="#00009d"/><stop offset="0.2131" stop-color="#00008d"/><stop offset="0.2596" stop-color="#000088"/><stop offset="0.3000" stop-color="#00008d"/><stop offset="0.3485" stop-color="#000095"/><stop offset="0.4131" stop-color="#000090"/><stop offset="0.4879" stop-color="#000097"/><stop offset="0.6131" stop-color="#000080"/><stop offset="0.8273" stop-color="#000089"/><stop offset="0.9990" stop-color="#0000cb"/></linearGradient>
<linearGradient id="h178"><stop offset="0.0010" stop-color="#800000"/><stop offset="0.0030" stop-color="#800000"/><stop offset="0.0051" stop-color="#ff2500"/><stop offset="0.0071" stop-color="#9cff63"/><stop offset="0.0091" stop-color="#00e9ff"/><stop offset="0.0111" stop-color="#0084ff"/><stop offset="0.0131" stop-color="#0042ff"/><stop offset="0.0152" stop-color="#0014ff"/><stop offset="0.0172" stop-color="#0000f3"/><stop offset="0.0212" stop-color="#0000d2"/><stop offset="0.0515" stop-color="#0000a3"/><stop offset="0.1081" stop-color="#00009d"/><stop offset="0.1465" stop-color="#00008e"/><stop offset="0.1788" stop-color="#00009b"/><stop offset="0.2172" stop-color="#00008c"/><stop offset="0.2636" stop-color="#000087"/><stop offset="0.3061" stop-color="#00008c"/><stop offset="0.3545" stop-color="#000093"/><stop offset="0.4192" stop-color="#000090"/><stop offset="0.4939" stop-color="#000097"/><stop offset="0.6212" stop-color="#000080"/><stop offset="0.8374" stop-color="#00008a"/><stop offset="0.9990" stop-color="#0000c6"/></linearGradient>
<linearGradient id="h179"><stop offset="0.0010" stop-color="#800000"/><stop offset="0.0030" stop-color="#ec0000"/><stop offset="0.0051" stop-color="#edff12"/><stop offset="0.0071" stop-color="#13ffec"/><stop offset="0.0091" stop-color="#0093ff"/><stop offset="0.0111" stop-color="#0049ff"/><stop offset="0.0131" stop-color="#0018ff"/><stop offset="0.0152" stop-color="#0000f4"/><stop offset="0.0192" stop-color="#0000cd"/><stop offset="0.0293" stop-color="#0000b9"/><stop offset="0.0556" stop-color="#00009f"/><stop offset="0.1101" stop-color="#00009c"/><stop offset="0.1485" stop-color="#00008d"/><stop offset="0.1808" stop-color="#00009a"/><stop offset="0.2212" stop-color="#00008c"/><stop offset="0.2677" stop-color="#000086"/><stop offset="0.3121" stop-color="#00008c"/><stop offset="0.3626" stop-color="#000091"/><stop offset="0.4273" stop-color="#000091"/><stop offset="0.5020" stop-color="#000097"/><stop offset="0.6313" stop-color="#000080"/><stop offset="0.8455" stop-color="#00008a"/><stop offset="0.9990" stop-color="#0000c1"/></linearGradient>
<linearGradient id="h180"><stop offset="0.0010" stop-color="#e5ff1a"/><stop offset="0.0030" stop-color="#77ff88"/><stop offset="0.0051" stop-color="#00e8ff"/><stop offset="0.0071" stop-color="#007bff"/><stop offset="0.0091" stop-color="#0036ff"/><stop offset="0.0111" stop-color="#000bff"/><stop offset="0.0152" stop-color="#0000d7"/><stop offset="0.0212" stop-color="#0000bb"/><stop offset="0.0576" stop-color="#00009d"/><stop offset="0.1101" stop-color="#00009b"/><stop offset="0.1505" stop-color="#00008c"/><stop offset="0.1828" stop-color="#000099"/><stop offset="0.2232" stop-color="#00008c"/><stop offset="0.2697" stop-color="#000086"/><stop offset="0.3141" stop-color="#00008b"/><stop offset="0.3667" stop-color="#000090"/><stop offset="0.4313" stop-color="#000091"/><stop offset="0.5061" stop-color="#000097"/><stop offset="0.6354" stop-color="#000080"/><stop offset="0.8535" stop-color="#00008a"/><stop offset="0.9990" stop-color="#0000bd"/></linearGradient></defs>
<rect x="53.6" y="278.00" width="494.7" height="1.60" fill="url(#h0)"/>
<rect x="53.6" y="279.00" width="494.7" height="1.60" fill="url(#h1)"/>
<rect x="53.6" y="280.00" width="494.7" height="1.60" fill="url(#h2)"/>
<rect x="53.6" y="280.99" width="494.7" height="1.60" fill="url(#h3)"/>
<rect x="53.6" y="281.99" width="494.7" height="1.60" fill="url(#h4)"/>
<rect x="53.6" y="282.99" width="494.7" height="1.60" fill="url(#h5)"/>
<rect x="53.6" y="283.99" width="494.7" height="1.60" fill="url(#h6)"/>
<rect x="53.6" y="284.98" width="494.7" height="1.60" fill="url(#h7)"/>
<rect x="53.6" y="285.98" width="494.7" height="1.60" fill="url(#h8)"/>
<rect x="53.6" y="286.98" width="494.7" height="1.60" fill="url(#h9)"/>
<rect x="53.6" y="287.98" width="494.7" height="1.60" fill="url(#h10)"/>
<rect x="53.6" y="288.98" width="494.7" height="1.60" fill="url(#h11)"/>
<rect x="53.6" y="289.97" width="494.7" height="1.60" fill="url(#h12)"/>
<rect x="53.6" y="290.97" width="494.7" height="1.60" fill="url(#h13)"/>
<rect x="53.6" y="291.97" width="494.7" height="1.60" fill="url(#h14)"/>
<rect x="53.6" y="292.97" width="494.7" height="1.60" fill="url(#h15)"/>
<rect x="53.6" y="293.96" width="494.7" height="1.60" fill="url(#h16)"/>
<rect x="53.6" y="294.96" width="494.7" height="1.60" fill="url(#h17)"/>
<rect x="53.6" y="295.96" width="494.7" height="1.60" fill="url(#h18)"/>
<rect x="53.6" y="296.96" width="494.7" height="1.60" fill="url(#h19)"/>
<rect x="53.6" y="297.96" width="494.7" height="1.60" fill="url(#h20)"/>
<rect x="53.6" y="298.95" width="494.7" height="1.60" fill="url(#h21)"/>
<rect x="53.6" y="299.95" width="494.7" height="1.60" fill="url(#h22)"/>
<rect x="53.6" y="300.95" width="494.7" height="1.60" fill="url(#h23)"/>
<rect x="53.6" y="301.95" width="494.7" height="1.60" fill="url(#h24)"/>
<rect x="53.6" y="302.94" width="494.7" height="1.60" fill="url(#h25)"/>
<rect x="53.6" y="303.94" width="494.7" height="1.60" fill="url(#h26)"/>
<rect x="53.6" y="304.94" width="494.7" height="1.60" fill="url(#h27)"/>
<rect x="53.6" y="305.94" width="494.7" height="1.60" fill="url(#h28)"/>
<rect x="53.6" y="306.94" width="494.7" height="1.60" fill="url(#h29)"/>
<rect x="53.6" y="307.93" width="494.7" height="1.60" fill="url(#h30)"/>
<rect x="53.6" y="308.93" width="494.7" height="1.60" fill="url(#h31)"/>
<rect x="53.6" y="309.93" width="494.7" height="1.60" fill="url(#h32)"/>
<rect x="53.6" y="310.93" width="494.7" height="1.60" fill="url(#h33)"/>
<rect x="53.6" y="311.92" width="494.7" height="1.60" fill="url(#h34)"/>
<rect x="53.6" y="312.92" width="494.7" height="1.60" fill="url(#h35)"/>
<rect x="53.6" y="313.92" width="494.7" height="1.60" fill="url(#h36)"/>
<rect x="53.6" y="314.92" width="494.7" height="1.60" fill="url(#h37)"/>
<rect x="53.6" y="315.92" width="494.7" height="1.60" fill="url(#h38)"/>
<rect x="53.6" y="316.91" width="494.7" height="1.60" fill="url(#h39)"/>
<rect x="53.6" y="317.91" width="494.7" height="1.60" fill="url(#h40)"/>
<rect x="53.6" y="318.91" width="494.7" height="1.60" fill="url(#h41)"/>
<rect x="53.6" y="319.91" width="494.7" height="1.60" fill="url(#h42)"/>
<rect x="53.6" y="320.90" width="494.7" height="1.60" fill="url(#h43)"/>
<rect x="53.6" y="321.90" width="494.7" height="1.60" fill="url(#h44)"/>
<rect x="53.6" y="322.90" width="494.7" height="1.60" fill="url(#h45)"/>
<rect x="53.6" y="323.90" width="494.7" height="1.60" fill="url(#h46)"/>
<rect x="53.6" y="324.90" width="494.7" height="1.60" fill="url(#h47)"/>
<rect x="53.6" y="325.89" width="494.7" height="1.60" fill="url(#h48)"/>
<rect x="53.6" y="326.89" width="494.7" height="1.60" fill="url(#h49)"/>
<rect x="53.6" y="327.89" width="494.7" height="1.60" fill="url(#h50)"/>
<rect x="53.6" y="328.89" width="494.7" height="1.60" fill="url(#h51)"/>
<rect x="53.6" y="329.89" width="494.7" height="1.60" fill="url(#h52)"/>
<rect x="53.6" y="330.88" width="494.7" height="1.60" fill="url(#h53)"/>
<rect x="53.6" y="331.88" width="494.7" height="1.60" fill="url(#h54)"/>
<rect x="53.6" y="332.88" width="494.7" height="1.60" fill="url(#h55)"/>
<rect x="53.6" y="333.88" width="494.7" height="1.60" fill="url(#h56)"/>
<rect x="53.6" y="334.87" width="494.7" height="1.60" fill="url(#h57)"/>
<rect x="53.6" y="335.87" width="494.7" height="1.60" fill="url(#h58)"/>
<rect x="53.6" y="336.87" width="494.7" height="1.60" fill="url(#h59)"/>
<rect x="53.6" y="337.87" width="494.7" height="1.60" fill="url(#h60)"/>
<rect x="53.6" y="338.87" width="494.7" height="1.60" fill="url(#h61)"/>
<rect x="53.6" y="339.86" width="494.7" height="1.60" fill="url(#h62)"/>
<rect x="53.6" y="340.86" width="494.7" height="1.60" fill="url(#h63)"/>
<rect x="53.6" y="341.86" width="494.7" height="1.60" fill="url(#h64)"/>
<rect x="53.6" y="342.86" width="494.7" height="1.60" fill="url(#h65)"/>
<rect x="53.6" y="343.85" width="494.7" height="1.60" fill="url(#h66)"/>
<rect x="53.6" y="344.85" width="494.7" height="1.60" fill="url(#h67)"/>
<rect x="53.6" y="345.85" width="494.7" height="1.60" fill="url(#h68)"/>
<rect x="53.6" y="346.85" width="494.7" height="1.60" fill="url(#h69)"/>
<rect x="53.6" y="347.85" width="494.7" height="1.60" fill="url(#h70)"/>
<rect x="53.6" y="348.84" width="494.7" height="1.60" fill="url(#h71)"/>
<rect x="53.6" y="349.84" width="494.7" height="1.60" fill="url(#h72)"/>
<rect x="53.6" y="350.84" width="494.7" height="1.60" fill="url(#h73)"/>
<rect x="53.6" y="351.84" width="494.7" height="1.60" fill="url(#h74)"/>
<rect x="53.6" y="352.83" width="494.7" height="1.60" fill="url(#h75)"/>
<rect x="53.6" y="353.83" width="494.7" height="1.60" fill="url(#h76)"/>
<rect x="53.6" y="354.83" width="494.7" height="1.60" fill="url(#h77)"/>
<rect x="53.6" y="355.83" width="494.7" height="1.60" fill="url(#h78)"/>
<rect x="53.6" y="356.83" width="494.7" height="1.60" fill="url(#h79)"/>
<rect x="53.6" y="357.82" width="494.7" height="1.60" fill="url(#h80)"/>
<rect x="53.6" y="358.82" width="494.7" height="1.60" fill="url(#h81)"/>
<rect x="53.6" y="359.82" width="494.7" height="1.60" fill="url(#h82)"/>
<rect x="53.6" y="360.82" width="494.7" height="1.60" fill="url(#h83)"/>
<rect x="53.6" y="361.81" width="494.7" height="1.60" fill="url(#h84)"/>
<rect x="53.6" y="362.81" width="494.7" height="1.60" fill="url(#h85)"/>
<rect x="53.6" y="363.81" width="494.7" height="1.60" fill="url(#h86)"/>
<rect x="53.6" y="364.81" width="494.7" height="1.60" fill="url(#h87)"/>
<rect x="53.6" y="365.81" width="494.7" height="1.60" fill="url(#h88)"/>
<rect x="53.6" y="366.80" width="494.7" height="1.60" fill="url(#h89)"/>
<rect x="53.6" y="367.80" width="494.7" height="1.60" fill="url(#h90)"/>
<rect x="53.6" y="368.80" width="494.7" height="1.60" fill="url(#h91)"/>
<rect x="53.6" y="369.80" width="494.7" height="1.60" fill="url(#h92)"/>
<rect x="53.6" y="370.79" width="494.7" height="1.60" fill="url(#h93)"/>
<rect x="53.6" y="371.79" width="494.7" height="1.60" fill="url(#h94)"/>
<rect x="53.6" y="372.79" width="494.7" height="1.60" fill="url(#h95)"/>
<rect x="53.6" y="373.79" width="494.7" height="1.60" fill="url(#h96)"/>
<rect x="53.6" y="374.79" width="494.7" height="1.60" fill="url(#h97)"/>
<rect x="53.6" y="375.78" width="494.7" height="1.60" fill="url(#h98)"/>
<rect x="53.6" y="376.78" width="494.7" height="1.60" fill="url(#h99)"/>
<rect x="53.6" y="377.78" width="494.7" height="1.60" fill="url(#h100)"/>
<rect x="53.6" y="378.78" width="494.7" height="1.60" fill="url(#h101)"/>
<rect x="53.6" y="379.77" width="494.7" height="1.60" fill="url(#h102)"/>
<rect x="53.6" y="380.77" width="494.7" height="1.60" fill="url(#h103)"/>
<rect x="53.6" y="381.77" width="494.7" height="1.60" fill="url(#h104)"/>
<rect x="53.6" y="382.77" width="494.7" height="1.60" fill="url(#h105)"/>
<rect x="53.6" y="383.77" width="494.7" height="1.60" fill="url(#h106)"/>
<rect x="53.6" y="384.76" width="494.7" height="1.60" fill="url(#h107)"/>
<rect x="53.6" y="385.76" width="494.7" height="1.60" fill="url(#h108)"/>
<rect x="53.6" y="386.76" width="494.7" height="1.60" fill="url(#h109)"/>
<rect x="53.6" y="387.76" width="494.7" height="1.60" fill="url(#h110)"/>
<rect x="53.6" y="388.75" width="494.7" height="1.60" fill="url(#h111)"/>
<rect x="53.6" y="389.75" width="494.7" height="1.60" fill="url(#h112)"/>
<rect x="53.6" y="390.75" width="494.7" height="1.60" fill="url(#h113)"/>
<rect x="53.6" y="391.75" width="494.7" height="1.60" fill="url(#h114)"/>
<rect x="53.6" y="392.75" width="494.7" height="1.60" fill="url(#h115)"/>
<rect x="53.6" y="393.74" width="494.7" height="1.60" fill="url(#h116)"/>
<rect x="53.6" y="394.74" width="494.7" height="1.60" fill="url(#h117)"/>
<rect x="53.6" y="395.74" width="494.7" height="1.60" fill="url(#h118)"/>
<rect x="53.6" y="396.74" width="494.7" height="1.60" fill="url(#h119)"/>
<rect x="53.6" y="397.73" width="494.7" height="1.60" fill="url(#h120)"/>
<rect x="53.6" y="398.73" width="494.7" height="1.60" fill="url(#h121)"/>
<rect x="53.6" y="399.73" width="494.7" height="1.60" fill="url(#h122)"/>
<rect x="53.6" y="400.73" width="494.7" height="1.60" fill="url(#h123)"/>
<rect x="53.6" y="401.73" width="494.7" height="1.60" fill="url(#h124)"/>
<rect x="53.6" y="402.72" width="494.7" height="1.60" fill="url(#h125)"/>
<rect x="53.6" y="403.72" width="494.7" height="1.60" fill="url(#h126)"/>
<rect x="53.6" y="404.72" width="494.7" height="1.60" fill="url(#h127)"/>
<rect x="53.6" y="405.72" width="494.7" height="1.60" fill="url(#h128)"/>
<rect x="53.6" y="406.71" width="494.7" height="1.60" fill="url(#h129)"/>
<rect x="53.6" y="407.71" width="494.7" height="1.60" fill="url(#h130)"/>
<rect x="53.6" y="408.71" width="494.7" height="1.60" fill="url(#h131)"/>
<rect x="53.6" y="409.71" width="494.7" height="1.60" fill="url(#h132)"/>
<rect x="53.6" y="410.71" width="494.7" height="1.60" fill="url(#h133)"/>
<rect x="53.6" y="411.70" width="494.7" height="1.60" fill="url(#h134)"/>
<rect x="53.6" y="412.70" width="494.7" height="1.60" fill="url(#h135)"/>
<rect x="53.6" y="413.70" width="494.7" height="1.60" fill="url(#h136)"/>
<rect x="53.6" y="414.70" width="494.7" height="1.60" fill="url(#h137)"/>
<rect x="53.6" y="415.70" width="494.7" height="1.60" fill="url(#h138)"/>
<rect x="53.6" y="416.69" width="494.7" height="1.60" fill="url(#h139)"/>
<rect x="53.6" y="417.69" width="494.7" height="1.60" fill="url(#h140)"/>
<rect x="53.6" y="418.69" width="494.7" height="1.60" fill="url(#h141)"/>
<rect x="53.6" y="419.69" width="494.7" height="1.60" fill="url(#h142)"/>
<rect x="53.6" y="420.68" width="494.7" height="1.60" fill="url(#h143)"/>
<rect x="53.6" y="421.68" width="494.7" height="1.60" fill="url(#h144)"/>
<rect x="53.6" y="422.68" width="494.7" height="1.60" fill="url(#h145)"/>
<rect x="53.6" y="423.68" width="494.7" height="1.60" fill="url(#h146)"/>
<rect x="53.6" y="424.68" width="494.7" height="1.60" fill="url(#h147)"/>
<rect x="53.6" y="425.67" width="494.7" height="1.60" fill="url(#h148)"/>
<rect x="53.6" y="426.67" width="494.7" height="1.60" fill="url(#h149)"/>
<rect x="53.6" y="427.67" width="494.7" height="1.60" fill="url(#h150)"/>
<rect x="53.6" y="428.67" width="494.7" height="1.60" fill="url(#h151)"/>
<rect x="53.6" y="429.66" width="494.7" height="1.60" fill="url(#h152)"/>
<rect x="53.6" y="430.66" width="494.7" height="1.60" fill="url(#h153)"/>
<rect x="53.6" y="431.66" width="494.7" height="1.60" fill="url(#h154)"/>
<rect x="53.6" y="432.66" width="494.7" height="1.60" fill="url(#h155)"/>
<rect x="53.6" y="433.66" width="494.7" height="1.60" fill="url(#h156)"/>
<rect x="53.6" y="434.65" width="494.7" height="1.60" fill="url(#h157)"/>
<rect x="53.6" y="435.65" width="494.7" height="1.60" fill="url(#h158)"/>
<rect x="53.6" y="436.65" width="494.7" height="1.60" fill="url(#h159)"/>
<rect x="53.6" y="437.65" width="494.7" height="1.60" fill="url(#h160)"/>
<rect x="53.6" y="438.64" width="494.7" height="1.60" fill="url(#h161)"/>
<rect x="53.6" y="439.64" width="494.7" height="1.60" fill="url(#h162)"/>
<rect x="53.6" y="440.64" width="494.7" height="1.60" fill="url(#h163)"/>
<rect x="53.6" y="441.64" width="494.7" height="1.60" fill="url(#h164)"/>
<rect x="53.6" y="442.64" width="494.7" height="1.60" fill="url(#h165)"/>
<rect x="53.6" y="443.63" width="494.7" height="1.60" fill="url(#h166)"/>
<rect x="53.6" y="444.63" width="494.7" height="1.60" fill="url(#h167)"/>
<rect x="53.6" y="445.63" width="494.7" height="1.60" fill="url(#h168)"/>
<rect x="53.6" y="446.63" width="494.7" height="1.60" fill="url(#h169)"/>
<rect x="53.6" y="447.62" width="494.7" height="1.60" fill="url(#h170)"/>
<rect x="53.6" y="448.62" width="494.7" height="1.60" fill="url(#h171)"/>
<rect x="53.6" y="449.62" width="494.7" height="1.60" fill="url(#h172)"/>
<rect x="53.6" y="450.62" width="494.7" height="1.60" fill="url(#h173)"/>
<rect x="53.6" y="451.62" width="494.7" height="1.60" fill="url(#h174)"/>
<rect x="53.6" y="452.61" width="494.7" height="1.60" fill="url(#h175)"/>
<rect x="53.6" y="453.61" width="494.7" height="1.60" fill="url(#h176)"/>
<rect x="53.6" y="454.61" width="494.7" height="1.60" fill="url(#h177)"/>
<rect x="53.6" y="455.61" width="494.7" height="1.60" fill="url(#h178)"/>
<rect x="53.6" y="456.60" width="494.7" height="1.60" fill="url(#h179)"/>
<rect x="53.6" y="457.60" width="494.7" height="1.60" fill="url(#h180)"/>
<rect x="52.7" y="278" width="0.9" height="180.6" fill="#b4aea4"/>
<path d="M53.6,278.4 H547.9 V458.6" stroke="#00005a" stroke-width="0.8" fill="none"/>
<defs><linearGradient id="cbar" x1="0" y1="0" x2="0" y2="1"><stop offset="0.0000" stop-color="#800000"/><stop offset="0.0312" stop-color="#9f0000"/><stop offset="0.0625" stop-color="#bf0000"/><stop offset="0.0938" stop-color="#df0000"/><stop offset="0.1250" stop-color="#ff0000"/><stop offset="0.1562" stop-color="#ff2000"/><stop offset="0.1875" stop-color="#ff4000"/><stop offset="0.2188" stop-color="#ff6000"/><stop offset="0.2500" stop-color="#ff8000"/><stop offset="0.2812" stop-color="#ff9f00"/><stop offset="0.3125" stop-color="#ffbf00"/><stop offset="0.3438" stop-color="#ffdf00"/><stop offset="0.3750" stop-color="#ffff00"/><stop offset="0.4062" stop-color="#dfff20"/><stop offset="0.4375" stop-color="#bfff40"/><stop offset="0.4688" stop-color="#9fff60"/><stop offset="0.5000" stop-color="#80ff80"/><stop offset="0.5312" stop-color="#60ff9f"/><stop offset="0.5625" stop-color="#40ffbf"/><stop offset="0.5938" stop-color="#20ffdf"/><stop offset="0.6250" stop-color="#00ffff"/><stop offset="0.6562" stop-color="#00dfff"/><stop offset="0.6875" stop-color="#00bfff"/><stop offset="0.7188" stop-color="#009fff"/><stop offset="0.7500" stop-color="#0080ff"/><stop offset="0.7812" stop-color="#0060ff"/><stop offset="0.8125" stop-color="#0040ff"/><stop offset="0.8438" stop-color="#0020ff"/><stop offset="0.8750" stop-color="#0000ff"/><stop offset="0.9062" stop-color="#0000df"/><stop offset="0.9375" stop-color="#0000bf"/><stop offset="0.9688" stop-color="#00009f"/><stop offset="1.0000" stop-color="#000080"/></linearGradient></defs>
<rect x="564.2" y="277.5" width="5.6" height="182" fill="url(#cbar)"/>
<text x="571.2" y="283.90" font-size="15.8" letter-spacing="1.3">1</text>
<text x="571.2" y="302.05" font-size="15.8" letter-spacing="1.3">0.9</text>
<text x="571.2" y="320.20" font-size="15.8" letter-spacing="1.3">0.8</text>
<text x="571.2" y="338.35" font-size="15.8" letter-spacing="1.3">0.7</text>
<text x="571.2" y="356.50" font-size="15.8" letter-spacing="1.3">0.6</text>
<text x="571.2" y="374.65" font-size="15.8" letter-spacing="1.3">0.5</text>
<text x="571.2" y="392.80" font-size="15.8" letter-spacing="1.3">0.4</text>
<text x="571.2" y="410.95" font-size="15.8" letter-spacing="1.3">0.3</text>
<text x="571.2" y="429.10" font-size="15.8" letter-spacing="1.3">0.2</text>
<text x="571.2" y="447.25" font-size="15.8" letter-spacing="1.3">0.1</text>
<text x="571.2" y="465.40" font-size="15.8" letter-spacing="1.3">0</text>
<text x="44.6" y="283.30" font-size="13.9" text-anchor="end">100</text>
<text x="44.6" y="328.45" font-size="13.9" text-anchor="end">50</text>
<text x="44.6" y="373.60" font-size="13.9" text-anchor="end">0</text>
<text x="44.6" y="418.75" font-size="13.9" text-anchor="end">-50</text>
<text x="44.6" y="463.90" font-size="13.9" text-anchor="end">-100</text>
<text x="53.80" y="477.5" font-size="13.9" text-anchor="middle">0</text>
<text x="144.34" y="477.5" font-size="13.9" text-anchor="middle">100</text>
<text x="234.88" y="477.5" font-size="13.9" text-anchor="middle">200</text>
<text x="325.42" y="477.5" font-size="13.9" text-anchor="middle">300</text>
<text x="415.96" y="477.5" font-size="13.9" text-anchor="middle">400</text>
<text x="506.50" y="477.5" font-size="13.9" text-anchor="middle">500</text>
<text x="278.2" y="494.5" font-size="18.1">x [cm]</text>
<text transform="translate(20,366) rotate(-90)" font-size="17.9" text-anchor="middle">y [cm]</text>
<text x="270.6" y="269.4" font-size="24" letter-spacing="0.7">(c)</text>
<rect x="54.0" y="522.5" width="496.30" height="185.50" fill="none" stroke="#000" stroke-width="1.8"/>
<clipPath id="cd"><rect x="54.0" y="521.6" width="496.29999999999995" height="186.4"/></clipPath>
<polyline points="54.00,705.21 54.62,705.15 55.24,705.06 55.86,704.96 56.48,704.86 57.10,704.77 57.72,704.67 58.34,704.58 58.96,704.49 59.58,704.41 60.20,704.33 60.82,704.25 61.44,704.17 62.06,704.10 62.69,704.03 63.31,703.97 63.93,703.91 64.55,703.85 65.17,703.80 65.79,703.75 66.41,703.71 67.03,703.67 67.65,703.64 68.27,703.61 68.89,703.59 69.51,703.57 70.13,703.56 70.75,703.55 71.37,703.55 71.99,703.55 72.61,703.56 73.23,703.57 73.85,703.59 74.47,703.61 75.09,703.64 75.71,703.67 76.33,703.71 76.95,703.75 77.57,703.80 78.19,703.85 78.81,703.91 79.44,703.97 80.06,704.03 80.68,704.10 81.30,704.17 81.92,704.25 82.54,704.33 83.16,704.41 83.78,704.49 84.40,704.58 85.02,704.67 85.64,704.77 86.26,704.86 86.88,704.96 87.50,705.06 88.12,705.16 88.74,705.27 89.36,705.37 89.98,705.48 90.60,705.58 91.22,705.69 91.84,705.79 92.46,705.90 93.08,706.01 93.70,706.11 94.32,706.22 94.94,706.32 95.57,706.42 96.19,706.53 96.81,706.62 97.43,706.72 98.05,706.82 98.67,706.91 99.29,707.00 99.91,707.09 100.53,707.17 101.15,707.25 101.77,707.33 102.39,707.41 103.01,707.48 103.63,707.54 104.25,707.60 104.87,707.66 105.49,707.72 106.11,707.77 106.73,707.81 107.35,707.85 107.97,707.89 108.59,707.92 109.21,707.94 109.83,707.96 110.45,707.98 111.07,707.99 111.69,708.00 112.32,707.99 112.94,707.98 113.56,707.96 114.18,707.93 114.80,707.89 115.42,707.83 116.04,707.76 116.66,707.69 117.28,707.60 117.90,707.50 118.52,707.39 119.14,707.27 119.76,707.14 120.38,707.00 121.00,706.84 121.62,706.68 122.24,706.51 122.86,706.33 123.48,706.14 124.10,705.94 124.72,705.73 125.34,705.51 125.96,705.28 126.58,705.05 127.20,704.80 127.82,704.55 128.44,704.29 129.07,704.02 129.69,703.75 130.31,703.47 130.93,703.18 131.55,702.88 132.17,702.58 132.79,702.28 133.41,701.97 134.03,701.65 134.65,701.33 135.27,701.00 135.89,700.67 136.51,700.34 137.13,700.00 137.75,699.66 138.37,699.32 138.99,698.98 139.61,698.63 140.23,698.28 140.85,697.93 141.47,697.58 142.09,697.23 142.71,696.88 143.33,696.53 143.95,696.17 144.57,695.82 145.20,695.48 145.82,695.13 146.44,694.78 147.06,694.44 147.68,694.10 148.30,693.77 148.92,693.43 149.54,693.10 150.16,692.78 150.78,692.45 151.40,692.14 152.02,691.83 152.64,691.52 153.26,691.22 153.88,690.93 154.50,690.64 155.12,690.36 155.74,690.08 156.36,689.82 156.98,689.56 157.60,689.30 158.22,689.06 158.84,688.82 159.46,688.60 160.08,688.38 160.70,688.17 161.32,687.97 161.95,687.78 162.57,687.59 163.19,687.42 163.81,687.26 164.43,687.11 165.05,686.97 165.67,686.84 166.29,686.72 166.91,686.61 167.53,686.51 168.15,686.42 168.77,686.34 169.39,686.27 170.01,686.22 170.63,686.18 171.25,686.14 171.87,686.12 172.49,686.11 173.11,686.11 173.73,686.12 174.35,686.13 174.97,686.16 175.59,686.19 176.21,686.22 176.83,686.27 177.45,686.32 178.07,686.38 178.70,686.45 179.32,686.52 179.94,686.60 180.56,686.69 181.18,686.78 181.80,686.88 182.42,686.99 183.04,687.11 183.66,687.23 184.28,687.36 184.90,687.50 185.52,687.64 186.14,687.79 186.76,687.94 187.38,688.11 188.00,688.28 188.62,688.45 189.24,688.63 189.86,688.82 190.48,689.01 191.10,689.21 191.72,689.42 192.34,689.63 192.96,689.84 193.58,690.06 194.20,690.29 194.83,690.52 195.45,690.76 196.07,691.00 196.69,691.25 197.31,691.50 197.93,691.76 198.55,692.02 199.17,692.28 199.79,692.55 200.41,692.83 201.03,693.11 201.65,693.39 202.27,693.67 202.89,693.96 203.51,694.25 204.13,694.55 204.75,694.85 205.37,695.15 205.99,695.45 206.61,695.76 207.23,696.07 207.85,696.38 208.47,696.69 209.09,697.00 209.71,697.32 210.33,697.64 210.95,697.95 211.58,698.27 212.20,698.59 212.82,698.92 213.44,699.24 214.06,699.56 214.68,699.88 215.30,700.20 215.92,700.52 216.54,700.84 217.16,701.16 217.78,701.48 218.40,701.80 219.02,702.11 219.64,702.43 220.26,702.74 220.88,703.05 221.50,703.35 222.12,703.65 222.74,703.95 223.36,704.25 223.98,704.54 224.60,704.83 225.22,705.11 225.84,705.39 226.46,705.66 227.08,705.92 227.71,706.18 228.33,706.43 228.95,706.67 229.57,706.91 230.19,707.13 230.81,707.34 231.43,707.53 232.05,707.70 232.67,707.85 233.29,707.94 233.91,707.96 234.53,707.93 235.15,707.86 235.77,707.75 236.39,707.60 237.01,707.42 237.63,707.20 238.25,706.93 238.87,706.63 239.49,706.27 240.11,705.88 240.73,705.44 241.35,704.95 241.97,704.41 242.59,703.82 243.21,703.18 243.83,702.48 244.46,701.73 245.08,700.93 245.70,700.07 246.32,699.16 246.94,698.19 247.56,697.16 248.18,696.07 248.80,694.92 249.42,693.72 250.04,692.45 250.66,691.12 251.28,689.74 251.90,688.29 252.52,686.79 253.14,685.22 253.76,683.59 254.38,681.91 255.00,680.16 255.62,678.36 256.24,676.50 256.86,674.58 257.48,672.61 258.10,670.58 258.72,668.49 259.34,666.35 259.96,664.16 260.58,661.92 261.21,659.63 261.83,657.30 262.45,654.91 263.07,652.49 263.69,650.02 264.31,647.50 264.93,644.95 265.55,642.37 266.17,639.75 266.79,637.09 267.41,634.41 268.03,631.70 268.65,628.96 269.27,626.20 269.89,623.43 270.51,620.63 271.13,617.82 271.75,615.00 272.37,612.17 272.99,609.33 273.61,606.49 274.23,603.65 274.85,600.81 275.47,597.98 276.09,595.16 276.71,592.35 277.33,589.56 277.96,586.78 278.58,584.02 279.20,581.29 279.82,578.59 280.44,575.92 281.06,573.28 281.68,570.68 282.30,568.12 282.92,565.60 283.54,563.12 284.16,560.70 284.78,558.33 285.40,556.01 286.02,553.75 286.64,551.55 287.26,549.41 287.88,547.34 288.50,545.34 289.12,543.40 289.74,541.54 290.36,539.76 290.98,538.05 291.60,536.42 292.22,534.88 292.84,533.41 293.46,532.04 294.09,530.75 294.71,529.55 295.33,528.44 295.95,527.42 296.57,526.49 297.19,525.66 297.81,524.92 298.43,524.28 299.05,523.74 299.67,523.29 300.29,522.95 300.91,522.70 301.53,522.55 302.15,522.50 302.77,522.55 303.39,522.70 304.01,522.95 304.63,523.29 305.25,523.74 305.87,524.28 306.49,524.92 307.11,525.66 307.73,526.49 308.35,527.42 308.97,528.44 309.59,529.55 310.21,530.75 310.84,532.04 311.46,533.41 312.08,534.88 312.70,536.42 313.32,538.05 313.94,539.76 314.56,541.54 315.18,543.40 315.80,545.34 316.42,547.34 317.04,549.41 317.66,551.55 318.28,553.75 318.90,556.01 319.52,558.33 320.14,560.70 320.76,563.12 321.38,565.60 322.00,568.12 322.62,570.68 323.24,573.28 323.86,575.92 324.48,578.59 325.10,581.29 325.72,584.02 326.34,586.78 326.96,589.56 327.59,592.35 328.21,595.16 328.83,597.98 329.45,600.81 330.07,603.65 330.69,606.49 331.31,609.33 331.93,612.17 332.55,615.00 333.17,617.82 333.79,620.63 334.41,623.43 335.03,626.20 335.65,628.96 336.27,631.70 336.89,634.41 337.51,637.09 338.13,639.75 338.75,642.37 339.37,644.95 339.99,647.50 340.61,650.02 341.23,652.49 341.85,654.91 342.47,657.30 343.09,659.63 343.72,661.92 344.34,664.16 344.96,666.35 345.58,668.49 346.20,670.58 346.82,672.61 347.44,674.58 348.06,676.50 348.68,678.36 349.30,680.16 349.92,681.91 350.54,683.59 351.16,685.22 351.78,686.79 352.40,688.29 353.02,689.74 353.64,691.12 354.26,692.45 354.88,693.72 355.50,694.92 356.12,696.07 356.74,697.16 357.36,698.19 357.98,699.16 358.60,700.07 359.22,700.93 359.84,701.73 360.47,702.48 361.09,703.18 361.71,703.82 362.33,704.41 362.95,704.95 363.57,705.44 364.19,705.88 364.81,706.27 365.43,706.63 366.05,706.93 366.67,707.20 367.29,707.42 367.91,707.60 368.53,707.75 369.15,707.86 369.77,707.93 370.39,707.96 371.01,707.94 371.63,707.85 372.25,707.70 372.87,707.53 373.49,707.34 374.11,707.13 374.73,706.91 375.35,706.67 375.97,706.43 376.59,706.18 377.22,705.92 377.84,705.66 378.46,705.39 379.08,705.11 379.70,704.83 380.32,704.54 380.94,704.25 381.56,703.95 382.18,703.65 382.80,703.35 383.42,703.05 384.04,702.74 384.66,702.43 385.28,702.11 385.90,701.80 386.52,701.48 387.14,701.16 387.76,700.84 388.38,700.52 389.00,700.20 389.62,699.88 390.24,699.56 390.86,699.24 391.48,698.92 392.10,698.59 392.72,698.27 393.35,697.95 393.97,697.64 394.59,697.32 395.21,697.00 395.83,696.69 396.45,696.38 397.07,696.07 397.69,695.76 398.31,695.45 398.93,695.15 399.55,694.85 400.17,694.55 400.79,694.25 401.41,693.96 402.03,693.67 402.65,693.39 403.27,693.11 403.89,692.83 404.51,692.55 405.13,692.28 405.75,692.02 406.37,691.76 406.99,691.50 407.61,691.25 408.23,691.00 408.85,690.76 409.47,690.52 410.10,690.29 410.72,690.06 411.34,689.84 411.96,689.63 412.58,689.42 413.20,689.21 413.82,689.01 414.44,688.82 415.06,688.63 415.68,688.45 416.30,688.28 416.92,688.11 417.54,687.94 418.16,687.79 418.78,687.64 419.40,687.50 420.02,687.36 420.64,687.23 421.26,687.11 421.88,686.99 422.50,686.88 423.12,686.78 423.74,686.69 424.36,686.60 424.98,686.52 425.60,686.45 426.23,686.38 426.85,686.32 427.47,686.27 428.09,686.22 428.71,686.19 429.33,686.16 429.95,686.13 430.57,686.12 431.19,686.11 431.81,686.11 432.43,686.12 433.05,686.14 433.67,686.18 434.29,686.22 434.91,686.27 435.53,686.34 436.15,686.42 436.77,686.51 437.39,686.61 438.01,686.72 438.63,686.84 439.25,686.97 439.87,687.11 440.49,687.26 441.11,687.42 441.73,687.59 442.35,687.78 442.98,687.97 443.60,688.17 444.22,688.38 444.84,688.60 445.46,688.82 446.08,689.06 446.70,689.30 447.32,689.56 447.94,689.82 448.56,690.08 449.18,690.36 449.80,690.64 450.42,690.93 451.04,691.22 451.66,691.52 452.28,691.83 452.90,692.14 453.52,692.45 454.14,692.78 454.76,693.10 455.38,693.43 456.00,693.77 456.62,694.10 457.24,694.44 457.86,694.78 458.48,695.13 459.10,695.48 459.73,695.82 460.35,696.17 460.97,696.53 461.59,696.88 462.21,697.23 462.83,697.58 463.45,697.93 464.07,698.28 464.69,698.63 465.31,698.98 465.93,699.32 466.55,699.66 467.17,700.00 467.79,700.34 468.41,700.67 469.03,701.00 469.65,701.33 470.27,701.65 470.89,701.97 471.51,702.28 472.13,702.58 472.75,702.88 473.37,703.18 473.99,703.47 474.61,703.75 475.23,704.02 475.85,704.29 476.48,704.55 477.10,704.80 477.72,705.05 478.34,705.28 478.96,705.51 479.58,705.73 480.20,705.94 480.82,706.14 481.44,706.33 482.06,706.51 482.68,706.68 483.30,706.84 483.92,707.00 484.54,707.14 485.16,707.27 485.78,707.39 486.40,707.50 487.02,707.60 487.64,707.69 488.26,707.76 488.88,707.83 489.50,707.89 490.12,707.93 490.74,707.96 491.36,707.98 491.98,707.99 492.61,708.00 493.23,707.99 493.85,707.98 494.47,707.96 495.09,707.94 495.71,707.92 496.33,707.89 496.95,707.85 497.57,707.81 498.19,707.77 498.81,707.72 499.43,707.66 500.05,707.60 500.67,707.54 501.29,707.48 501.91,707.41 502.53,707.33 503.15,707.25 503.77,707.17 504.39,707.09 505.01,707.00 505.63,706.91 506.25,706.82 506.87,706.72 507.49,706.62 508.11,706.53 508.73,706.42 509.36,706.32 509.98,706.22 510.60,706.11 511.22,706.01 511.84,705.90 512.46,705.79 513.08,705.69 513.70,705.58 514.32,705.48 514.94,705.37 515.56,705.27 516.18,705.16 516.80,705.06 517.42,704.96 518.04,704.86 518.66,704.77 519.28,704.67 519.90,704.58 520.52,704.49 521.14,704.41 521.76,704.33 522.38,704.25 523.00,704.17 523.62,704.10 524.24,704.03 524.86,703.97 525.48,703.91 526.11,703.85 526.73,703.80 527.35,703.75 527.97,703.71 528.59,703.67 529.21,703.64 529.83,703.61 530.45,703.59 531.07,703.57 531.69,703.56 532.31,703.55 532.93,703.55 533.55,703.55 534.17,703.56 534.79,703.57 535.41,703.59 536.03,703.61 536.65,703.64 537.27,703.67 537.89,703.71 538.51,703.75 539.13,703.80 539.75,703.85 540.37,703.91 540.99,703.97 541.61,704.03 542.24,704.10 542.86,704.17 543.48,704.25 544.10,704.33 544.72,704.41 545.34,704.49 545.96,704.58 546.58,704.67 547.20,704.77 547.82,704.86 548.44,704.96 549.06,705.06 549.68,705.15 550.30,705.21" stroke="#ff0000" stroke-width="4.7" fill="none" stroke-linejoin="round" clip-path="url(#cd)"/>
<path d="M54.00,708.0 v-6 M54.00,522.5 v6 M116.04,708.0 v-3 M116.04,522.5 v3 M178.07,708.0 v-6 M178.07,522.5 v6 M240.11,708.0 v-3 M240.11,522.5 v3 M302.15,708.0 v-6 M302.15,522.5 v6 M364.19,708.0 v-3 M364.19,522.5 v3 M426.23,708.0 v-6 M426.23,522.5 v6 M488.26,708.0 v-3 M488.26,522.5 v3 M550.30,708.0 v-6 M550.30,522.5 v6 M54.0,708.00 h6 M550.3,708.00 h-6 M54.0,661.62 h3 M550.3,661.62 h-3 M54.0,615.25 h6 M550.3,615.25 h-6 M54.0,568.88 h3 M550.3,568.88 h-3 M54.0,522.50 h6 M550.3,522.50 h-6" stroke="#111" stroke-width="1.2" fill="none"/>
<text x="47.4" y="527.40" font-size="13.9" text-anchor="end">1.0</text>
<text x="47.4" y="620.15" font-size="13.9" text-anchor="end">0.5</text>
<text x="47.4" y="712.90" font-size="13.9" text-anchor="end">0.0</text>
<text x="54.00" y="726.7" font-size="13.9" text-anchor="middle">-100</text>
<text x="178.07" y="726.7" font-size="13.9" text-anchor="middle">-50</text>
<text x="302.15" y="726.7" font-size="13.9" text-anchor="middle">0</text>
<text x="426.23" y="726.7" font-size="13.9" text-anchor="middle">50</text>
<text x="550.30" y="726.7" font-size="13.9" text-anchor="middle">100</text>
<text x="277" y="740" font-size="18.6">y [cm]</text>
<text transform="translate(20,611.5) rotate(-90)" font-size="17.8" text-anchor="middle">|p|<tspan font-size="11" dy="-8.5">2</tspan></text>
<text x="66" y="551.5" font-size="24" letter-spacing="0.7">(d)</text>
</svg></body></html>
